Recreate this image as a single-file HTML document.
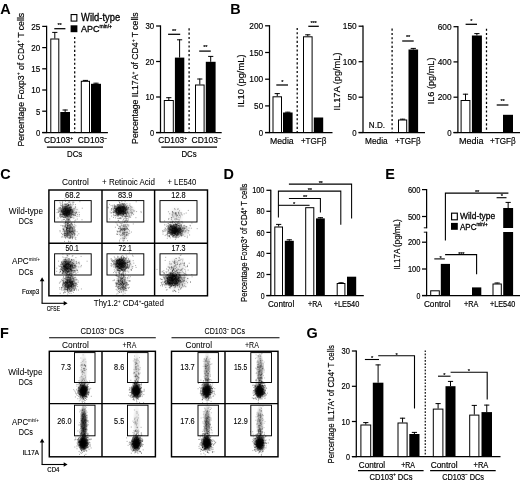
<!DOCTYPE html>
<html lang="en"><head><meta charset="utf-8"><title>Figure</title>
<style>html,body{margin:0;padding:0;background:#fff}svg{display:block}text{font-family:"Liberation Sans", sans-serif;fill:#000;stroke:#000;stroke-width:.18px}.s{stroke-width:.04px}.m{stroke-width:.16px}.b{stroke-width:.3px}.n{stroke-width:.12px}</style>
</head><body>
<svg width="520" height="482" viewBox="0 0 520 482">
<defs><radialGradient id="cg"><stop offset="0" stop-color="#000" stop-opacity="1"/><stop offset="0.5" stop-color="#000" stop-opacity="0.8"/><stop offset="0.78" stop-color="#000" stop-opacity="0.28"/><stop offset="1" stop-color="#000" stop-opacity="0"/></radialGradient><filter id="bl" x="-5%" y="-5%" width="110%" height="110%"><feGaussianBlur stdDeviation="0.3"/></filter><filter id="bl2" x="-30%" y="-30%" width="160%" height="160%"><feGaussianBlur stdDeviation="0.8"/></filter></defs>
<rect width="520" height="482" fill="#fff"/>
<text x="0.25" y="13.60" font-size="14.4" font-weight="bold" class="s">A</text>
<text x="230.30" y="13.60" font-size="14.4" font-weight="bold" class="s">B</text>
<text x="0.20" y="179.00" font-size="14.4" font-weight="bold" class="s">C</text>
<text x="223.40" y="178.80" font-size="14.4" font-weight="bold" class="s">D</text>
<text x="385.20" y="178.80" font-size="14.4" font-weight="bold" class="s">E</text>
<text x="0.10" y="337.80" font-size="14.4" font-weight="bold" class="s">F</text>
<text x="306.40" y="337.90" font-size="14.4" font-weight="bold" class="s">G</text>
<line x1="46.60" y1="25.77" x2="46.60" y2="133.12" stroke="#000" stroke-width="1.25"/>
<line x1="42.20" y1="26.40" x2="46.60" y2="26.40" stroke="#000" stroke-width="1.25"/>
<text x="40.30" y="29.76" font-size="9.60" text-anchor="end" textLength="9.00" lengthAdjust="spacingAndGlyphs">25</text>
<line x1="42.20" y1="47.60" x2="46.60" y2="47.60" stroke="#000" stroke-width="1.25"/>
<text x="40.30" y="50.96" font-size="9.60" text-anchor="end" textLength="9.00" lengthAdjust="spacingAndGlyphs">20</text>
<line x1="42.20" y1="68.80" x2="46.60" y2="68.80" stroke="#000" stroke-width="1.25"/>
<text x="40.30" y="72.16" font-size="9.60" text-anchor="end" textLength="9.00" lengthAdjust="spacingAndGlyphs">15</text>
<line x1="42.20" y1="90.00" x2="46.60" y2="90.00" stroke="#000" stroke-width="1.25"/>
<text x="40.30" y="93.36" font-size="9.60" text-anchor="end" textLength="9.00" lengthAdjust="spacingAndGlyphs">10</text>
<line x1="42.20" y1="111.20" x2="46.60" y2="111.20" stroke="#000" stroke-width="1.25"/>
<text x="40.30" y="114.56" font-size="9.60" text-anchor="end" textLength="4.30" lengthAdjust="spacingAndGlyphs">5</text>
<line x1="42.20" y1="132.50" x2="46.60" y2="132.50" stroke="#000" stroke-width="1.25"/>
<text x="40.30" y="135.86" font-size="9.60" text-anchor="end" textLength="4.30" lengthAdjust="spacingAndGlyphs">0</text>
<line x1="42.20" y1="132.50" x2="107.90" y2="132.50" stroke="#000" stroke-width="1.25"/>
<line x1="54.80" y1="38.50" x2="54.80" y2="32.00" stroke="#000" stroke-width="1.00"/>
<line x1="52.20" y1="32.40" x2="57.40" y2="32.40" stroke="#000" stroke-width="1.00"/>
<rect x="50.80" y="39.00" width="8.00" height="93.50" fill="#fff" stroke="#000" stroke-width="1.00"/>
<line x1="65.15" y1="112.00" x2="65.15" y2="109.60" stroke="#000" stroke-width="1.00"/>
<line x1="62.55" y1="110.00" x2="67.75" y2="110.00" stroke="#000" stroke-width="1.00"/>
<rect x="60.30" y="112.00" width="9.70" height="20.50" fill="#000"/>
<line x1="85.40" y1="80.80" x2="85.40" y2="80.00" stroke="#000" stroke-width="1.00"/>
<line x1="82.80" y1="80.40" x2="88.00" y2="80.40" stroke="#000" stroke-width="1.00"/>
<rect x="81.30" y="81.30" width="8.20" height="51.20" fill="#fff" stroke="#000" stroke-width="1.00"/>
<line x1="96.00" y1="83.80" x2="96.00" y2="82.80" stroke="#000" stroke-width="1.00"/>
<line x1="93.40" y1="83.20" x2="98.60" y2="83.20" stroke="#000" stroke-width="1.00"/>
<rect x="91.00" y="83.80" width="10.00" height="48.70" fill="#000"/>
<line x1="74.70" y1="36.90" x2="74.70" y2="132.50" stroke="#000" stroke-width="1.25" stroke-dasharray="2.1 2.2"/>
<line x1="54.30" y1="28.70" x2="65.40" y2="28.70" stroke="#000" stroke-width="1.25"/>
<text x="59.50" y="26.65" font-size="5.80" text-anchor="middle" letter-spacing="-0.3">**</text>
<rect x="71.15" y="14.55" width="5.70" height="6.55" fill="#fff" stroke="#000" stroke-width="1.10"/>
<rect x="70.60" y="25.30" width="6.80" height="6.90" fill="#000"/>
<text x="81.00" y="21.30" font-size="10.00" textLength="39.20" lengthAdjust="spacingAndGlyphs" class="b">Wild-type</text>
<text x="81.00" y="31.80" font-size="9.60" textLength="31.00" lengthAdjust="spacingAndGlyphs" class="b">APC<tspan dy="-3.65" font-size="5.38">min/+</tspan></text>
<text x="43.90" y="143.40" font-size="9.30" textLength="29.10" lengthAdjust="spacingAndGlyphs">CD103<tspan dy="-3.53" font-size="5.21">+</tspan></text>
<text x="77.70" y="143.40" font-size="9.30" textLength="29.20" lengthAdjust="spacingAndGlyphs">CD103<tspan dy="-3.53" font-size="5.21">−</tspan></text>
<line x1="46.90" y1="147.20" x2="103.00" y2="147.20" stroke="#000" stroke-width="1.20"/>
<text x="67.00" y="157.40" font-size="9.30" textLength="15.20" lengthAdjust="spacingAndGlyphs">DCs</text>
<text transform="translate(23.70 146.60) rotate(-90)" font-size="9.20" textLength="133.80" lengthAdjust="spacingAndGlyphs">Percentage Foxp3<tspan dy="-3.50" font-size="5.15">+</tspan><tspan dy="3.50"> of CD4</tspan><tspan dy="-3.50" font-size="5.15">+</tspan><tspan dy="3.50"> T cells</tspan></text>
<line x1="160.50" y1="25.38" x2="160.50" y2="133.12" stroke="#000" stroke-width="1.25"/>
<line x1="156.10" y1="26.00" x2="160.50" y2="26.00" stroke="#000" stroke-width="1.25"/>
<text x="154.20" y="29.18" font-size="9.10" text-anchor="end" textLength="8.70" lengthAdjust="spacingAndGlyphs">30</text>
<line x1="156.10" y1="61.50" x2="160.50" y2="61.50" stroke="#000" stroke-width="1.25"/>
<text x="154.20" y="64.69" font-size="9.10" text-anchor="end" textLength="8.70" lengthAdjust="spacingAndGlyphs">20</text>
<line x1="156.10" y1="97.00" x2="160.50" y2="97.00" stroke="#000" stroke-width="1.25"/>
<text x="154.20" y="100.19" font-size="9.10" text-anchor="end" textLength="8.70" lengthAdjust="spacingAndGlyphs">10</text>
<line x1="156.10" y1="132.50" x2="160.50" y2="132.50" stroke="#000" stroke-width="1.25"/>
<text x="154.20" y="135.69" font-size="9.10" text-anchor="end" textLength="4.15" lengthAdjust="spacingAndGlyphs">0</text>
<line x1="156.10" y1="132.50" x2="221.70" y2="132.50" stroke="#000" stroke-width="1.25"/>
<line x1="168.80" y1="100.00" x2="168.80" y2="97.30" stroke="#000" stroke-width="1.00"/>
<line x1="166.20" y1="97.70" x2="171.40" y2="97.70" stroke="#000" stroke-width="1.00"/>
<rect x="164.30" y="100.50" width="9.00" height="32.00" fill="#fff" stroke="#000" stroke-width="1.00"/>
<line x1="179.60" y1="57.60" x2="179.60" y2="39.40" stroke="#000" stroke-width="1.00"/>
<line x1="177.00" y1="39.80" x2="182.20" y2="39.80" stroke="#000" stroke-width="1.00"/>
<rect x="174.90" y="57.60" width="9.40" height="74.90" fill="#000"/>
<line x1="199.80" y1="84.50" x2="199.80" y2="78.60" stroke="#000" stroke-width="1.00"/>
<line x1="197.20" y1="79.00" x2="202.40" y2="79.00" stroke="#000" stroke-width="1.00"/>
<rect x="195.50" y="85.00" width="8.60" height="47.50" fill="#fff" stroke="#000" stroke-width="1.00"/>
<line x1="210.70" y1="61.80" x2="210.70" y2="56.00" stroke="#000" stroke-width="1.00"/>
<line x1="208.10" y1="56.40" x2="213.30" y2="56.40" stroke="#000" stroke-width="1.00"/>
<rect x="205.80" y="61.80" width="9.80" height="70.70" fill="#000"/>
<line x1="189.10" y1="28.30" x2="189.10" y2="132.50" stroke="#000" stroke-width="1.25" stroke-dasharray="2.1 2.2"/>
<line x1="168.10" y1="34.30" x2="180.20" y2="34.30" stroke="#000" stroke-width="1.25"/>
<text x="174.00" y="32.65" font-size="5.80" text-anchor="middle" letter-spacing="-0.3">**</text>
<line x1="199.20" y1="51.10" x2="210.80" y2="51.10" stroke="#000" stroke-width="1.25"/>
<text x="205.20" y="49.25" font-size="5.80" text-anchor="middle" letter-spacing="-0.3">**</text>
<text x="158.30" y="143.40" font-size="9.30" textLength="28.60" lengthAdjust="spacingAndGlyphs">CD103<tspan dy="-3.53" font-size="5.21">+</tspan></text>
<text x="191.50" y="143.40" font-size="9.30" textLength="29.20" lengthAdjust="spacingAndGlyphs">CD103<tspan dy="-3.53" font-size="5.21">−</tspan></text>
<line x1="161.30" y1="147.20" x2="217.00" y2="147.20" stroke="#000" stroke-width="1.20"/>
<text x="181.40" y="157.40" font-size="9.30" textLength="15.20" lengthAdjust="spacingAndGlyphs">DCs</text>
<text transform="translate(138.00 143.90) rotate(-90)" font-size="9.20" textLength="131.50" lengthAdjust="spacingAndGlyphs">Percentage IL17A<tspan dy="-3.50" font-size="5.15">+</tspan><tspan dy="3.50"> of CD4</tspan><tspan dy="-3.50" font-size="5.15">+</tspan><tspan dy="3.50"> T cells</tspan></text>
<line x1="269.50" y1="25.18" x2="269.50" y2="133.12" stroke="#000" stroke-width="1.25"/>
<line x1="265.10" y1="25.80" x2="269.50" y2="25.80" stroke="#000" stroke-width="1.25"/>
<text x="263.20" y="29.05" font-size="9.30" text-anchor="end" textLength="13.85" lengthAdjust="spacingAndGlyphs">200</text>
<line x1="265.10" y1="52.50" x2="269.50" y2="52.50" stroke="#000" stroke-width="1.25"/>
<text x="263.20" y="55.76" font-size="9.30" text-anchor="end" textLength="13.85" lengthAdjust="spacingAndGlyphs">150</text>
<line x1="265.10" y1="79.20" x2="269.50" y2="79.20" stroke="#000" stroke-width="1.25"/>
<text x="263.20" y="82.45" font-size="9.30" text-anchor="end" textLength="13.85" lengthAdjust="spacingAndGlyphs">100</text>
<line x1="265.10" y1="105.90" x2="269.50" y2="105.90" stroke="#000" stroke-width="1.25"/>
<text x="263.20" y="109.16" font-size="9.30" text-anchor="end" textLength="9.10" lengthAdjust="spacingAndGlyphs">50</text>
<line x1="265.10" y1="132.50" x2="269.50" y2="132.50" stroke="#000" stroke-width="1.25"/>
<text x="263.20" y="135.75" font-size="9.30" text-anchor="end" textLength="4.35" lengthAdjust="spacingAndGlyphs">0</text>
<line x1="265.10" y1="132.50" x2="332.50" y2="132.50" stroke="#000" stroke-width="1.25"/>
<line x1="277.25" y1="96.30" x2="277.25" y2="93.20" stroke="#000" stroke-width="1.00"/>
<line x1="274.65" y1="93.60" x2="279.85" y2="93.60" stroke="#000" stroke-width="1.00"/>
<rect x="273.00" y="96.80" width="8.50" height="35.70" fill="#fff" stroke="#000" stroke-width="1.00"/>
<line x1="287.80" y1="112.50" x2="287.80" y2="111.80" stroke="#000" stroke-width="1.00"/>
<line x1="285.20" y1="112.20" x2="290.40" y2="112.20" stroke="#000" stroke-width="1.00"/>
<rect x="283.00" y="112.50" width="9.60" height="20.00" fill="#000"/>
<line x1="307.80" y1="36.30" x2="307.80" y2="34.40" stroke="#000" stroke-width="1.00"/>
<line x1="305.20" y1="34.80" x2="310.40" y2="34.80" stroke="#000" stroke-width="1.00"/>
<rect x="303.50" y="36.80" width="8.60" height="95.70" fill="#fff" stroke="#000" stroke-width="1.00"/>
<rect x="313.80" y="117.50" width="9.40" height="15.00" fill="#000"/>
<line x1="297.20" y1="27.90" x2="297.20" y2="132.50" stroke="#000" stroke-width="1.25" stroke-dasharray="2.1 2.2"/>
<line x1="276.30" y1="85.00" x2="288.00" y2="85.00" stroke="#000" stroke-width="1.25"/>
<text x="282.20" y="83.55" font-size="5.80" text-anchor="middle" letter-spacing="-0.3">*</text>
<line x1="308.30" y1="26.30" x2="318.80" y2="26.30" stroke="#000" stroke-width="1.25"/>
<text x="313.50" y="24.75" font-size="5.80" text-anchor="middle" letter-spacing="-0.3">***</text>
<text x="270.00" y="143.50" font-size="9.30" textLength="23.70" lengthAdjust="spacingAndGlyphs">Media</text>
<text x="300.90" y="143.50" font-size="9.30" textLength="25.50" lengthAdjust="spacingAndGlyphs">+TGFβ</text>
<text transform="translate(243.50 107.30) rotate(-90)" font-size="9.70" textLength="52.80" lengthAdjust="spacingAndGlyphs">IL10 (pg/mL)</text>
<line x1="363.00" y1="25.57" x2="363.00" y2="133.12" stroke="#000" stroke-width="1.25"/>
<line x1="358.60" y1="26.20" x2="363.00" y2="26.20" stroke="#000" stroke-width="1.25"/>
<text x="356.70" y="29.45" font-size="9.30" text-anchor="end" textLength="13.85" lengthAdjust="spacingAndGlyphs">150</text>
<line x1="358.60" y1="61.70" x2="363.00" y2="61.70" stroke="#000" stroke-width="1.25"/>
<text x="356.70" y="64.95" font-size="9.30" text-anchor="end" textLength="13.85" lengthAdjust="spacingAndGlyphs">100</text>
<line x1="358.60" y1="97.20" x2="363.00" y2="97.20" stroke="#000" stroke-width="1.25"/>
<text x="356.70" y="100.45" font-size="9.30" text-anchor="end" textLength="9.10" lengthAdjust="spacingAndGlyphs">50</text>
<line x1="358.60" y1="132.50" x2="363.00" y2="132.50" stroke="#000" stroke-width="1.25"/>
<text x="356.70" y="135.75" font-size="9.30" text-anchor="end" textLength="4.35" lengthAdjust="spacingAndGlyphs">0</text>
<line x1="358.60" y1="132.50" x2="425.00" y2="132.50" stroke="#000" stroke-width="1.25"/>
<line x1="392.10" y1="28.60" x2="392.10" y2="132.50" stroke="#000" stroke-width="1.25" stroke-dasharray="2.1 2.2"/>
<text x="368.80" y="127.60" font-size="9.00" textLength="16.20" lengthAdjust="spacingAndGlyphs">N.D.</text>
<line x1="402.60" y1="119.50" x2="402.60" y2="118.80" stroke="#000" stroke-width="1.00"/>
<line x1="400.00" y1="119.20" x2="405.20" y2="119.20" stroke="#000" stroke-width="1.00"/>
<rect x="398.50" y="120.00" width="8.20" height="12.50" fill="#fff" stroke="#000" stroke-width="1.00"/>
<line x1="413.30" y1="49.50" x2="413.30" y2="48.00" stroke="#000" stroke-width="1.00"/>
<line x1="410.70" y1="48.40" x2="415.90" y2="48.40" stroke="#000" stroke-width="1.00"/>
<rect x="408.50" y="49.50" width="9.60" height="83.00" fill="#000"/>
<line x1="402.20" y1="41.00" x2="413.70" y2="41.00" stroke="#000" stroke-width="1.25"/>
<text x="407.90" y="38.65" font-size="5.80" text-anchor="middle" letter-spacing="-0.3">**</text>
<text x="365.00" y="143.50" font-size="9.30" textLength="22.60" lengthAdjust="spacingAndGlyphs">Media</text>
<text x="395.00" y="143.50" font-size="9.30" textLength="25.60" lengthAdjust="spacingAndGlyphs">+TGFβ</text>
<text transform="translate(339.60 110.50) rotate(-90)" font-size="9.70" textLength="58.00" lengthAdjust="spacingAndGlyphs">IL17A (pg/mL)</text>
<line x1="457.90" y1="26.07" x2="457.90" y2="133.12" stroke="#000" stroke-width="1.25"/>
<line x1="453.50" y1="26.70" x2="457.90" y2="26.70" stroke="#000" stroke-width="1.25"/>
<text x="451.60" y="29.95" font-size="9.30" text-anchor="end" textLength="13.85" lengthAdjust="spacingAndGlyphs">600</text>
<line x1="453.50" y1="61.90" x2="457.90" y2="61.90" stroke="#000" stroke-width="1.25"/>
<text x="451.60" y="65.16" font-size="9.30" text-anchor="end" textLength="13.85" lengthAdjust="spacingAndGlyphs">400</text>
<line x1="453.50" y1="97.20" x2="457.90" y2="97.20" stroke="#000" stroke-width="1.25"/>
<text x="451.60" y="100.45" font-size="9.30" text-anchor="end" textLength="13.85" lengthAdjust="spacingAndGlyphs">200</text>
<line x1="453.50" y1="132.50" x2="457.90" y2="132.50" stroke="#000" stroke-width="1.25"/>
<text x="451.60" y="135.75" font-size="9.30" text-anchor="end" textLength="4.35" lengthAdjust="spacingAndGlyphs">0</text>
<line x1="453.50" y1="132.50" x2="520.00" y2="132.50" stroke="#000" stroke-width="1.25"/>
<line x1="465.50" y1="100.00" x2="465.50" y2="93.80" stroke="#000" stroke-width="1.00"/>
<line x1="462.90" y1="94.20" x2="468.10" y2="94.20" stroke="#000" stroke-width="1.00"/>
<rect x="461.10" y="100.50" width="8.80" height="32.00" fill="#fff" stroke="#000" stroke-width="1.00"/>
<line x1="476.90" y1="35.50" x2="476.90" y2="33.20" stroke="#000" stroke-width="1.00"/>
<line x1="474.30" y1="33.60" x2="479.50" y2="33.60" stroke="#000" stroke-width="1.00"/>
<rect x="471.90" y="35.50" width="10.00" height="97.00" fill="#000"/>
<rect x="503.00" y="114.80" width="10.00" height="17.70" fill="#000"/>
<line x1="486.50" y1="28.70" x2="486.50" y2="132.50" stroke="#000" stroke-width="1.25" stroke-dasharray="2.1 2.2"/>
<line x1="465.60" y1="24.30" x2="477.00" y2="24.30" stroke="#000" stroke-width="1.25"/>
<text x="471.30" y="22.75" font-size="5.80" text-anchor="middle" letter-spacing="-0.3">*</text>
<line x1="496.70" y1="105.00" x2="508.40" y2="105.00" stroke="#000" stroke-width="1.25"/>
<text x="502.50" y="103.25" font-size="5.80" text-anchor="middle" letter-spacing="-0.3">**</text>
<text x="459.00" y="143.50" font-size="9.30" textLength="24.60" lengthAdjust="spacingAndGlyphs">Media</text>
<text x="490.00" y="143.50" font-size="9.30" textLength="25.60" lengthAdjust="spacingAndGlyphs">+TGFβ</text>
<text transform="translate(434.10 104.30) rotate(-90)" font-size="9.70" textLength="46.80" lengthAdjust="spacingAndGlyphs">IL6 (pg/mL)</text>
<line x1="270.80" y1="189.68" x2="270.80" y2="296.12" stroke="#000" stroke-width="1.25"/>
<line x1="266.40" y1="190.30" x2="270.80" y2="190.30" stroke="#000" stroke-width="1.25"/>
<text x="264.50" y="193.42" font-size="8.90" text-anchor="end" textLength="12.35" lengthAdjust="spacingAndGlyphs">100</text>
<line x1="266.40" y1="211.30" x2="270.80" y2="211.30" stroke="#000" stroke-width="1.25"/>
<text x="264.50" y="214.42" font-size="8.90" text-anchor="end" textLength="8.10" lengthAdjust="spacingAndGlyphs">80</text>
<line x1="266.40" y1="232.40" x2="270.80" y2="232.40" stroke="#000" stroke-width="1.25"/>
<text x="264.50" y="235.52" font-size="8.90" text-anchor="end" textLength="8.10" lengthAdjust="spacingAndGlyphs">60</text>
<line x1="266.40" y1="253.40" x2="270.80" y2="253.40" stroke="#000" stroke-width="1.25"/>
<text x="264.50" y="256.51" font-size="8.90" text-anchor="end" textLength="8.10" lengthAdjust="spacingAndGlyphs">40</text>
<line x1="266.40" y1="274.50" x2="270.80" y2="274.50" stroke="#000" stroke-width="1.25"/>
<text x="264.50" y="277.62" font-size="8.90" text-anchor="end" textLength="8.10" lengthAdjust="spacingAndGlyphs">20</text>
<line x1="266.40" y1="295.50" x2="270.80" y2="295.50" stroke="#000" stroke-width="1.25"/>
<text x="264.50" y="298.62" font-size="8.90" text-anchor="end" textLength="3.85" lengthAdjust="spacingAndGlyphs">0</text>
<line x1="266.40" y1="295.50" x2="363.80" y2="295.50" stroke="#000" stroke-width="1.25"/>
<line x1="278.65" y1="226.50" x2="278.65" y2="224.00" stroke="#000" stroke-width="1.00"/>
<line x1="276.05" y1="224.40" x2="281.25" y2="224.40" stroke="#000" stroke-width="1.00"/>
<rect x="274.80" y="227.00" width="7.70" height="68.50" fill="#fff" stroke="#000" stroke-width="1.00"/>
<line x1="289.30" y1="240.80" x2="289.30" y2="239.40" stroke="#000" stroke-width="1.00"/>
<line x1="286.70" y1="239.80" x2="291.90" y2="239.80" stroke="#000" stroke-width="1.00"/>
<rect x="284.80" y="240.80" width="9.00" height="54.70" fill="#000"/>
<rect x="305.70" y="207.70" width="8.10" height="87.80" fill="#fff" stroke="#000" stroke-width="1.00"/>
<line x1="320.40" y1="218.40" x2="320.40" y2="217.30" stroke="#000" stroke-width="1.00"/>
<line x1="317.80" y1="217.70" x2="323.00" y2="217.70" stroke="#000" stroke-width="1.00"/>
<rect x="316.00" y="218.40" width="8.80" height="77.10" fill="#000"/>
<line x1="341.05" y1="283.00" x2="341.05" y2="282.40" stroke="#000" stroke-width="1.00"/>
<line x1="338.45" y1="282.80" x2="343.65" y2="282.80" stroke="#000" stroke-width="1.00"/>
<rect x="337.20" y="283.50" width="7.70" height="12.00" fill="#fff" stroke="#000" stroke-width="1.00"/>
<rect x="347.00" y="276.70" width="9.20" height="18.80" fill="#000"/>
<polyline points="288.90,184.10 351.60,184.10 351.60,218.40" fill="none" stroke="#000" stroke-width="1.05"/>
<polyline points="278.40,217.60 278.40,191.10 340.80,191.10 340.80,224.70" fill="none" stroke="#000" stroke-width="1.05"/>
<polyline points="288.90,198.50 320.40,198.50 320.40,212.50" fill="none" stroke="#000" stroke-width="1.05"/>
<line x1="278.40" y1="205.30" x2="309.60" y2="205.30" stroke="#000" stroke-width="1.05"/>
<text x="320.60" y="184.95" font-size="5.80" text-anchor="middle" letter-spacing="-0.3">**</text>
<text x="309.70" y="191.85" font-size="5.80" text-anchor="middle" letter-spacing="-0.3">**</text>
<text x="305.00" y="199.35" font-size="5.80" text-anchor="middle" letter-spacing="-0.3">**</text>
<text x="293.90" y="206.25" font-size="5.80" text-anchor="middle" letter-spacing="-0.3">*</text>
<text x="268.00" y="307.30" font-size="8.30" textLength="26.20" lengthAdjust="spacingAndGlyphs">Control</text>
<text x="308.00" y="307.30" font-size="8.30" textLength="14.00" lengthAdjust="spacingAndGlyphs">+RA</text>
<text x="333.70" y="307.30" font-size="8.30" textLength="25.60" lengthAdjust="spacingAndGlyphs">+LE540</text>
<text transform="translate(246.80 302.00) rotate(-90)" font-size="8.30" textLength="118.50" lengthAdjust="spacingAndGlyphs">Percentage Foxp3<tspan dy="-3.15" font-size="4.65">+</tspan><tspan dy="3.15"> of CD4</tspan><tspan dy="-3.15" font-size="4.65">+</tspan><tspan dy="3.15"> T cells</tspan></text>
<line x1="426.60" y1="188.97" x2="426.60" y2="228.20" stroke="#000" stroke-width="1.25"/>
<line x1="426.60" y1="231.80" x2="426.60" y2="296.12" stroke="#000" stroke-width="1.25"/>
<line x1="423.80" y1="227.80" x2="427.10" y2="227.80" stroke="#000" stroke-width="0.90"/>
<line x1="423.80" y1="232.20" x2="427.10" y2="232.20" stroke="#000" stroke-width="0.90"/>
<line x1="422.00" y1="189.60" x2="426.60" y2="189.60" stroke="#000" stroke-width="1.25"/>
<text x="420.40" y="192.68" font-size="8.80" text-anchor="end" textLength="12.50" lengthAdjust="spacingAndGlyphs">600</text>
<line x1="422.00" y1="216.50" x2="426.60" y2="216.50" stroke="#000" stroke-width="1.25"/>
<text x="420.40" y="219.58" font-size="8.80" text-anchor="end" textLength="12.50" lengthAdjust="spacingAndGlyphs">500</text>
<line x1="422.00" y1="242.20" x2="426.60" y2="242.20" stroke="#000" stroke-width="1.25"/>
<text x="420.40" y="245.28" font-size="8.80" text-anchor="end" textLength="12.50" lengthAdjust="spacingAndGlyphs">200</text>
<line x1="422.00" y1="269.00" x2="426.60" y2="269.00" stroke="#000" stroke-width="1.25"/>
<text x="420.40" y="272.08" font-size="8.80" text-anchor="end" textLength="12.50" lengthAdjust="spacingAndGlyphs">100</text>
<line x1="422.00" y1="295.50" x2="426.60" y2="295.50" stroke="#000" stroke-width="1.25"/>
<text x="420.40" y="298.58" font-size="8.80" text-anchor="end" textLength="3.90" lengthAdjust="spacingAndGlyphs">0</text>
<line x1="422.00" y1="295.50" x2="520.00" y2="295.50" stroke="#000" stroke-width="1.25"/>
<rect x="430.70" y="290.80" width="8.60" height="4.70" fill="#fff" stroke="#000" stroke-width="1.00"/>
<rect x="440.80" y="263.90" width="9.20" height="31.60" fill="#000"/>
<rect x="472.00" y="287.40" width="9.30" height="8.10" fill="#000"/>
<line x1="497.15" y1="283.50" x2="497.15" y2="282.60" stroke="#000" stroke-width="1.00"/>
<line x1="494.55" y1="283.00" x2="499.75" y2="283.00" stroke="#000" stroke-width="1.00"/>
<rect x="493.00" y="284.00" width="8.30" height="11.50" fill="#fff" stroke="#000" stroke-width="1.00"/>
<line x1="508.15" y1="208.00" x2="508.15" y2="202.00" stroke="#000" stroke-width="1.00"/>
<line x1="505.55" y1="202.40" x2="510.75" y2="202.40" stroke="#000" stroke-width="1.00"/>
<rect x="503.20" y="208.00" width="9.90" height="87.50" fill="#000"/>
<rect x="502" y="228" width="12.4" height="4" fill="#fff"/>
<polyline points="445.40,240.60 445.40,193.10 508.40,193.10" fill="none" stroke="#000" stroke-width="1.10"/>
<line x1="496.60" y1="197.70" x2="506.50" y2="197.70" stroke="#000" stroke-width="1.10"/>
<text x="501.70" y="197.65" font-size="5.80" text-anchor="middle" letter-spacing="-0.3">*</text>
<text x="477.00" y="193.85" font-size="5.80" text-anchor="middle" letter-spacing="-0.3">**</text>
<line x1="434.30" y1="258.90" x2="444.80" y2="258.90" stroke="#000" stroke-width="1.10"/>
<text x="440.50" y="259.85" font-size="5.80" text-anchor="middle" letter-spacing="-0.3">*</text>
<polyline points="445.10,254.60 476.60,254.60 476.60,274.30" fill="none" stroke="#000" stroke-width="1.10"/>
<text x="461.20" y="255.65" font-size="5.80" text-anchor="middle" letter-spacing="-0.3">***</text>
<rect x="451.57" y="213.17" width="5.75" height="6.63" fill="#fff" stroke="#000" stroke-width="1.15"/>
<rect x="451.00" y="222.90" width="6.80" height="6.90" fill="#000"/>
<text x="460.00" y="219.30" font-size="9.20" textLength="35.20" lengthAdjust="spacingAndGlyphs" class="b">Wild-type</text>
<text x="460.00" y="229.70" font-size="9.20" textLength="27.70" lengthAdjust="spacingAndGlyphs" class="b">APC<tspan dy="-3.50" font-size="5.15">min/+</tspan></text>
<text x="423.90" y="307.30" font-size="8.30" textLength="26.60" lengthAdjust="spacingAndGlyphs">Control</text>
<text x="464.00" y="307.30" font-size="8.30" textLength="14.30" lengthAdjust="spacingAndGlyphs">+RA</text>
<text x="490.00" y="307.30" font-size="8.30" textLength="25.20" lengthAdjust="spacingAndGlyphs">+LE540</text>
<text transform="translate(400.00 269.80) rotate(-90)" font-size="8.40" textLength="50.60" lengthAdjust="spacingAndGlyphs">IL17A (pg/mL)</text>
<line x1="356.30" y1="350.38" x2="356.30" y2="457.23" stroke="#000" stroke-width="1.25"/>
<line x1="351.90" y1="351.00" x2="356.30" y2="351.00" stroke="#000" stroke-width="1.25"/>
<text x="350.00" y="354.08" font-size="8.80" text-anchor="end" textLength="8.40" lengthAdjust="spacingAndGlyphs">30</text>
<line x1="351.90" y1="386.30" x2="356.30" y2="386.30" stroke="#000" stroke-width="1.25"/>
<text x="350.00" y="389.38" font-size="8.80" text-anchor="end" textLength="8.40" lengthAdjust="spacingAndGlyphs">20</text>
<line x1="351.90" y1="421.50" x2="356.30" y2="421.50" stroke="#000" stroke-width="1.25"/>
<text x="350.00" y="424.58" font-size="8.80" text-anchor="end" textLength="8.40" lengthAdjust="spacingAndGlyphs">10</text>
<line x1="351.90" y1="456.60" x2="356.30" y2="456.60" stroke="#000" stroke-width="1.25"/>
<text x="350.00" y="459.68" font-size="8.80" text-anchor="end" textLength="4.00" lengthAdjust="spacingAndGlyphs">0</text>
<line x1="351.90" y1="456.60" x2="500.50" y2="456.60" stroke="#000" stroke-width="1.25"/>
<line x1="365.80" y1="424.50" x2="365.80" y2="422.20" stroke="#000" stroke-width="1.00"/>
<line x1="363.20" y1="422.60" x2="368.40" y2="422.60" stroke="#000" stroke-width="1.00"/>
<rect x="360.90" y="425.00" width="9.80" height="31.60" fill="#fff" stroke="#000" stroke-width="1.00"/>
<line x1="378.10" y1="382.70" x2="378.10" y2="364.50" stroke="#000" stroke-width="1.00"/>
<line x1="375.50" y1="364.90" x2="380.70" y2="364.90" stroke="#000" stroke-width="1.00"/>
<rect x="372.80" y="382.70" width="10.60" height="73.90" fill="#000"/>
<line x1="402.55" y1="422.50" x2="402.55" y2="417.80" stroke="#000" stroke-width="1.00"/>
<line x1="399.95" y1="418.20" x2="405.15" y2="418.20" stroke="#000" stroke-width="1.00"/>
<rect x="398.00" y="423.00" width="9.10" height="33.60" fill="#fff" stroke="#000" stroke-width="1.00"/>
<line x1="414.40" y1="434.00" x2="414.40" y2="432.00" stroke="#000" stroke-width="1.00"/>
<line x1="411.80" y1="432.40" x2="417.00" y2="432.40" stroke="#000" stroke-width="1.00"/>
<rect x="409.30" y="434.00" width="10.20" height="22.60" fill="#000"/>
<line x1="438.10" y1="408.60" x2="438.10" y2="403.20" stroke="#000" stroke-width="1.00"/>
<line x1="435.50" y1="403.60" x2="440.70" y2="403.60" stroke="#000" stroke-width="1.00"/>
<rect x="433.30" y="409.10" width="9.60" height="47.50" fill="#fff" stroke="#000" stroke-width="1.00"/>
<line x1="450.50" y1="386.20" x2="450.50" y2="381.00" stroke="#000" stroke-width="1.00"/>
<line x1="447.90" y1="381.40" x2="453.10" y2="381.40" stroke="#000" stroke-width="1.00"/>
<rect x="445.50" y="386.20" width="10.00" height="70.40" fill="#000"/>
<line x1="474.30" y1="414.60" x2="474.30" y2="405.00" stroke="#000" stroke-width="1.00"/>
<line x1="471.70" y1="405.40" x2="476.90" y2="405.40" stroke="#000" stroke-width="1.00"/>
<rect x="469.70" y="415.10" width="9.20" height="41.50" fill="#fff" stroke="#000" stroke-width="1.00"/>
<line x1="486.75" y1="412.10" x2="486.75" y2="404.70" stroke="#000" stroke-width="1.00"/>
<line x1="484.15" y1="405.10" x2="489.35" y2="405.10" stroke="#000" stroke-width="1.00"/>
<rect x="481.50" y="412.10" width="10.50" height="44.50" fill="#000"/>
<line x1="425.25" y1="350.40" x2="425.25" y2="456.60" stroke="#000" stroke-width="1.15" stroke-dasharray="1.7 1.5"/>
<line x1="364.90" y1="359.50" x2="379.00" y2="359.50" stroke="#000" stroke-width="1.10"/>
<text x="372.10" y="360.45" font-size="5.80" text-anchor="middle" letter-spacing="-0.3">*</text>
<polyline points="378.20,355.70 414.50,355.70 414.50,408.60" fill="none" stroke="#000" stroke-width="1.10"/>
<text x="396.40" y="356.55" font-size="5.80" text-anchor="middle" letter-spacing="-0.3">*</text>
<line x1="438.00" y1="376.20" x2="450.50" y2="376.20" stroke="#000" stroke-width="1.10"/>
<text x="444.30" y="376.95" font-size="5.80" text-anchor="middle" letter-spacing="-0.3">*</text>
<polyline points="450.60,372.20 487.20,372.20 487.20,399.40" fill="none" stroke="#000" stroke-width="1.10"/>
<text x="468.80" y="372.85" font-size="5.80" text-anchor="middle" letter-spacing="-0.3">*</text>
<text x="358.80" y="467.70" font-size="8.20" textLength="26.20" lengthAdjust="spacingAndGlyphs">Control</text>
<text x="401.30" y="467.70" font-size="8.20" textLength="13.70" lengthAdjust="spacingAndGlyphs">+RA</text>
<line x1="358.00" y1="470.60" x2="423.60" y2="470.60" stroke="#000" stroke-width="1.10"/>
<text x="369.50" y="479.60" font-size="8.20" textLength="43.00" lengthAdjust="spacingAndGlyphs">CD103<tspan dy="-3.12" font-size="4.59">+</tspan><tspan dy="3.12"> DCs</tspan></text>
<text x="430.70" y="467.70" font-size="8.20" textLength="26.90" lengthAdjust="spacingAndGlyphs">Control</text>
<text x="473.50" y="467.70" font-size="8.20" textLength="14.80" lengthAdjust="spacingAndGlyphs">+RA</text>
<line x1="430.10" y1="470.60" x2="495.70" y2="470.60" stroke="#000" stroke-width="1.10"/>
<text x="442.20" y="479.60" font-size="8.20" textLength="41.80" lengthAdjust="spacingAndGlyphs">CD103<tspan dy="-3.12" font-size="4.59">−</tspan><tspan dy="3.12"> DCs</tspan></text>
<text transform="translate(333.80 463.40) rotate(-90)" font-size="8.30" textLength="118.40" lengthAdjust="spacingAndGlyphs">Percentage IL17A<tspan dy="-3.15" font-size="4.65">+</tspan><tspan dy="3.15"> of CD4</tspan><tspan dy="-3.15" font-size="4.65">+</tspan><tspan dy="3.15"> T cells</tspan></text>
<text x="62.00" y="184.60" font-size="8.40" textLength="26.80" lengthAdjust="spacingAndGlyphs" class="s">Control</text>
<text x="102.00" y="184.60" font-size="8.40" textLength="53.00" lengthAdjust="spacingAndGlyphs" class="s">+ Retinoic Acid</text>
<text x="167.50" y="184.60" font-size="8.40" textLength="28.80" lengthAdjust="spacingAndGlyphs" class="s">+ LE540</text>
<text x="8.80" y="213.80" font-size="8.40" textLength="34.20" lengthAdjust="spacingAndGlyphs" class="s">Wild-type</text>
<text x="18.80" y="223.80" font-size="8.40" textLength="14.00" lengthAdjust="spacingAndGlyphs" class="s">DCs</text>
<text x="12.00" y="263.80" font-size="8.40" textLength="28.00" lengthAdjust="spacingAndGlyphs" class="s">APC<tspan dy="-3.19" font-size="4.70">min/+</tspan></text>
<text x="18.80" y="274.50" font-size="8.40" textLength="14.40" lengthAdjust="spacingAndGlyphs" class="s">DCs</text>
<text x="21.90" y="293.60" font-size="6.50" textLength="17.30" lengthAdjust="spacingAndGlyphs" class="m">Foxp3</text>
<text x="46.70" y="311.10" font-size="6.40" textLength="13.30" lengthAdjust="spacingAndGlyphs" class="m">CFSE</text>
<text x="93.80" y="306.30" font-size="8.40" textLength="70.00" lengthAdjust="spacingAndGlyphs" class="s">Thy1.2<tspan dy="-3.19" font-size="4.70">+</tspan><tspan dy="3.19"> CD4</tspan><tspan dy="-3.19" font-size="4.70">+</tspan><tspan dy="3.19">-gated</tspan></text>
<line x1="42.10" y1="303.30" x2="42.10" y2="280.00" stroke="#000" stroke-width="1.10"/>
<line x1="41.55" y1="303.30" x2="65.00" y2="303.30" stroke="#000" stroke-width="1.10"/>
<path d="M42.1 277.3l-2.3 3.9h4.6zM67.6 303.3l-3.9-2.3v4.6z" fill="#000"/>
<ellipse cx="66.2" cy="211.2" rx="7.3" ry="7.9" fill="url(#cg)" fill-opacity="0.53"/>
<ellipse cx="69.5" cy="212.0" rx="11.0" ry="8.8" fill="url(#cg)" fill-opacity="0.15"/>
<ellipse cx="69.0" cy="231.0" rx="7.3" ry="9.2" fill="url(#cg)" fill-opacity="0.31"/>
<path d="M65.4 212.5v1.1M65.5 209.6v1.1M63.1 209.9v1.1M69.9 212.2v1.1M69.6 211.6v1.1M67.5 211.4v1.1M60.7 213.8v1.1M67.9 212.5v1.1M60.6 204.4v1.1M63.3 209.0v1.1M67.2 210.5v1.1M67.9 208.4v1.1M67.2 212.1v1.1M64.0 216.9v1.1M68.0 215.0v1.1M64.2 208.0v1.1M65.1 210.3v1.1M68.3 211.6v1.1M64.7 207.3v1.1M64.5 215.1v1.1M63.5 211.6v1.1M67.6 205.3v1.1M66.4 215.4v1.1M59.6 209.5v1.1M65.8 207.8v1.1M67.8 210.5v1.1M61.4 213.7v1.1M68.4 214.1v1.1M71.0 212.0v1.1M66.6 206.0v1.1M68.2 208.5v1.1M64.7 206.1v1.1M63.0 208.8v1.1M70.5 203.4v1.1M61.4 211.6v1.1M71.0 212.8v1.1M59.9 201.6v1.1M67.4 208.0v1.1M62.5 214.2v1.1M69.8 211.3v1.1M67.0 212.3v1.1M71.5 212.9v1.1M67.9 212.7v1.1M61.0 215.3v1.1M69.4 212.6v1.1M59.7 208.4v1.1M69.0 204.2v1.1M65.6 214.4v1.1M61.9 216.5v1.1M68.0 210.2v1.1M67.3 213.0v1.1M66.6 214.8v1.1M64.0 209.2v1.1M69.6 210.8v1.1M63.3 214.1v1.1M71.0 209.1v1.1M61.6 210.2v1.1M65.7 209.6v1.1M70.8 207.0v1.1M70.4 206.1v1.1M63.6 213.0v1.1M69.9 213.8v1.1M67.3 211.2v1.1M66.7 212.8v1.1M65.6 211.7v1.1M68.1 210.7v1.1M68.7 212.7v1.1M72.8 211.9v1.1M64.8 209.4v1.1M66.2 214.0v1.1M65.1 212.1v1.1M72.3 201.5v1.1M62.5 211.6v1.1M67.5 211.6v1.1M64.8 213.1v1.1M67.1 208.8v1.1M74.2 212.0v1.1M64.4 210.3v1.1M65.5 210.5v1.1M57.2 208.9v1.1M69.5 206.5v1.1M66.0 214.1v1.1M69.0 216.1v1.1M60.6 209.4v1.1M65.1 212.9v1.1M69.8 201.0v1.1M69.8 205.5v1.1M68.5 205.3v1.1M66.8 215.0v1.1M65.7 211.4v1.1M68.8 211.2v1.1M65.9 216.2v1.1M69.7 209.6v1.1M75.3 206.6v1.1M69.2 209.7v1.1M66.6 213.2v1.1M66.9 213.0v1.1M61.2 205.3v1.1M68.2 207.2v1.1M62.8 205.4v1.1M70.4 213.4v1.1M71.1 207.3v1.1M66.2 206.6v1.1M68.7 216.4v1.1M63.3 216.3v1.1M69.5 210.1v1.1M59.7 215.8v1.1M65.9 208.5v1.1M67.5 212.2v1.1M71.1 207.0v1.1M69.9 216.1v1.1M71.0 210.0v1.1M63.7 214.4v1.1M66.6 211.1v1.1M70.9 209.8v1.1M58.6 209.3v1.1M60.1 213.6v1.1M67.2 208.5v1.1M66.2 213.7v1.1M66.5 215.5v1.1M66.0 214.4v1.1M71.1 216.5v1.1M64.0 213.9v1.1M60.0 206.8v1.1M59.7 214.5v1.1M62.1 210.7v1.1M65.6 210.6v1.1M64.2 211.5v1.1M72.1 210.9v1.1M68.0 214.3v1.1M65.5 206.2v1.1M64.4 214.6v1.1M60.8 208.5v1.1M69.5 213.6v1.1M66.2 213.6v1.1M66.7 206.5v1.1M61.0 208.4v1.1M69.2 208.7v1.1M63.2 207.9v1.1M61.1 210.3v1.1M62.3 212.0v1.1M58.4 211.9v1.1M64.1 203.7v1.1M68.6 209.7v1.1M58.8 207.5v1.1M67.2 209.0v1.1M68.8 213.4v1.1M68.4 211.9v1.1M70.6 213.1v1.1M67.7 203.2v1.1M69.2 215.4v1.1M65.2 209.0v1.1M72.6 204.4v1.1M67.7 219.4v1.1M63.1 213.2v1.1M72.4 210.3v1.1M68.1 213.9v1.1M63.2 210.4v1.1M67.2 213.7v1.1M66.1 210.0v1.1M62.8 209.4v1.1M69.1 211.1v1.1M63.4 207.7v1.1M75.0 214.8v1.1M68.3 201.4v1.1M68.3 212.4v1.1M71.8 212.2v1.1M66.0 212.6v1.1M59.8 214.4v1.1M67.3 208.2v1.1M70.6 217.2v1.1M61.6 208.3v1.1M67.2 211.4v1.1M64.9 207.2v1.1M73.2 214.4v1.1M62.3 205.9v1.1M71.8 214.3v1.1M72.2 213.6v1.1M63.3 211.6v1.1M59.1 208.0v1.1M66.0 212.6v1.1M63.8 210.3v1.1M67.7 212.1v1.1M68.3 211.5v1.1M65.1 213.5v1.1M66.4 207.7v1.1M64.1 210.7v1.1M65.8 211.3v1.1M66.2 211.3v1.1M65.8 206.2v1.1M67.6 214.5v1.1M67.6 210.0v1.1M67.7 207.2v1.1M59.9 210.9v1.1M63.1 213.4v1.1M62.6 201.2v1.1M62.8 216.4v1.1M64.9 205.8v1.1M63.7 212.6v1.1M67.8 211.3v1.1M71.1 213.2v1.1M66.1 212.8v1.1M71.7 214.2v1.1M69.6 206.8v1.1M65.7 213.3v1.1M65.2 214.5v1.1M68.2 214.0v1.1M65.5 219.9v1.1M70.3 209.9v1.1M66.5 220.0v1.1M65.1 213.8v1.1M69.4 210.7v1.1M62.3 211.4v1.1M67.4 214.8v1.1M68.8 210.8v1.1M69.0 212.6v1.1M66.9 210.9v1.1M65.4 213.2v1.1M62.7 208.4v1.1M66.2 205.4v1.1M64.8 203.5v1.1M63.9 212.7v1.1M68.1 210.5v1.1M65.4 205.6v1.1M72.2 212.6v1.1M69.8 207.5v1.1M65.6 204.1v1.1M68.8 214.1v1.1M59.9 210.5v1.1M68.3 204.4v1.1M60.2 206.9v1.1M64.1 205.6v1.1M66.3 211.6v1.1M68.3 213.2v1.1M71.2 214.9v1.1M61.9 208.9v1.1M62.7 206.8v1.1M65.9 210.7v1.1M67.8 205.0v1.1M62.1 210.6v1.1M65.5 209.6v1.1M66.0 208.0v1.1M68.5 212.0v1.1M65.9 208.3v1.1M65.6 200.9v1.1M63.0 210.8v1.1M61.2 211.4v1.1M66.7 205.7v1.1M65.4 209.6v1.1M67.7 212.9v1.1M66.1 207.6v1.1M65.7 210.5v1.1M68.6 211.8v1.1M63.8 205.8v1.1M65.0 208.0v1.1M62.5 210.3v1.1M64.6 211.1v1.1M67.9 209.2v1.1M73.9 209.5v1.1M69.8 211.1v1.1M69.9 202.1v1.1M63.7 211.6v1.1M68.2 219.1v1.1M67.3 215.3v1.1M68.7 214.1v1.1M67.9 210.1v1.1M67.9 206.8v1.1M70.1 207.0v1.1M67.0 218.3v1.1M65.5 210.8v1.1M70.0 210.8v1.1M63.5 211.6v1.1M68.1 213.3v1.1M63.7 217.0v1.1M71.7 210.8v1.1M67.1 209.2v1.1M70.9 208.2v1.1M68.4 209.0v1.1M63.9 213.3v1.1M70.6 210.7v1.1M64.0 213.6v1.1M66.0 211.8v1.1M71.2 214.8v1.1M64.5 218.9v1.1M66.2 213.5v1.1M64.1 210.5v1.1M60.4 217.1v1.1M70.7 206.3v1.1M61.2 204.9v1.1M70.1 209.0v1.1M66.0 209.6v1.1M65.8 206.8v1.1M66.3 205.5v1.1M66.0 211.8v1.1M67.7 209.9v1.1M63.2 211.3v1.1M64.6 216.3v1.1M68.7 210.3v1.1M64.6 208.2v1.1M63.1 209.4v1.1M67.2 212.6v1.1M68.1 218.3v1.1M63.9 210.7v1.1M75.4 204.0v1.1M64.5 211.3v1.1M66.7 212.2v1.1M65.4 212.0v1.1M66.4 213.5v1.1M60.0 207.5v1.1M66.2 207.0v1.1M62.8 213.0v1.1M64.1 213.0v1.1M68.7 211.8v1.1M67.9 210.3v1.1M61.5 210.6v1.1M67.7 208.8v1.1M65.9 213.4v1.1M63.3 213.0v1.1M72.3 208.7v1.1M66.7 210.2v1.1M71.3 211.8v1.1M69.2 208.2v1.1M66.1 210.7v1.1M60.3 215.9v1.1M69.2 204.4v1.1M68.7 210.2v1.1M67.7 212.0v1.1M61.3 209.9v1.1M71.1 208.6v1.1M62.8 205.8v1.1M62.2 211.9v1.1M71.8 212.2v1.1M67.0 218.7v1.1M64.5 208.3v1.1M67.9 212.7v1.1M62.9 206.5v1.1M67.2 211.6v1.1M61.9 210.0v1.1M64.4 212.4v1.1M65.8 210.4v1.1M65.0 214.5v1.1M70.8 209.4v1.1M69.0 208.0v1.1M66.4 213.4v1.1M71.2 209.3v1.1M66.0 211.4v1.1M61.3 210.8v1.1M64.0 212.0v1.1M62.5 203.6v1.1M66.3 211.6v1.1M64.4 213.9v1.1M65.3 208.5v1.1M67.8 205.1v1.1M64.0 210.6v1.1M69.0 210.1v1.1M67.2 208.3v1.1M67.2 216.7v1.1M63.9 219.2v1.1M64.1 210.8v1.1M66.8 214.4v1.1M62.1 203.1v1.1M68.2 213.6v1.1M68.3 220.2v1.1M66.9 211.6v1.1M69.3 212.0v1.1M71.7 206.2v1.1M65.0 198.3v1.1M68.9 209.4v1.1M69.2 218.5v1.1M66.2 209.8v1.1M64.6 207.7v1.1M64.1 213.0v1.1M66.3 210.9v1.1M65.6 214.0v1.1M67.8 210.2v1.1M68.4 210.2v1.1M62.4 215.9v1.1M67.7 207.3v1.1M69.8 211.9v1.1M61.0 216.5v1.1M67.3 213.9v1.1M66.9 210.2v1.1M61.1 214.2v1.1M66.3 209.7v1.1M67.4 211.0v1.1M68.4 209.4v1.1M66.1 203.0v1.1M64.8 213.1v1.1M70.6 209.4v1.1M65.8 216.4v1.1M65.1 213.3v1.1M71.7 210.8v1.1M70.2 208.1v1.1M66.9 210.4v1.1M66.6 214.8v1.1M74.1 208.3v1.1M64.3 212.5v1.1M62.7 212.5v1.1M68.1 209.7v1.1M68.0 205.1v1.1M68.7 205.1v1.1M63.9 208.7v1.1M64.9 213.8v1.1M66.5 209.3v1.1M68.0 216.4v1.1M66.2 212.0v1.1M70.3 211.7v1.1M62.0 219.7v1.1M73.5 203.6v1.1M66.1 212.2v1.1M69.4 213.1v1.1M65.3 206.9v1.1M66.5 214.4v1.1M62.6 207.0v1.1M66.1 203.7v1.1M65.3 209.1v1.1M67.7 208.2v1.1M63.3 209.3v1.1M66.0 208.3v1.1M66.2 213.4v1.1M70.1 216.8v1.1M63.6 209.2v1.1M58.0 217.5v1.1M63.8 210.6v1.1M67.9 205.8v1.1M67.7 210.6v1.1M60.2 211.8v1.1M70.1 204.0v1.1M68.9 211.5v1.1M67.8 212.3v1.1M70.5 209.9v1.1M69.1 209.2v1.1M68.6 207.8v1.1M65.8 216.9v1.1M67.7 210.1v1.1M62.4 207.9v1.1M66.8 214.1v1.1M67.6 212.6v1.1M66.1 215.6v1.1M64.9 208.7v1.1M69.1 210.9v1.1M65.3 208.6v1.1M65.4 212.9v1.1M67.4 206.3v1.1M67.6 211.3v1.1M62.9 213.5v1.1M65.3 209.5v1.1M68.8 215.5v1.1M63.9 212.3v1.1M63.3 219.0v1.1M64.6 215.0v1.1M64.1 213.6v1.1M73.5 201.6v1.1M64.8 212.5v1.1M65.9 208.3v1.1M73.3 211.0v1.1M60.8 213.8v1.1M60.5 214.8v1.1M64.3 211.2v1.1M70.4 211.1v1.1M62.5 204.7v1.1M75.4 214.5v1.1M65.4 214.9v1.1M72.0 214.1v1.1M58.2 210.3v1.1M74.0 214.4v1.1M73.9 201.7v1.1M70.3 213.5v1.1M82.3 207.7v1.1M67.9 211.6v1.1M73.9 209.7v1.1M75.2 208.3v1.1M70.8 209.4v1.1M70.3 208.7v1.1M61.5 215.9v1.1M71.0 209.3v1.1M70.5 215.5v1.1M64.6 211.1v1.1M72.2 213.6v1.1M67.8 203.1v1.1M75.7 212.8v1.1M69.6 210.4v1.1M70.8 209.8v1.1M64.4 208.5v1.1M66.5 209.1v1.1M63.7 214.0v1.1M63.0 214.1v1.1M64.4 212.9v1.1M76.4 212.3v1.1M65.8 211.7v1.1M70.2 204.6v1.1M66.5 212.2v1.1M67.2 211.8v1.1M73.2 214.6v1.1M74.0 213.9v1.1M68.1 211.4v1.1M68.1 210.2v1.1M68.6 204.6v1.1M67.8 211.4v1.1M64.6 211.4v1.1M72.1 210.8v1.1M79.9 201.1v1.1M68.5 204.2v1.1M74.4 222.1v1.1M57.0 212.0v1.1M72.1 210.3v1.1M72.3 202.5v1.1M73.8 213.0v1.1M69.6 209.1v1.1M72.7 209.6v1.1M70.6 209.5v1.1M58.3 211.4v1.1M70.5 214.5v1.1M65.1 211.4v1.1M72.6 212.1v1.1M75.7 219.5v1.1M65.0 203.8v1.1M73.8 217.6v1.1M74.1 214.8v1.1M66.4 208.6v1.1M73.9 207.9v1.1M60.4 207.5v1.1M82.0 219.2v1.1M66.1 208.6v1.1M70.7 208.5v1.1M76.1 211.2v1.1M64.1 216.7v1.1M66.6 212.4v1.1M69.4 210.2v1.1M71.1 208.7v1.1M60.3 202.7v1.1M63.2 208.5v1.1M69.4 211.7v1.1M72.3 212.0v1.1M65.5 208.7v1.1M58.9 210.8v1.1M71.9 213.6v1.1M68.9 210.8v1.1M74.2 211.6v1.1M73.2 213.8v1.1M70.6 216.7v1.1M66.6 210.1v1.1M65.5 208.3v1.1M77.3 218.5v1.1M69.6 213.8v1.1M75.4 214.7v1.1M75.5 206.4v1.1M66.3 213.3v1.1M76.7 211.9v1.1M65.2 210.1v1.1M66.2 208.1v1.1M77.0 209.0v1.1M69.6 220.1v1.1M75.4 212.8v1.1M66.4 213.1v1.1M77.6 214.0v1.1M75.8 211.9v1.1M72.1 210.7v1.1M71.6 216.7v1.1M62.3 211.2v1.1M70.7 209.2v1.1M68.0 214.6v1.1M79.5 214.0v1.1M71.1 205.3v1.1M79.1 211.8v1.1M69.3 207.0v1.1M69.2 207.1v1.1M69.9 213.4v1.1M69.7 212.6v1.1M65.2 217.2v1.1M66.2 204.2v1.1M68.6 208.4v1.1M64.5 210.1v1.1M71.0 206.8v1.1M68.8 217.2v1.1M72.9 210.9v1.1M70.1 211.0v1.1M69.3 214.4v1.1M69.0 201.9v1.1M69.4 207.9v1.1M72.8 209.1v1.1M70.2 220.2v1.1M64.3 207.0v1.1M62.4 201.9v1.1M60.1 213.0v1.1M66.3 204.0v1.1M62.1 214.0v1.1M65.6 210.0v1.1M71.2 216.9v1.1M79.2 215.6v1.1M69.5 231.3v1.1M74.9 236.5v1.1M68.0 232.4v1.1M69.9 230.7v1.1M67.3 224.9v1.1M67.2 224.0v1.1M73.0 232.8v1.1M65.0 236.4v1.1M71.9 222.5v1.1M75.1 233.9v1.1M75.8 225.3v1.1M70.8 232.3v1.1M69.7 231.2v1.1M72.5 224.2v1.1M64.9 224.6v1.1M67.2 228.0v1.1M70.2 231.6v1.1M69.1 227.7v1.1M67.5 234.5v1.1M71.5 230.9v1.1M67.9 237.0v1.1M67.0 233.2v1.1M72.8 229.4v1.1M71.7 225.8v1.1M72.3 231.3v1.1M63.8 233.3v1.1M66.1 235.9v1.1M66.8 229.8v1.1M69.9 229.1v1.1M69.9 228.2v1.1M71.2 230.5v1.1M69.7 218.9v1.1M72.8 230.6v1.1M63.1 230.9v1.1M70.5 235.0v1.1M65.4 237.0v1.1M68.5 240.6v1.1M68.5 233.4v1.1M67.8 225.8v1.1M72.6 234.3v1.1M74.1 234.1v1.1M67.1 223.5v1.1M66.9 227.7v1.1M66.3 232.9v1.1M70.1 229.4v1.1M69.6 229.9v1.1M69.7 233.7v1.1M72.2 227.6v1.1M64.0 236.5v1.1M69.4 235.1v1.1M63.6 229.1v1.1M69.1 224.4v1.1M67.3 233.5v1.1M72.6 237.2v1.1M66.2 224.6v1.1M70.7 234.4v1.1M69.6 225.0v1.1M71.6 233.8v1.1M70.8 228.5v1.1M70.0 233.8v1.1M67.2 222.8v1.1M70.1 232.5v1.1M69.0 234.2v1.1M67.1 230.2v1.1M68.0 232.9v1.1M74.3 229.4v1.1M75.8 236.9v1.1M71.6 233.0v1.1M74.8 229.7v1.1M68.6 226.0v1.1M70.6 236.1v1.1M70.8 232.3v1.1M68.3 231.2v1.1M64.3 234.9v1.1M67.6 225.9v1.1M66.5 227.0v1.1M71.8 234.9v1.1M64.5 234.4v1.1M71.9 228.1v1.1M64.1 227.4v1.1M66.9 231.9v1.1M67.8 222.0v1.1M69.8 224.1v1.1M72.0 225.4v1.1M66.7 226.9v1.1M67.2 236.0v1.1M71.8 233.0v1.1M70.1 224.0v1.1M67.3 228.2v1.1M65.8 232.6v1.1M66.6 227.5v1.1M65.6 221.9v1.1M71.0 236.1v1.1M69.6 226.4v1.1M60.1 231.2v1.1M73.0 231.7v1.1M72.1 236.7v1.1M72.7 228.6v1.1M72.5 233.8v1.1M63.9 228.8v1.1M64.3 230.0v1.1M70.9 226.0v1.1M62.2 236.0v1.1M70.2 236.7v1.1M64.6 235.0v1.1M75.8 238.9v1.1M68.3 231.6v1.1M68.5 234.7v1.1M72.4 230.9v1.1M64.5 233.6v1.1M67.4 233.1v1.1M69.9 237.3v1.1M72.8 228.6v1.1M70.2 237.9v1.1M67.2 232.3v1.1M72.9 235.8v1.1M70.7 225.0v1.1M64.8 231.5v1.1M70.3 241.2v1.1M66.2 235.3v1.1M71.5 223.5v1.1M66.3 231.2v1.1M67.4 229.9v1.1M70.6 227.1v1.1M70.5 227.8v1.1M67.2 232.8v1.1M67.1 231.7v1.1M74.3 230.6v1.1M68.5 233.6v1.1M67.8 235.0v1.1M64.8 233.1v1.1M67.3 227.1v1.1M74.8 226.9v1.1M74.8 233.3v1.1M73.8 226.4v1.1M73.0 236.6v1.1M68.6 230.0v1.1M77.1 231.2v1.1M67.6 227.9v1.1M70.5 231.9v1.1M69.6 237.7v1.1M67.9 232.5v1.1M73.8 226.3v1.1M72.4 238.2v1.1M64.5 225.9v1.1M65.6 222.7v1.1M70.5 222.7v1.1M70.6 236.6v1.1M63.7 229.2v1.1M62.7 233.8v1.1M66.6 229.4v1.1M69.2 232.8v1.1M67.9 230.6v1.1M67.2 231.0v1.1M65.1 230.8v1.1M62.6 228.4v1.1M75.3 230.8v1.1M64.8 231.6v1.1M65.8 223.6v1.1M66.6 233.6v1.1M70.3 230.1v1.1M65.9 226.0v1.1M73.5 231.5v1.1M65.9 221.6v1.1M64.5 240.9v1.1M65.2 230.2v1.1M69.7 229.8v1.1M68.1 224.7v1.1M65.5 237.6v1.1M66.5 234.1v1.1M63.4 229.3v1.1M69.9 234.9v1.1M65.3 233.0v1.1M70.3 227.4v1.1M70.6 226.7v1.1M66.4 230.4v1.1M60.0 230.0v1.1M65.7 224.4v1.1M67.6 233.7v1.1M67.7 235.8v1.1M65.2 225.0v1.1M74.1 232.2v1.1M72.1 227.0v1.1M71.7 231.6v1.1M71.1 230.6v1.1M73.0 227.8v1.1M65.8 224.3v1.1M72.8 227.4v1.1M65.6 226.6v1.1M67.5 225.2v1.1M68.0 227.9v1.1M67.2 226.5v1.1M69.1 228.6v1.1M69.4 231.5v1.1M70.1 221.3v1.1M67.2 227.2v1.1M71.6 223.9v1.1M66.6 229.3v1.1M67.9 234.7v1.1M67.5 234.6v1.1M64.2 222.9v1.1M73.0 232.3v1.1M70.6 231.0v1.1M70.6 225.4v1.1M72.1 228.3v1.1M72.3 230.9v1.1M62.5 225.1v1.1M72.7 229.9v1.1M67.7 231.5v1.1M67.6 228.2v1.1M69.3 231.1v1.1M74.0 230.7v1.1M75.2 238.1v1.1M74.7 235.0v1.1M69.4 231.1v1.1M68.5 227.4v1.1M68.8 227.8v1.1M74.4 232.7v1.1M67.5 222.5v1.1M68.8 228.8v1.1M65.4 225.7v1.1M61.6 232.9v1.1M68.8 241.3v1.1M68.9 229.9v1.1M73.8 231.1v1.1M69.6 228.9v1.1M67.0 236.8v1.1M72.3 237.7v1.1M67.8 230.6v1.1M66.1 234.6v1.1M64.4 232.9v1.1M72.6 236.4v1.1M65.9 235.1v1.1M66.6 227.3v1.1M64.6 235.4v1.1M74.4 228.0v1.1M66.5 229.1v1.1M77.3 234.7v1.1M67.2 223.0v1.1M66.8 235.5v1.1M75.2 229.4v1.1M66.7 228.4v1.1M62.8 234.3v1.1M65.4 235.0v1.1M63.4 225.2v1.1M70.0 227.3v1.1M71.6 230.5v1.1M65.1 233.1v1.1M71.8 222.5v1.1M75.0 232.6v1.1M71.5 222.7v1.1M66.6 229.0v1.1M72.6 224.4v1.1M66.1 222.0v1.1M68.2 232.0v1.1M63.4 228.0v1.1M70.7 237.2v1.1M71.2 229.2v1.1M65.1 226.6v1.1M66.8 231.1v1.1M68.8 237.5v1.1M69.9 226.0v1.1M74.1 234.5v1.1M69.3 227.5v1.1M62.8 226.2v1.1M72.0 227.1v1.1M64.6 231.3v1.1M69.8 233.0v1.1M71.2 236.4v1.1M66.2 234.6v1.1M65.7 233.4v1.1M69.6 231.5v1.1M72.2 230.4v1.1M72.7 234.2v1.1M69.4 228.1v1.1M66.5 228.3v1.1M68.3 230.4v1.1M78.8 233.2v1.1M71.5 226.9v1.1M66.7 229.2v1.1M68.6 213.2v1.1M72.8 216.6v1.1M71.2 204.1v1.1M68.0 222.4v1.1M68.6 224.7v1.1M68.8 221.6v1.1M62.3 215.5v1.1M61.0 224.9v1.1M68.9 219.1v1.1M65.5 216.4v1.1M73.5 232.6v1.1M67.8 229.5v1.1M63.2 207.0v1.1M66.6 214.4v1.1M66.3 221.8v1.1M77.1 215.9v1.1M68.1 222.4v1.1M67.9 227.0v1.1M73.3 211.8v1.1M68.5 218.6v1.1M69.1 209.8v1.1M62.7 204.3v1.1M69.6 221.8v1.1M68.2 203.9v1.1M66.9 215.2v1.1M63.8 214.1v1.1M70.1 224.3v1.1M67.9 224.1v1.1M66.2 221.0v1.1M68.1 224.4v1.1M67.8 219.5v1.1M67.6 216.0v1.1M74.7 224.1v1.1M69.3 236.5v1.1M72.2 209.6v1.1M70.1 226.4v1.1M73.7 229.7v1.1M70.3 212.3v1.1M65.4 222.4v1.1M69.5 213.3v1.1M66.8 217.7v1.1M68.2 222.9v1.1M67.1 211.8v1.1M71.7 231.7v1.1M67.7 227.7v1.1M69.3 225.1v1.1M69.4 215.2v1.1M69.7 227.6v1.1M65.3 234.3v1.1M74.3 233.3v1.1M74.0 225.7v1.1M67.0 216.3v1.1M65.6 221.3v1.1M67.9 225.2v1.1M61.9 236.7v1.1M74.8 220.3v1.1M70.0 223.8v1.1M68.8 219.0v1.1M67.6 214.7v1.1M68.5 220.3v1.1M69.0 214.5v1.1M68.1 220.8v1.1M69.8 213.1v1.1M69.3 227.4v1.1M69.8 217.9v1.1M66.5 218.8v1.1M70.2 231.4v1.1M67.5 216.0v1.1M69.1 221.9v1.1M65.3 215.3v1.1M67.7 225.2v1.1M64.4 213.4v1.1M69.5 211.9v1.1M68.3 223.0v1.1M67.7 213.4v1.1M67.8 218.2v1.1M69.0 214.6v1.1M71.3 208.8v1.1M67.5 220.6v1.1M70.9 216.2v1.1" stroke="#000" stroke-width="0.70" stroke-opacity="0.45" fill="none" filter="url(#bl)"/>
<rect x="54.60" y="200.60" width="36.60" height="21.40" fill="none" stroke="#000" stroke-width="0.95"/>
<text x="65.00" y="197.90" font-size="8.20" textLength="14.90" lengthAdjust="spacingAndGlyphs" class="n">68.2</text>
<ellipse cx="120.4" cy="209.8" rx="7.9" ry="6.6" fill="url(#cg)" fill-opacity="0.62"/>
<ellipse cx="124.5" cy="211.0" rx="12.1" ry="8.4" fill="url(#cg)" fill-opacity="0.19"/>
<ellipse cx="123.8" cy="231.0" rx="7.0" ry="10.1" fill="url(#cg)" fill-opacity="0.15"/>
<path d="M122.4 207.6v1.1M123.1 214.5v1.1M119.0 210.6v1.1M117.1 212.2v1.1M124.8 209.4v1.1M116.3 210.5v1.1M124.5 212.6v1.1M123.3 203.8v1.1M118.0 213.6v1.1M116.0 212.7v1.1M127.2 211.6v1.1M124.4 208.3v1.1M116.0 209.0v1.1M119.7 209.2v1.1M122.9 208.9v1.1M121.1 210.6v1.1M120.4 214.8v1.1M122.0 209.6v1.1M119.7 207.4v1.1M125.2 209.8v1.1M116.5 207.6v1.1M119.9 208.0v1.1M124.3 205.8v1.1M122.2 209.7v1.1M116.2 209.4v1.1M120.1 210.8v1.1M118.8 210.2v1.1M114.4 206.0v1.1M123.2 212.4v1.1M120.4 207.5v1.1M124.3 203.0v1.1M117.5 211.3v1.1M122.7 206.2v1.1M113.6 213.7v1.1M121.0 206.6v1.1M120.6 212.0v1.1M111.1 212.6v1.1M123.1 203.1v1.1M123.2 204.0v1.1M124.5 210.5v1.1M128.5 207.5v1.1M120.4 212.4v1.1M118.1 207.2v1.1M119.1 209.1v1.1M116.5 210.8v1.1M122.4 209.5v1.1M126.5 208.3v1.1M125.1 207.7v1.1M123.1 203.5v1.1M121.1 208.8v1.1M118.6 207.5v1.1M119.1 207.1v1.1M112.5 207.5v1.1M118.4 207.7v1.1M116.6 208.9v1.1M123.2 208.5v1.1M118.6 213.4v1.1M123.9 212.1v1.1M124.6 208.3v1.1M119.9 212.6v1.1M118.4 208.9v1.1M121.8 210.4v1.1M119.4 212.3v1.1M119.8 211.5v1.1M124.3 211.3v1.1M123.0 205.8v1.1M115.7 207.4v1.1M122.1 213.8v1.1M116.0 210.2v1.1M117.3 207.1v1.1M119.4 211.4v1.1M121.2 212.8v1.1M116.9 212.0v1.1M123.7 209.5v1.1M122.1 207.6v1.1M116.5 208.1v1.1M118.1 218.0v1.1M118.7 214.3v1.1M121.1 210.2v1.1M123.1 207.0v1.1M123.7 210.4v1.1M114.9 211.1v1.1M122.4 210.7v1.1M126.1 208.1v1.1M122.2 211.5v1.1M117.2 212.9v1.1M115.2 205.4v1.1M122.3 206.0v1.1M120.0 204.4v1.1M120.6 205.9v1.1M121.6 204.7v1.1M122.0 208.5v1.1M120.6 209.1v1.1M120.9 205.3v1.1M111.2 209.4v1.1M117.0 207.9v1.1M121.9 203.3v1.1M117.7 207.5v1.1M116.6 210.3v1.1M119.9 206.8v1.1M116.9 211.7v1.1M118.0 211.1v1.1M122.0 203.6v1.1M116.5 209.3v1.1M121.6 211.6v1.1M123.3 212.4v1.1M119.1 208.7v1.1M123.2 208.0v1.1M124.2 204.5v1.1M122.8 208.8v1.1M113.3 212.2v1.1M121.5 209.4v1.1M116.5 207.9v1.1M125.8 206.8v1.1M107.9 206.7v1.1M116.1 208.9v1.1M119.0 206.6v1.1M117.4 212.4v1.1M115.2 215.2v1.1M118.4 206.0v1.1M123.2 211.0v1.1M116.6 211.5v1.1M113.8 206.5v1.1M124.5 208.5v1.1M115.7 210.8v1.1M123.7 209.2v1.1M113.9 208.3v1.1M121.9 211.6v1.1M127.1 208.5v1.1M118.7 209.2v1.1M124.7 206.5v1.1M125.1 201.1v1.1M123.3 207.3v1.1M122.1 211.4v1.1M116.1 209.0v1.1M121.3 211.1v1.1M117.1 206.3v1.1M113.5 216.9v1.1M119.7 208.6v1.1M115.0 212.1v1.1M118.5 213.6v1.1M123.5 209.4v1.1M123.0 206.0v1.1M119.2 207.6v1.1M115.8 209.4v1.1M119.9 213.6v1.1M108.3 207.3v1.1M117.1 207.9v1.1M121.9 210.5v1.1M120.5 207.9v1.1M122.2 210.4v1.1M113.8 208.5v1.1M115.5 205.8v1.1M120.9 209.5v1.1M120.8 206.7v1.1M119.7 206.6v1.1M121.8 211.4v1.1M126.7 213.1v1.1M117.5 207.9v1.1M117.0 210.2v1.1M127.5 211.4v1.1M112.5 205.5v1.1M115.7 210.8v1.1M120.4 210.2v1.1M126.8 206.8v1.1M117.3 215.2v1.1M121.6 207.0v1.1M113.1 204.7v1.1M111.6 209.5v1.1M120.6 212.3v1.1M119.9 207.2v1.1M117.7 215.0v1.1M114.0 209.8v1.1M120.5 211.2v1.1M118.9 210.8v1.1M123.3 208.9v1.1M118.8 208.7v1.1M116.9 208.7v1.1M119.3 209.9v1.1M125.2 213.2v1.1M118.8 211.1v1.1M121.5 211.6v1.1M120.5 210.1v1.1M118.7 206.9v1.1M123.5 213.2v1.1M122.8 210.6v1.1M121.4 207.9v1.1M114.0 211.3v1.1M121.1 207.6v1.1M116.9 213.1v1.1M113.9 214.6v1.1M122.7 216.4v1.1M117.8 209.2v1.1M118.6 209.8v1.1M119.6 207.1v1.1M124.3 206.9v1.1M118.6 211.0v1.1M118.5 208.0v1.1M121.7 208.2v1.1M115.9 209.0v1.1M119.6 214.4v1.1M116.5 212.2v1.1M117.6 208.2v1.1M119.2 210.1v1.1M123.5 214.5v1.1M118.1 213.3v1.1M124.0 211.7v1.1M117.7 212.0v1.1M120.0 210.4v1.1M119.4 211.3v1.1M124.4 212.7v1.1M119.7 212.3v1.1M125.6 206.5v1.1M125.7 205.3v1.1M122.4 211.1v1.1M125.7 210.1v1.1M118.7 206.9v1.1M115.9 211.6v1.1M119.5 207.1v1.1M122.3 207.0v1.1M118.8 207.9v1.1M126.4 213.7v1.1M119.8 204.6v1.1M121.4 209.5v1.1M121.7 211.0v1.1M119.2 212.1v1.1M123.4 209.9v1.1M118.9 207.9v1.1M122.9 206.0v1.1M119.8 207.1v1.1M115.4 211.1v1.1M120.3 209.4v1.1M123.5 204.8v1.1M120.2 210.2v1.1M123.4 206.0v1.1M123.0 210.0v1.1M125.3 212.7v1.1M122.4 215.7v1.1M120.4 208.0v1.1M119.2 206.5v1.1M120.3 203.7v1.1M120.1 210.6v1.1M124.0 208.3v1.1M125.4 207.3v1.1M119.9 203.7v1.1M117.7 206.9v1.1M125.7 210.9v1.1M116.5 210.9v1.1M122.1 208.6v1.1M120.5 208.4v1.1M118.5 204.1v1.1M120.1 213.1v1.1M125.4 208.5v1.1M117.8 208.7v1.1M123.6 210.3v1.1M118.3 210.4v1.1M119.7 210.8v1.1M119.0 205.0v1.1M120.6 211.5v1.1M116.5 209.0v1.1M123.5 208.2v1.1M118.1 215.2v1.1M123.3 212.3v1.1M117.1 214.1v1.1M114.6 207.8v1.1M123.0 213.2v1.1M117.1 207.4v1.1M121.1 203.7v1.1M122.6 210.9v1.1M118.8 210.9v1.1M123.1 210.2v1.1M122.2 213.7v1.1M118.7 209.8v1.1M118.6 212.3v1.1M119.0 210.7v1.1M120.9 209.5v1.1M126.4 209.1v1.1M125.3 211.7v1.1M125.0 208.8v1.1M123.6 211.5v1.1M118.3 210.1v1.1M120.0 209.2v1.1M124.9 207.2v1.1M114.5 204.3v1.1M118.8 207.4v1.1M120.4 210.9v1.1M126.5 210.2v1.1M122.0 207.2v1.1M122.4 213.2v1.1M125.1 203.6v1.1M123.5 213.9v1.1M123.3 205.0v1.1M119.3 211.0v1.1M121.8 207.0v1.1M117.3 212.1v1.1M115.8 213.4v1.1M120.5 210.2v1.1M115.8 207.6v1.1M122.8 205.1v1.1M127.6 205.2v1.1M116.2 209.4v1.1M122.1 211.4v1.1M119.1 208.7v1.1M119.6 207.6v1.1M111.5 212.1v1.1M121.3 209.8v1.1M118.2 210.0v1.1M120.4 209.1v1.1M124.2 204.3v1.1M121.3 206.2v1.1M119.3 213.6v1.1M116.7 209.0v1.1M118.4 212.0v1.1M117.0 204.5v1.1M122.2 208.3v1.1M119.3 212.4v1.1M117.3 208.2v1.1M120.9 210.5v1.1M118.6 212.3v1.1M128.1 208.1v1.1M126.9 203.2v1.1M125.3 208.3v1.1M120.9 208.3v1.1M118.2 205.6v1.1M119.0 213.0v1.1M124.3 208.3v1.1M118.6 207.3v1.1M116.3 214.5v1.1M122.7 209.6v1.1M118.7 206.4v1.1M125.0 211.5v1.1M117.1 212.1v1.1M116.6 211.1v1.1M117.1 208.1v1.1M122.1 210.5v1.1M123.9 206.9v1.1M125.9 213.2v1.1M120.4 210.6v1.1M117.7 208.9v1.1M115.8 209.6v1.1M121.1 213.2v1.1M123.7 211.6v1.1M119.1 208.7v1.1M119.2 209.9v1.1M113.7 211.5v1.1M115.0 207.8v1.1M120.5 207.8v1.1M126.1 209.0v1.1M125.8 212.7v1.1M118.7 210.5v1.1M124.9 208.3v1.1M120.7 207.7v1.1M120.6 208.3v1.1M120.7 212.2v1.1M125.2 209.7v1.1M121.1 211.8v1.1M119.4 206.3v1.1M124.2 206.6v1.1M123.6 206.5v1.1M126.7 206.3v1.1M123.3 213.6v1.1M117.1 213.6v1.1M117.6 204.2v1.1M122.9 211.3v1.1M119.7 202.0v1.1M120.2 208.4v1.1M119.1 208.5v1.1M114.2 207.7v1.1M126.6 213.8v1.1M119.2 207.2v1.1M121.8 212.4v1.1M122.9 205.9v1.1M121.0 209.7v1.1M125.4 212.7v1.1M122.2 212.8v1.1M119.0 213.7v1.1M118.9 210.4v1.1M123.6 206.7v1.1M118.0 204.2v1.1M121.0 209.1v1.1M119.3 210.7v1.1M113.1 209.2v1.1M120.7 208.5v1.1M123.1 214.3v1.1M118.9 206.6v1.1M118.3 209.6v1.1M122.4 206.8v1.1M123.9 206.3v1.1M123.3 210.5v1.1M122.0 215.5v1.1M119.5 208.8v1.1M122.0 211.8v1.1M115.8 210.1v1.1M117.8 211.1v1.1M125.1 209.4v1.1M120.0 209.8v1.1M110.2 211.5v1.1M122.3 209.8v1.1M119.0 207.2v1.1M119.8 212.8v1.1M120.0 213.2v1.1M111.5 208.0v1.1M121.3 209.3v1.1M114.7 207.4v1.1M124.7 205.6v1.1M117.0 206.1v1.1M118.5 211.2v1.1M122.5 203.5v1.1M125.4 207.6v1.1M118.4 214.1v1.1M120.1 205.7v1.1M118.2 207.2v1.1M116.9 208.3v1.1M123.4 210.3v1.1M115.6 217.3v1.1M117.0 209.6v1.1M120.5 211.5v1.1M119.3 210.6v1.1M127.7 209.6v1.1M116.7 210.2v1.1M117.6 208.2v1.1M121.1 210.3v1.1M119.4 211.7v1.1M119.7 205.5v1.1M123.4 208.3v1.1M124.6 207.4v1.1M122.4 210.2v1.1M111.1 205.0v1.1M116.5 213.4v1.1M113.9 211.9v1.1M124.2 210.7v1.1M122.7 207.9v1.1M120.4 209.9v1.1M121.9 211.3v1.1M119.7 207.3v1.1M118.5 210.5v1.1M114.7 205.7v1.1M119.0 207.7v1.1M119.5 201.6v1.1M119.2 208.6v1.1M123.1 203.6v1.1M119.3 210.7v1.1M122.1 212.7v1.1M124.0 206.3v1.1M122.6 208.3v1.1M117.6 213.7v1.1M118.2 206.8v1.1M119.0 206.8v1.1M123.9 210.4v1.1M125.2 210.5v1.1M118.3 212.3v1.1M118.1 208.0v1.1M119.8 209.4v1.1M124.5 207.6v1.1M121.6 209.2v1.1M116.0 206.1v1.1M119.6 210.5v1.1M121.5 210.7v1.1M120.6 208.0v1.1M121.9 206.4v1.1M115.7 208.3v1.1M115.4 207.8v1.1M117.8 207.7v1.1M120.2 207.0v1.1M118.9 204.4v1.1M120.9 206.8v1.1M121.8 201.1v1.1M117.6 210.0v1.1M111.9 208.3v1.1M120.7 209.6v1.1M115.2 210.0v1.1M120.9 206.5v1.1M123.0 209.2v1.1M120.5 208.0v1.1M122.3 209.6v1.1M124.3 210.6v1.1M118.3 208.7v1.1M123.6 208.2v1.1M121.7 210.8v1.1M119.8 202.6v1.1M125.2 211.3v1.1M125.2 207.7v1.1M130.9 210.0v1.1M121.2 207.9v1.1M126.4 206.5v1.1M119.2 217.8v1.1M131.5 214.4v1.1M131.8 212.7v1.1M115.5 214.9v1.1M131.1 212.3v1.1M114.1 215.1v1.1M131.8 208.7v1.1M125.2 213.4v1.1M124.0 214.5v1.1M124.9 213.0v1.1M125.0 205.1v1.1M119.2 222.2v1.1M126.0 215.3v1.1M130.6 216.8v1.1M127.5 208.3v1.1M124.6 203.4v1.1M123.5 213.8v1.1M113.0 211.2v1.1M128.9 215.4v1.1M119.6 208.1v1.1M114.5 206.7v1.1M127.3 218.1v1.1M118.4 215.6v1.1M126.8 208.7v1.1M136.2 201.2v1.1M124.1 211.3v1.1M135.9 217.1v1.1M136.6 211.0v1.1M129.7 215.5v1.1M127.2 211.8v1.1M123.5 209.0v1.1M117.9 217.7v1.1M122.1 202.8v1.1M125.9 210.4v1.1M125.4 217.2v1.1M123.9 209.5v1.1M120.5 210.4v1.1M122.2 211.3v1.1M141.2 212.0v1.1M119.9 217.6v1.1M129.1 213.5v1.1M128.3 213.5v1.1M128.1 215.7v1.1M129.9 215.5v1.1M121.8 210.5v1.1M120.6 214.0v1.1M128.9 208.8v1.1M127.6 220.2v1.1M131.1 206.4v1.1M124.0 212.8v1.1M124.3 211.9v1.1M130.8 211.7v1.1M118.6 213.1v1.1M124.0 210.9v1.1M121.5 205.4v1.1M117.8 209.2v1.1M118.8 200.5v1.1M130.6 206.2v1.1M120.6 212.5v1.1M111.6 215.5v1.1M120.4 212.9v1.1M121.9 211.6v1.1M125.1 210.5v1.1M114.7 205.1v1.1M124.3 215.7v1.1M121.6 212.5v1.1M125.4 212.3v1.1M129.8 205.0v1.1M126.0 209.8v1.1M122.8 207.3v1.1M120.3 206.7v1.1M118.6 219.8v1.1M133.6 210.5v1.1M128.5 206.9v1.1M109.6 203.8v1.1M125.3 215.8v1.1M124.3 206.8v1.1M123.2 206.8v1.1M117.0 209.6v1.1M122.4 207.5v1.1M119.8 207.1v1.1M125.8 215.7v1.1M123.4 218.8v1.1M115.8 211.5v1.1M118.3 209.9v1.1M125.0 212.6v1.1M130.6 208.4v1.1M117.8 209.8v1.1M126.1 207.9v1.1M129.3 216.7v1.1M116.9 211.8v1.1M129.9 203.4v1.1M125.6 209.7v1.1M116.9 215.4v1.1M125.7 208.7v1.1M126.9 212.9v1.1M128.6 212.6v1.1M126.7 206.1v1.1M122.2 211.0v1.1M109.7 218.4v1.1M122.5 206.6v1.1M114.7 211.4v1.1M124.7 208.3v1.1M122.3 207.2v1.1M120.5 210.1v1.1M121.0 213.0v1.1M123.7 211.0v1.1M126.7 215.2v1.1M127.7 211.3v1.1M123.6 207.5v1.1M122.7 213.0v1.1M125.7 209.1v1.1M117.4 204.8v1.1M126.2 214.3v1.1M126.5 205.4v1.1M123.4 211.3v1.1M119.6 211.8v1.1M123.4 207.4v1.1M117.8 213.5v1.1M126.4 207.2v1.1M119.1 213.8v1.1M127.7 209.4v1.1M133.0 209.4v1.1M118.8 214.5v1.1M123.5 211.8v1.1M124.7 206.8v1.1M118.1 209.8v1.1M132.0 206.8v1.1M131.8 211.3v1.1M118.5 211.5v1.1M127.5 207.2v1.1M113.1 211.8v1.1M118.6 212.1v1.1M114.3 210.0v1.1M120.2 205.0v1.1M123.2 211.1v1.1M121.5 206.1v1.1M125.6 204.0v1.1M127.4 212.3v1.1M133.5 213.8v1.1M126.4 211.5v1.1M124.6 205.6v1.1M132.3 212.4v1.1M123.0 206.3v1.1M132.4 212.5v1.1M118.2 213.0v1.1M134.6 210.4v1.1M126.6 209.0v1.1M121.1 214.5v1.1M141.0 210.9v1.1M123.8 213.4v1.1M122.9 213.2v1.1M128.9 206.7v1.1M118.8 210.2v1.1M128.9 211.5v1.1M127.7 224.4v1.1M125.3 227.7v1.1M124.1 231.9v1.1M120.8 229.5v1.1M120.2 231.7v1.1M121.2 228.3v1.1M124.5 227.6v1.1M127.4 227.7v1.1M126.4 231.8v1.1M120.6 229.5v1.1M121.2 228.9v1.1M123.0 238.6v1.1M122.5 237.5v1.1M125.2 224.7v1.1M116.6 233.5v1.1M117.6 233.7v1.1M127.0 232.2v1.1M123.2 229.4v1.1M124.6 229.1v1.1M122.1 228.9v1.1M127.4 227.7v1.1M125.0 225.4v1.1M121.6 224.4v1.1M123.2 233.5v1.1M124.7 228.3v1.1M125.7 229.0v1.1M125.0 231.7v1.1M125.5 219.5v1.1M119.8 233.9v1.1M123.5 240.5v1.1M123.1 228.0v1.1M128.4 233.0v1.1M129.7 232.8v1.1M123.2 233.7v1.1M121.4 228.5v1.1M122.1 229.5v1.1M126.2 228.4v1.1M124.8 228.3v1.1M126.5 218.2v1.1M123.2 231.3v1.1M120.5 235.0v1.1M124.5 236.2v1.1M126.8 233.4v1.1M123.3 225.7v1.1M123.1 228.5v1.1M124.6 228.4v1.1M133.3 223.4v1.1M127.4 228.4v1.1M123.1 234.6v1.1M123.8 225.1v1.1M125.1 229.6v1.1M117.4 231.4v1.1M120.5 227.2v1.1M125.3 231.8v1.1M122.9 240.1v1.1M125.1 227.8v1.1M124.5 230.0v1.1M117.0 223.5v1.1M119.5 239.7v1.1M123.2 229.3v1.1M122.1 234.9v1.1M123.9 238.1v1.1M126.2 237.8v1.1M123.4 232.2v1.1M122.5 229.8v1.1M118.5 227.9v1.1M120.9 227.6v1.1M127.6 231.7v1.1M127.6 234.3v1.1M126.6 235.0v1.1M121.9 234.1v1.1M122.8 228.1v1.1M127.5 240.1v1.1M120.8 238.2v1.1M126.4 226.7v1.1M124.6 232.1v1.1M125.0 228.9v1.1M119.8 230.6v1.1M126.5 234.0v1.1M125.8 235.4v1.1M120.7 230.3v1.1M124.8 234.9v1.1M124.3 232.8v1.1M124.2 239.8v1.1M117.1 230.4v1.1M131.4 231.5v1.1M118.2 231.1v1.1M119.4 227.5v1.1M124.5 238.1v1.1M125.2 233.5v1.1M126.9 231.4v1.1M121.2 230.1v1.1M124.8 229.3v1.1M121.7 228.9v1.1M119.2 226.0v1.1M123.5 228.9v1.1M123.9 236.7v1.1M124.7 230.4v1.1M120.2 225.7v1.1M125.0 226.6v1.1M125.1 225.7v1.1M124.2 230.2v1.1M126.9 228.8v1.1M122.7 231.6v1.1M124.0 238.0v1.1M123.0 228.1v1.1M122.8 232.6v1.1M124.5 233.6v1.1M119.5 241.5v1.1M129.5 230.4v1.1M120.1 231.2v1.1M125.1 220.6v1.1M123.8 224.0v1.1M125.2 236.6v1.1M127.0 223.8v1.1M128.1 234.5v1.1M122.7 232.7v1.1M128.5 229.0v1.1M123.8 228.0v1.1M127.4 221.0v1.1M127.4 215.9v1.1M125.9 212.1v1.1M120.1 218.0v1.1M125.6 212.1v1.1M124.9 217.8v1.1M126.8 219.7v1.1M124.5 220.5v1.1M128.5 219.4v1.1M122.9 233.0v1.1M123.2 225.5v1.1M120.7 222.7v1.1M116.0 222.1v1.1M121.0 212.8v1.1M118.6 228.1v1.1M124.3 212.7v1.1M128.6 217.5v1.1M121.9 222.9v1.1M119.5 212.2v1.1M120.7 228.3v1.1M125.9 212.4v1.1M126.7 221.7v1.1M124.5 221.8v1.1M124.3 215.7v1.1M120.2 217.4v1.1M121.9 225.1v1.1M119.3 230.7v1.1M121.1 218.1v1.1M125.2 224.0v1.1M122.0 215.3v1.1M119.9 212.3v1.1M126.5 227.8v1.1M128.8 224.4v1.1M124.0 225.9v1.1M125.9 220.0v1.1M124.1 233.9v1.1M117.8 213.4v1.1M120.0 225.9v1.1M126.7 219.5v1.1M125.1 221.2v1.1M123.9 218.4v1.1M122.9 221.5v1.1M126.5 234.4v1.1M117.4 224.6v1.1M123.0 227.1v1.1M126.3 226.0v1.1M125.5 216.0v1.1M117.7 231.1v1.1M126.7 216.0v1.1M127.0 225.4v1.1M115.4 226.7v1.1M120.0 228.2v1.1M120.9 217.2v1.1M118.2 220.2v1.1M126.1 217.6v1.1M117.3 233.9v1.1M128.7 225.5v1.1M121.3 214.5v1.1M117.9 224.7v1.1M127.0 215.4v1.1M123.0 219.9v1.1" stroke="#000" stroke-width="0.70" stroke-opacity="0.45" fill="none" filter="url(#bl)"/>
<rect x="107.00" y="200.60" width="36.80" height="21.40" fill="none" stroke="#000" stroke-width="0.95"/>
<text x="118.00" y="197.90" font-size="8.20" textLength="14.40" lengthAdjust="spacingAndGlyphs" class="n">83.9</text>
<ellipse cx="174.6" cy="230.2" rx="8.6" ry="6.8" fill="url(#cg)" fill-opacity="0.62"/>
<ellipse cx="178.0" cy="230.5" rx="13.2" ry="7.9" fill="url(#cg)" fill-opacity="0.19"/>
<ellipse cx="175.8" cy="216.5" rx="8.4" ry="11.0" fill="url(#cg)" fill-opacity="0.09"/>
<path d="M173.6 231.2v1.1M182.5 227.8v1.1M177.8 233.0v1.1M173.5 229.3v1.1M169.6 232.9v1.1M172.6 227.7v1.1M174.9 227.1v1.1M170.7 228.8v1.1M180.2 229.1v1.1M176.6 225.3v1.1M167.3 235.1v1.1M173.1 225.1v1.1M174.2 231.5v1.1M168.1 227.1v1.1M175.6 226.9v1.1M177.6 232.6v1.1M176.3 228.4v1.1M174.4 227.8v1.1M174.1 230.7v1.1M173.5 232.6v1.1M184.4 228.1v1.1M175.9 232.2v1.1M177.0 229.0v1.1M172.8 232.7v1.1M177.0 231.2v1.1M171.6 231.6v1.1M177.6 229.1v1.1M177.0 236.2v1.1M167.5 231.5v1.1M170.2 225.6v1.1M173.7 231.3v1.1M174.8 226.2v1.1M169.2 228.0v1.1M174.7 227.2v1.1M168.9 235.0v1.1M171.4 229.2v1.1M172.5 227.9v1.1M174.8 228.8v1.1M176.9 226.1v1.1M169.0 235.5v1.1M174.3 232.0v1.1M179.1 231.4v1.1M174.7 225.0v1.1M168.6 232.6v1.1M177.2 231.4v1.1M168.3 223.3v1.1M170.6 226.2v1.1M175.2 226.6v1.1M180.6 227.8v1.1M172.5 232.3v1.1M175.8 227.0v1.1M177.7 235.5v1.1M170.0 229.0v1.1M170.5 223.9v1.1M177.0 231.8v1.1M178.3 231.0v1.1M167.0 229.6v1.1M172.1 226.2v1.1M170.4 232.0v1.1M173.5 235.6v1.1M176.4 224.0v1.1M178.0 233.5v1.1M174.7 226.0v1.1M181.3 225.7v1.1M174.3 224.0v1.1M169.8 224.6v1.1M178.7 233.3v1.1M173.1 225.6v1.1M174.4 230.8v1.1M168.8 226.2v1.1M174.2 231.8v1.1M174.9 231.1v1.1M169.9 222.2v1.1M175.8 226.9v1.1M174.1 228.6v1.1M176.4 227.4v1.1M180.1 229.8v1.1M176.6 231.6v1.1M178.5 230.9v1.1M167.9 227.8v1.1M181.7 231.1v1.1M176.7 231.1v1.1M172.2 227.6v1.1M172.1 233.2v1.1M176.0 235.1v1.1M176.5 235.4v1.1M176.3 226.1v1.1M181.2 230.7v1.1M179.1 230.4v1.1M173.4 230.2v1.1M170.3 226.1v1.1M171.2 228.1v1.1M169.4 229.4v1.1M175.8 235.9v1.1M181.6 229.5v1.1M178.0 229.0v1.1M176.1 229.6v1.1M172.5 229.9v1.1M168.9 231.0v1.1M173.5 226.4v1.1M173.2 231.4v1.1M172.0 231.1v1.1M176.8 234.5v1.1M170.4 229.4v1.1M176.6 234.3v1.1M175.6 232.0v1.1M169.0 227.9v1.1M181.0 228.8v1.1M182.9 227.5v1.1M173.5 224.8v1.1M177.0 230.5v1.1M182.4 230.2v1.1M173.6 225.4v1.1M174.3 232.6v1.1M177.4 233.5v1.1M177.9 229.6v1.1M176.9 230.2v1.1M169.5 234.9v1.1M176.0 226.5v1.1M176.1 230.6v1.1M178.4 234.1v1.1M162.9 231.4v1.1M180.5 226.8v1.1M167.4 230.6v1.1M175.9 230.8v1.1M170.3 228.3v1.1M175.4 232.0v1.1M183.1 230.6v1.1M172.3 222.5v1.1M178.7 229.3v1.1M174.2 226.7v1.1M177.4 224.2v1.1M175.0 230.1v1.1M175.8 233.7v1.1M174.2 230.0v1.1M177.9 224.9v1.1M173.5 229.9v1.1M178.3 227.2v1.1M177.7 230.9v1.1M168.8 225.2v1.1M169.1 230.1v1.1M175.4 231.9v1.1M177.8 228.0v1.1M178.7 232.2v1.1M176.4 231.2v1.1M169.6 230.8v1.1M170.6 226.0v1.1M173.2 230.1v1.1M174.4 228.7v1.1M170.7 230.3v1.1M171.7 225.4v1.1M175.0 234.2v1.1M173.0 226.4v1.1M180.0 235.0v1.1M173.5 229.0v1.1M175.4 238.8v1.1M175.1 232.8v1.1M176.3 224.1v1.1M170.3 225.9v1.1M176.3 230.0v1.1M181.5 228.9v1.1M175.8 229.9v1.1M175.1 236.8v1.1M175.7 234.2v1.1M179.6 227.8v1.1M177.3 228.5v1.1M175.0 230.2v1.1M174.7 228.3v1.1M180.6 228.9v1.1M177.3 234.9v1.1M177.0 232.9v1.1M180.0 233.1v1.1M181.3 225.3v1.1M182.2 229.8v1.1M167.8 227.7v1.1M169.2 229.6v1.1M168.8 226.6v1.1M175.8 230.2v1.1M171.5 229.0v1.1M174.2 229.9v1.1M174.6 229.0v1.1M178.0 224.7v1.1M172.7 230.1v1.1M173.0 228.0v1.1M172.9 230.3v1.1M179.4 229.1v1.1M173.6 230.8v1.1M173.7 223.7v1.1M175.6 228.5v1.1M172.4 231.6v1.1M174.8 228.0v1.1M166.1 224.4v1.1M174.7 229.3v1.1M176.3 230.4v1.1M172.7 225.8v1.1M170.3 229.3v1.1M170.1 232.0v1.1M169.4 224.1v1.1M173.8 224.2v1.1M180.9 226.6v1.1M174.4 228.9v1.1M171.4 224.2v1.1M167.3 232.4v1.1M178.6 236.4v1.1M168.9 231.4v1.1M174.5 232.3v1.1M172.6 231.9v1.1M178.1 231.6v1.1M180.2 229.2v1.1M180.6 227.5v1.1M181.1 221.2v1.1M174.7 227.2v1.1M174.6 232.9v1.1M177.4 230.0v1.1M181.2 225.1v1.1M171.4 234.4v1.1M175.9 223.3v1.1M175.9 226.0v1.1M180.4 233.2v1.1M172.5 233.7v1.1M171.3 232.6v1.1M176.9 229.3v1.1M169.1 228.8v1.1M165.7 228.0v1.1M167.4 233.5v1.1M170.8 222.2v1.1M176.9 230.8v1.1M172.6 236.3v1.1M177.6 229.9v1.1M172.1 220.5v1.1M176.5 232.7v1.1M172.3 225.3v1.1M174.4 224.5v1.1M174.6 232.1v1.1M180.5 230.5v1.1M175.4 232.0v1.1M180.1 228.7v1.1M169.8 227.2v1.1M169.7 226.9v1.1M174.1 230.8v1.1M175.2 229.9v1.1M173.2 231.0v1.1M178.1 232.1v1.1M180.4 228.8v1.1M173.6 235.0v1.1M175.4 231.0v1.1M173.3 232.7v1.1M173.0 226.6v1.1M174.4 228.3v1.1M177.9 228.5v1.1M175.1 229.0v1.1M175.9 227.7v1.1M178.9 225.3v1.1M173.1 227.5v1.1M177.1 229.8v1.1M176.5 228.7v1.1M171.8 226.2v1.1M173.3 228.0v1.1M175.7 230.8v1.1M178.4 229.4v1.1M171.7 226.4v1.1M174.8 230.8v1.1M182.2 230.3v1.1M181.5 235.5v1.1M170.5 233.5v1.1M179.0 233.9v1.1M174.6 232.7v1.1M172.7 229.5v1.1M174.7 235.2v1.1M173.8 232.7v1.1M174.9 227.5v1.1M175.5 231.7v1.1M171.8 231.7v1.1M171.8 227.0v1.1M175.5 229.0v1.1M170.8 224.6v1.1M174.7 230.5v1.1M172.8 230.3v1.1M168.6 230.9v1.1M176.2 230.6v1.1M172.2 229.9v1.1M175.1 233.0v1.1M175.7 230.5v1.1M171.8 232.4v1.1M179.2 228.2v1.1M177.1 230.7v1.1M174.4 225.7v1.1M181.5 223.9v1.1M175.8 228.5v1.1M179.1 228.4v1.1M174.8 231.6v1.1M176.4 228.1v1.1M177.3 230.9v1.1M178.5 228.1v1.1M174.4 228.5v1.1M171.3 230.5v1.1M176.2 234.1v1.1M173.3 230.9v1.1M179.0 229.3v1.1M174.8 230.1v1.1M171.9 226.6v1.1M178.9 230.2v1.1M174.3 225.9v1.1M175.1 233.3v1.1M170.1 226.9v1.1M178.9 234.1v1.1M180.6 228.0v1.1M176.9 227.4v1.1M176.6 228.6v1.1M175.4 233.8v1.1M175.9 229.0v1.1M174.8 230.5v1.1M172.6 230.3v1.1M176.9 234.5v1.1M166.6 226.0v1.1M169.8 232.4v1.1M184.1 230.3v1.1M175.1 233.2v1.1M165.1 229.1v1.1M162.5 230.2v1.1M172.6 228.2v1.1M175.9 227.9v1.1M178.9 229.7v1.1M176.1 237.5v1.1M172.9 232.6v1.1M171.4 233.5v1.1M178.3 230.1v1.1M178.4 234.7v1.1M179.9 229.7v1.1M174.4 233.1v1.1M168.9 227.8v1.1M176.5 231.5v1.1M181.8 235.1v1.1M175.9 231.1v1.1M169.5 229.1v1.1M175.6 229.0v1.1M174.8 231.6v1.1M170.9 228.0v1.1M167.7 233.2v1.1M170.5 224.5v1.1M177.6 229.0v1.1M178.3 228.6v1.1M182.8 231.9v1.1M175.2 230.1v1.1M173.8 232.2v1.1M182.3 228.4v1.1M170.4 231.5v1.1M178.7 225.1v1.1M171.9 226.6v1.1M176.8 231.2v1.1M171.8 226.2v1.1M177.2 223.4v1.1M177.1 229.2v1.1M182.0 232.7v1.1M172.4 228.9v1.1M173.5 227.5v1.1M174.9 232.7v1.1M168.8 229.0v1.1M180.3 232.0v1.1M171.5 227.2v1.1M171.3 224.8v1.1M179.0 229.9v1.1M171.9 225.3v1.1M173.1 228.1v1.1M181.2 228.3v1.1M175.0 233.0v1.1M177.2 229.1v1.1M166.2 234.0v1.1M176.9 228.4v1.1M174.3 226.8v1.1M171.2 225.2v1.1M176.5 231.3v1.1M175.3 232.1v1.1M176.7 230.1v1.1M171.2 231.5v1.1M179.2 231.6v1.1M179.4 228.3v1.1M170.8 233.5v1.1M172.4 230.4v1.1M173.9 229.8v1.1M173.6 228.1v1.1M167.8 235.5v1.1M175.4 223.8v1.1M171.1 226.3v1.1M171.8 221.9v1.1M176.8 234.7v1.1M173.7 232.0v1.1M176.9 225.9v1.1M179.3 224.6v1.1M172.4 228.6v1.1M179.4 230.1v1.1M174.1 227.3v1.1M174.9 229.8v1.1M177.4 233.9v1.1M177.4 229.8v1.1M174.0 234.6v1.1M175.4 229.7v1.1M181.5 234.5v1.1M176.8 229.4v1.1M172.2 232.9v1.1M172.9 232.6v1.1M171.6 230.0v1.1M176.1 230.1v1.1M175.5 230.9v1.1M170.3 226.3v1.1M174.0 235.2v1.1M174.1 226.9v1.1M172.1 229.8v1.1M179.1 228.0v1.1M176.7 230.3v1.1M173.2 226.8v1.1M174.0 227.5v1.1M176.6 224.4v1.1M178.9 232.0v1.1M176.8 234.2v1.1M176.9 224.5v1.1M174.8 231.1v1.1M172.0 226.3v1.1M176.2 231.2v1.1M173.0 229.0v1.1M172.7 228.0v1.1M174.4 232.9v1.1M168.5 228.7v1.1M180.7 230.7v1.1M175.2 232.2v1.1M170.8 226.0v1.1M168.3 225.3v1.1M175.5 232.3v1.1M173.0 227.6v1.1M176.1 231.6v1.1M175.6 223.9v1.1M172.5 222.0v1.1M175.5 227.1v1.1M172.1 234.2v1.1M179.6 231.2v1.1M175.6 230.2v1.1M172.4 229.5v1.1M181.9 227.1v1.1M172.1 230.2v1.1M178.0 232.2v1.1M170.9 229.3v1.1M173.6 226.0v1.1M174.9 228.2v1.1M178.1 231.0v1.1M171.6 229.9v1.1M173.2 227.8v1.1M172.8 232.9v1.1M173.0 224.5v1.1M171.7 232.1v1.1M182.8 226.5v1.1M173.3 228.7v1.1M169.3 230.9v1.1M174.4 230.5v1.1M183.1 228.9v1.1M177.6 232.2v1.1M172.2 227.9v1.1M180.5 231.9v1.1M175.1 226.4v1.1M178.0 231.3v1.1M182.9 234.1v1.1M177.6 230.5v1.1M174.8 228.0v1.1M175.8 230.4v1.1M177.1 233.0v1.1M175.8 228.1v1.1M177.7 234.4v1.1M171.4 231.0v1.1M176.7 231.3v1.1M176.5 229.4v1.1M174.2 234.8v1.1M181.2 225.5v1.1M165.0 231.0v1.1M172.0 228.1v1.1M168.6 230.8v1.1M174.4 228.1v1.1M178.0 237.0v1.1M180.2 233.2v1.1M173.0 231.7v1.1M174.5 233.2v1.1M176.8 229.6v1.1M176.7 227.5v1.1M177.6 234.2v1.1M173.2 231.4v1.1M168.3 232.5v1.1M177.9 226.6v1.1M181.2 230.0v1.1M168.0 225.6v1.1M177.9 228.9v1.1M178.8 225.0v1.1M174.2 232.6v1.1M172.0 231.7v1.1M173.2 230.7v1.1M175.8 236.4v1.1M169.9 232.0v1.1M179.6 226.3v1.1M174.9 236.7v1.1M178.6 220.8v1.1M173.7 224.6v1.1M175.7 227.5v1.1M172.5 227.2v1.1M175.7 228.3v1.1M171.2 229.0v1.1M176.1 227.1v1.1M178.8 224.7v1.1M176.1 228.5v1.1M180.6 227.8v1.1M172.1 225.7v1.1M182.1 231.6v1.1M170.5 228.7v1.1M171.0 234.3v1.1M176.2 223.6v1.1M175.4 232.5v1.1M174.6 231.1v1.1M174.2 230.3v1.1M175.4 227.6v1.1M175.9 230.2v1.1M174.5 227.6v1.1M170.8 230.4v1.1M177.7 222.4v1.1M172.6 233.8v1.1M183.3 227.5v1.1M185.9 226.5v1.1M173.4 236.8v1.1M175.5 229.2v1.1M168.4 226.5v1.1M171.1 229.5v1.1M167.3 233.7v1.1M175.9 227.9v1.1M174.3 232.6v1.1M186.9 228.6v1.1M187.4 235.6v1.1M185.8 231.0v1.1M169.3 232.4v1.1M175.6 230.7v1.1M167.0 229.0v1.1M179.4 226.7v1.1M179.7 235.9v1.1M179.3 227.6v1.1M191.9 222.5v1.1M172.6 231.4v1.1M174.5 222.0v1.1M179.5 232.9v1.1M173.4 235.1v1.1M180.9 234.2v1.1M169.1 230.0v1.1M187.3 237.1v1.1M185.7 230.0v1.1M179.1 227.8v1.1M184.4 227.6v1.1M178.7 222.8v1.1M169.2 236.2v1.1M178.3 230.8v1.1M165.2 229.9v1.1M190.1 224.8v1.1M164.1 229.4v1.1M174.9 229.3v1.1M170.6 225.2v1.1M170.8 232.3v1.1M177.7 232.9v1.1M171.7 232.1v1.1M175.4 230.3v1.1M183.5 230.1v1.1M175.9 224.1v1.1M178.4 232.8v1.1M174.3 229.8v1.1M167.6 225.3v1.1M180.4 234.6v1.1M176.2 224.1v1.1M175.8 224.5v1.1M176.4 236.8v1.1M179.8 229.5v1.1M184.1 228.7v1.1M180.0 230.7v1.1M180.6 224.8v1.1M182.2 233.1v1.1M164.6 220.4v1.1M172.7 235.3v1.1M178.1 232.4v1.1M181.3 233.1v1.1M174.2 227.9v1.1M180.2 232.2v1.1M181.4 231.2v1.1M175.1 233.9v1.1M180.8 233.8v1.1M163.0 233.6v1.1M163.6 230.7v1.1M174.1 230.4v1.1M175.2 228.9v1.1M179.1 231.2v1.1M173.3 221.0v1.1M173.4 231.9v1.1M173.0 231.5v1.1M175.8 226.7v1.1M184.9 235.9v1.1M177.4 229.8v1.1M183.7 225.3v1.1M172.8 234.0v1.1M183.3 228.2v1.1M173.4 231.2v1.1M169.7 228.2v1.1M176.6 221.2v1.1M181.5 232.7v1.1M184.3 224.9v1.1M170.4 227.1v1.1M170.3 237.3v1.1M172.2 228.9v1.1M179.2 231.6v1.1M186.6 226.1v1.1M183.2 230.5v1.1M171.0 230.5v1.1M169.7 235.8v1.1M173.7 233.6v1.1M185.7 227.8v1.1M172.7 230.5v1.1M171.8 233.2v1.1M179.0 227.3v1.1M173.9 232.6v1.1M169.4 236.0v1.1M173.3 229.3v1.1M172.5 235.8v1.1M182.9 234.7v1.1M181.9 230.3v1.1M188.1 232.4v1.1M180.6 232.1v1.1M182.4 231.0v1.1M177.0 224.3v1.1M190.3 225.3v1.1M165.1 227.4v1.1M189.6 234.4v1.1M174.4 230.9v1.1M177.9 222.9v1.1M176.0 231.0v1.1M185.0 225.7v1.1M164.5 224.3v1.1M180.0 230.3v1.1M178.9 230.5v1.1M175.8 225.1v1.1M180.7 231.4v1.1M181.5 234.5v1.1M170.6 221.6v1.1M167.3 237.7v1.1M172.5 231.4v1.1M177.9 232.6v1.1M197.2 228.1v1.1M177.0 227.9v1.1M179.5 231.9v1.1M172.2 234.7v1.1M184.9 231.6v1.1M177.3 229.1v1.1M168.1 232.4v1.1M172.2 228.2v1.1M184.0 226.7v1.1M174.9 233.1v1.1M189.1 227.5v1.1M184.6 227.6v1.1M180.3 231.7v1.1M171.2 233.7v1.1M188.8 230.2v1.1M179.6 225.8v1.1M188.7 230.2v1.1M170.3 232.8v1.1M169.2 227.5v1.1M165.2 235.0v1.1M191.3 227.7v1.1M174.1 227.9v1.1M174.6 232.0v1.1M186.8 226.4v1.1M180.6 223.5v1.1M187.1 229.7v1.1M173.8 235.5v1.1M175.4 222.8v1.1M179.9 224.3v1.1M172.8 216.3v1.1M177.2 215.0v1.1M181.6 212.4v1.1M179.6 222.8v1.1M168.4 211.2v1.1M172.4 213.3v1.1M177.3 215.1v1.1M176.1 213.7v1.1M175.5 218.4v1.1M178.6 212.1v1.1M175.4 212.2v1.1M175.1 208.8v1.1M179.4 219.4v1.1M175.3 212.6v1.1M174.1 212.7v1.1M169.9 224.2v1.1M188.3 209.9v1.1M171.4 218.9v1.1M178.1 208.1v1.1M168.5 218.7v1.1M168.2 223.1v1.1M173.9 216.4v1.1M175.8 213.2v1.1M175.3 214.5v1.1M180.5 215.5v1.1M175.7 213.4v1.1M173.4 212.3v1.1M175.8 225.2v1.1M180.0 217.2v1.1M182.1 221.1v1.1M176.6 215.2v1.1M171.6 217.2v1.1M174.6 208.1v1.1M170.9 225.7v1.1M176.6 218.5v1.1M176.6 213.7v1.1M177.6 221.4v1.1M174.6 218.6v1.1M179.7 213.6v1.1M176.4 212.3v1.1M178.1 214.2v1.1M180.2 212.2v1.1M182.2 214.4v1.1M172.6 211.5v1.1M178.3 211.7v1.1M182.7 222.4v1.1M177.8 208.9v1.1M175.7 212.4v1.1M168.9 218.1v1.1M184.2 213.3v1.1M178.9 222.4v1.1M172.1 214.3v1.1M176.8 218.4v1.1M171.4 217.1v1.1M175.4 220.8v1.1M169.7 213.2v1.1M173.9 214.4v1.1M178.5 212.9v1.1M186.2 212.5v1.1M179.0 221.1v1.1M179.5 215.0v1.1M172.6 214.7v1.1M178.3 216.6v1.1M178.0 218.9v1.1M172.4 211.3v1.1M181.3 213.6v1.1M169.8 225.3v1.1M172.6 211.3v1.1M179.5 210.3v1.1M172.5 221.2v1.1M172.7 228.5v1.1M176.2 229.4v1.1M176.3 216.3v1.1" stroke="#000" stroke-width="0.70" stroke-opacity="0.45" fill="none" filter="url(#bl)"/>
<rect x="160.00" y="200.60" width="37.00" height="21.40" fill="none" stroke="#000" stroke-width="0.95"/>
<text x="171.30" y="197.90" font-size="8.20" textLength="14.40" lengthAdjust="spacingAndGlyphs" class="n">12.8</text>
<ellipse cx="67.3" cy="266.5" rx="7.9" ry="9.2" fill="url(#cg)" fill-opacity="0.46"/>
<ellipse cx="71.0" cy="266.0" rx="11.0" ry="9.9" fill="url(#cg)" fill-opacity="0.09"/>
<ellipse cx="69.3" cy="284.0" rx="8.1" ry="8.8" fill="url(#cg)" fill-opacity="0.46"/>
<path d="M65.0 265.1v1.1M65.5 265.9v1.1M70.1 260.7v1.1M64.0 257.2v1.1M72.7 265.7v1.1M67.3 265.8v1.1M70.9 267.3v1.1M70.4 265.3v1.1M66.9 265.8v1.1M60.6 270.6v1.1M61.6 261.8v1.1M69.7 266.2v1.1M70.2 273.2v1.1M74.0 271.8v1.1M66.5 274.6v1.1M64.1 265.6v1.1M70.9 265.1v1.1M66.9 264.5v1.1M72.2 255.6v1.1M71.9 270.5v1.1M67.0 268.4v1.1M63.8 270.7v1.1M78.3 262.1v1.1M72.3 265.8v1.1M66.1 264.0v1.1M66.6 260.7v1.1M62.4 273.0v1.1M67.2 268.3v1.1M68.4 268.0v1.1M61.8 262.0v1.1M69.6 270.2v1.1M63.2 263.6v1.1M63.5 268.7v1.1M68.5 266.1v1.1M65.0 267.4v1.1M67.4 262.9v1.1M68.5 263.2v1.1M70.7 268.6v1.1M64.8 268.5v1.1M67.5 263.0v1.1M64.0 259.0v1.1M63.2 267.5v1.1M71.6 263.4v1.1M67.9 267.4v1.1M70.1 267.9v1.1M71.7 269.2v1.1M64.6 267.7v1.1M58.9 265.2v1.1M67.4 268.4v1.1M66.2 269.5v1.1M72.1 262.5v1.1M65.3 267.1v1.1M69.1 266.6v1.1M70.3 261.0v1.1M70.1 270.9v1.1M71.3 267.8v1.1M66.4 267.7v1.1M67.0 259.3v1.1M65.1 265.8v1.1M65.4 262.1v1.1M66.5 264.4v1.1M67.5 265.8v1.1M67.9 270.2v1.1M67.8 267.7v1.1M62.9 253.6v1.1M65.9 268.8v1.1M66.1 263.4v1.1M62.8 269.7v1.1M65.4 267.0v1.1M71.4 268.3v1.1M75.4 265.4v1.1M70.7 268.9v1.1M64.9 266.2v1.1M65.3 261.7v1.1M68.4 262.7v1.1M73.3 262.9v1.1M65.3 266.4v1.1M65.4 266.2v1.1M65.1 260.0v1.1M58.6 260.6v1.1M72.8 267.9v1.1M67.9 264.0v1.1M66.8 267.3v1.1M62.3 262.6v1.1M64.1 271.3v1.1M63.5 270.9v1.1M65.6 277.4v1.1M67.0 266.1v1.1M72.2 269.7v1.1M70.7 261.5v1.1M71.4 273.1v1.1M66.9 264.0v1.1M63.4 270.3v1.1M68.4 266.0v1.1M62.9 272.8v1.1M70.5 265.9v1.1M72.6 262.0v1.1M70.5 261.8v1.1M72.4 264.8v1.1M71.7 264.3v1.1M68.7 270.8v1.1M64.1 266.4v1.1M64.3 269.6v1.1M65.1 264.4v1.1M66.6 270.9v1.1M63.6 265.9v1.1M66.1 263.7v1.1M64.5 265.3v1.1M68.0 259.5v1.1M68.1 261.0v1.1M67.4 275.6v1.1M63.8 265.7v1.1M66.4 270.1v1.1M65.6 258.5v1.1M61.5 266.7v1.1M68.2 270.5v1.1M65.4 268.8v1.1M63.5 271.4v1.1M67.0 263.2v1.1M67.9 273.3v1.1M64.2 260.8v1.1M63.6 261.1v1.1M67.1 267.5v1.1M66.7 266.8v1.1M71.6 264.8v1.1M62.8 256.4v1.1M68.2 263.1v1.1M66.4 267.7v1.1M69.0 259.4v1.1M63.9 266.3v1.1M66.8 270.8v1.1M65.5 257.3v1.1M71.5 259.1v1.1M63.8 267.6v1.1M63.5 276.5v1.1M68.2 268.2v1.1M65.7 275.3v1.1M69.2 263.0v1.1M71.8 258.9v1.1M65.2 267.2v1.1M67.8 262.0v1.1M73.0 272.2v1.1M63.9 267.6v1.1M65.0 264.2v1.1M70.9 266.5v1.1M66.9 266.4v1.1M63.1 271.1v1.1M64.6 271.5v1.1M65.7 264.1v1.1M72.6 266.8v1.1M65.0 263.8v1.1M69.5 273.9v1.1M69.5 264.3v1.1M63.3 263.2v1.1M66.9 267.0v1.1M64.9 271.4v1.1M63.9 263.0v1.1M69.1 268.0v1.1M65.9 270.0v1.1M62.2 272.9v1.1M75.2 274.2v1.1M67.7 274.3v1.1M67.5 271.6v1.1M66.6 266.8v1.1M69.2 258.7v1.1M66.6 273.2v1.1M56.8 267.6v1.1M70.6 267.4v1.1M68.0 271.8v1.1M68.5 258.1v1.1M63.9 264.8v1.1M67.8 264.1v1.1M66.9 273.0v1.1M56.7 270.8v1.1M70.7 268.5v1.1M67.4 266.3v1.1M68.6 267.0v1.1M64.7 269.3v1.1M64.3 265.8v1.1M66.0 261.2v1.1M69.5 265.7v1.1M63.1 265.7v1.1M62.3 272.0v1.1M69.2 274.3v1.1M65.3 269.0v1.1M63.8 262.4v1.1M67.0 267.7v1.1M70.6 264.9v1.1M71.3 270.0v1.1M64.2 265.3v1.1M64.0 273.1v1.1M65.3 269.7v1.1M70.6 264.9v1.1M65.6 267.4v1.1M64.5 260.7v1.1M63.8 267.4v1.1M68.0 273.4v1.1M60.7 268.1v1.1M63.2 270.8v1.1M69.8 266.5v1.1M72.6 264.4v1.1M65.4 261.6v1.1M64.9 266.5v1.1M69.7 271.4v1.1M66.3 263.0v1.1M66.1 264.2v1.1M65.6 264.3v1.1M64.2 265.8v1.1M65.5 265.3v1.1M62.3 266.6v1.1M69.3 268.7v1.1M65.3 261.2v1.1M62.6 261.1v1.1M65.0 264.7v1.1M61.0 268.8v1.1M61.8 263.1v1.1M64.7 269.5v1.1M73.9 264.5v1.1M66.3 264.4v1.1M66.6 265.3v1.1M76.1 261.5v1.1M66.9 262.7v1.1M68.6 263.8v1.1M69.4 261.5v1.1M74.8 266.9v1.1M61.0 268.9v1.1M65.6 261.2v1.1M68.9 263.8v1.1M69.9 263.7v1.1M70.5 266.6v1.1M68.6 266.7v1.1M66.0 264.5v1.1M68.9 268.9v1.1M65.8 275.3v1.1M73.3 261.2v1.1M71.2 265.7v1.1M68.1 262.7v1.1M73.2 262.6v1.1M67.0 263.0v1.1M74.2 271.2v1.1M62.6 264.1v1.1M68.6 264.2v1.1M66.0 261.5v1.1M68.2 261.5v1.1M70.3 275.9v1.1M66.1 272.8v1.1M68.6 263.2v1.1M66.1 262.0v1.1M67.7 268.9v1.1M70.6 264.9v1.1M63.1 265.7v1.1M73.2 267.2v1.1M67.1 257.4v1.1M65.8 268.3v1.1M63.9 271.6v1.1M65.3 262.4v1.1M65.2 265.6v1.1M70.8 263.7v1.1M61.0 265.7v1.1M69.2 272.4v1.1M63.3 272.1v1.1M69.7 267.9v1.1M64.6 262.4v1.1M63.9 269.9v1.1M68.1 270.4v1.1M73.7 266.1v1.1M67.1 273.9v1.1M62.7 264.2v1.1M66.0 264.5v1.1M67.8 262.6v1.1M71.4 260.4v1.1M64.4 259.1v1.1M62.3 268.4v1.1M69.5 265.2v1.1M70.3 268.6v1.1M65.3 265.9v1.1M68.6 274.3v1.1M65.7 267.5v1.1M69.2 271.0v1.1M68.8 270.4v1.1M63.5 264.9v1.1M60.4 265.8v1.1M75.6 267.0v1.1M67.6 267.1v1.1M67.8 260.6v1.1M64.8 265.3v1.1M67.9 262.5v1.1M66.9 263.0v1.1M62.6 263.3v1.1M64.5 269.5v1.1M72.0 268.4v1.1M66.6 263.7v1.1M61.7 263.9v1.1M72.8 270.8v1.1M68.1 265.0v1.1M67.3 267.8v1.1M67.3 267.8v1.1M64.6 266.2v1.1M66.1 270.4v1.1M62.9 271.3v1.1M67.0 264.0v1.1M67.4 266.5v1.1M66.5 267.8v1.1M65.3 259.1v1.1M69.8 265.9v1.1M73.2 267.6v1.1M60.2 271.1v1.1M64.9 268.3v1.1M75.2 270.5v1.1M63.4 265.7v1.1M61.6 268.8v1.1M69.3 261.8v1.1M68.9 269.9v1.1M70.2 263.3v1.1M64.9 261.4v1.1M62.7 267.3v1.1M67.4 271.4v1.1M68.3 264.7v1.1M62.3 272.4v1.1M67.9 265.9v1.1M63.7 261.7v1.1M69.5 262.1v1.1M69.4 268.6v1.1M66.0 259.4v1.1M68.8 271.8v1.1M64.4 260.9v1.1M71.1 266.6v1.1M65.1 271.0v1.1M66.3 267.9v1.1M65.9 263.0v1.1M68.1 262.5v1.1M61.0 263.8v1.1M71.7 270.5v1.1M75.0 270.1v1.1M73.0 267.1v1.1M65.8 267.9v1.1M63.9 269.0v1.1M65.7 267.1v1.1M64.3 265.5v1.1M70.8 265.2v1.1M64.9 267.2v1.1M70.4 265.3v1.1M63.2 259.7v1.1M62.6 270.4v1.1M67.0 268.0v1.1M71.1 267.2v1.1M69.0 264.0v1.1M61.6 268.6v1.1M67.0 268.4v1.1M63.5 265.5v1.1M74.4 262.6v1.1M67.6 271.4v1.1M66.5 266.6v1.1M59.8 269.2v1.1M65.7 271.3v1.1M67.0 264.5v1.1M68.8 265.1v1.1M65.5 272.3v1.1M70.8 266.5v1.1M70.2 269.4v1.1M69.4 266.2v1.1M67.6 267.7v1.1M69.3 267.5v1.1M65.4 265.7v1.1M68.9 262.1v1.1M67.3 269.1v1.1M67.9 264.9v1.1M67.2 264.1v1.1M70.8 264.5v1.1M61.4 261.2v1.1M68.4 266.9v1.1M65.6 260.8v1.1M66.8 262.7v1.1M65.0 266.1v1.1M64.6 267.3v1.1M64.7 264.2v1.1M66.5 272.0v1.1M72.9 269.9v1.1M64.7 266.1v1.1M70.5 269.3v1.1M61.6 265.8v1.1M64.7 269.1v1.1M69.5 263.9v1.1M74.9 264.9v1.1M75.9 265.4v1.1M67.0 273.7v1.1M65.4 264.2v1.1M72.5 265.9v1.1M69.0 261.0v1.1M73.6 270.0v1.1M68.6 268.9v1.1M65.5 264.2v1.1M61.8 267.5v1.1M71.7 269.5v1.1M70.5 268.9v1.1M64.1 260.8v1.1M69.6 266.7v1.1M70.8 265.0v1.1M64.2 267.9v1.1M65.3 259.5v1.1M65.2 262.5v1.1M63.4 263.9v1.1M70.6 275.5v1.1M73.4 264.4v1.1M71.3 265.8v1.1M68.7 263.4v1.1M67.0 259.4v1.1M73.6 263.0v1.1M69.4 263.7v1.1M68.3 261.4v1.1M66.0 269.7v1.1M69.4 258.3v1.1M70.3 260.8v1.1M68.3 268.1v1.1M65.0 264.8v1.1M66.4 267.7v1.1M70.5 271.5v1.1M68.5 274.0v1.1M64.0 273.2v1.1M66.4 269.1v1.1M70.4 265.9v1.1M66.5 267.2v1.1M80.9 266.2v1.1M70.9 265.6v1.1M74.5 264.7v1.1M71.0 266.5v1.1M77.4 269.6v1.1M65.8 262.9v1.1M71.1 269.2v1.1M75.7 264.7v1.1M81.4 264.9v1.1M77.9 271.7v1.1M78.8 266.4v1.1M73.8 259.0v1.1M62.3 263.0v1.1M74.5 270.1v1.1M70.5 270.0v1.1M73.8 272.1v1.1M63.2 262.0v1.1M66.3 261.1v1.1M79.1 261.6v1.1M66.9 263.9v1.1M75.3 263.6v1.1M74.6 267.9v1.1M67.9 255.5v1.1M66.5 260.2v1.1M79.0 262.5v1.1M65.8 267.2v1.1M71.3 261.6v1.1M76.4 269.5v1.1M72.4 262.3v1.1M66.7 256.8v1.1M72.9 267.2v1.1M66.5 265.7v1.1M87.1 260.7v1.1M62.6 268.2v1.1M68.9 263.5v1.1M74.0 265.0v1.1M75.9 267.8v1.1M76.7 266.1v1.1M60.4 271.4v1.1M62.7 270.0v1.1M72.2 259.6v1.1M71.3 269.3v1.1M66.0 265.7v1.1M67.4 261.3v1.1M68.0 271.0v1.1M74.4 265.4v1.1M70.6 266.1v1.1M72.4 266.3v1.1M62.6 269.5v1.1M66.8 254.4v1.1M74.4 260.4v1.1M70.3 265.2v1.1M68.1 267.8v1.1M69.7 264.4v1.1M66.3 264.4v1.1M65.9 265.7v1.1M77.5 269.9v1.1M73.1 259.7v1.1M76.0 269.5v1.1M81.1 255.9v1.1M71.1 264.1v1.1M76.3 260.9v1.1M69.1 275.5v1.1M75.9 257.0v1.1M71.1 271.4v1.1M68.0 268.1v1.1M71.5 259.3v1.1M67.9 270.4v1.1M76.8 263.0v1.1M76.5 262.5v1.1M72.2 265.4v1.1M64.9 266.9v1.1M69.1 253.8v1.1M66.9 261.9v1.1M66.9 261.3v1.1M67.6 255.0v1.1M75.4 265.8v1.1M72.3 264.4v1.1M71.3 264.4v1.1M65.6 259.0v1.1M71.4 269.9v1.1M72.2 272.5v1.1M64.3 264.4v1.1M68.0 270.8v1.1M79.3 263.3v1.1M74.6 264.5v1.1M66.1 265.1v1.1M65.9 272.2v1.1M73.9 270.6v1.1M72.8 255.1v1.1M74.9 265.9v1.1M59.3 266.0v1.1M76.0 272.9v1.1M66.0 268.9v1.1M72.6 264.8v1.1M69.6 267.8v1.1M73.8 268.4v1.1M69.0 259.9v1.1M74.1 288.5v1.1M67.2 283.4v1.1M72.2 276.8v1.1M71.1 292.8v1.1M70.3 280.8v1.1M76.7 283.6v1.1M70.1 281.9v1.1M70.0 276.6v1.1M64.6 277.9v1.1M72.6 283.2v1.1M73.5 275.7v1.1M67.1 289.1v1.1M66.4 276.4v1.1M66.6 282.2v1.1M69.3 288.5v1.1M74.1 289.5v1.1M71.4 281.6v1.1M67.5 277.8v1.1M73.9 288.3v1.1M69.6 280.1v1.1M71.8 285.4v1.1M69.9 279.1v1.1M70.2 281.3v1.1M72.0 285.8v1.1M70.9 281.9v1.1M74.8 286.5v1.1M73.9 286.7v1.1M71.7 285.0v1.1M65.4 276.5v1.1M65.9 285.9v1.1M72.6 284.2v1.1M69.6 290.5v1.1M67.9 276.7v1.1M63.7 282.3v1.1M71.8 286.3v1.1M68.5 286.6v1.1M69.1 280.7v1.1M67.9 286.4v1.1M72.8 279.2v1.1M65.7 284.0v1.1M77.0 279.0v1.1M64.8 285.1v1.1M71.1 281.2v1.1M69.2 285.4v1.1M63.0 283.4v1.1M71.5 287.0v1.1M73.5 283.2v1.1M64.1 288.7v1.1M72.1 281.1v1.1M73.1 287.5v1.1M68.8 274.5v1.1M67.6 280.6v1.1M66.3 283.2v1.1M65.4 285.0v1.1M76.2 278.9v1.1M73.1 281.5v1.1M71.3 283.0v1.1M74.0 280.8v1.1M72.0 280.5v1.1M70.1 283.4v1.1M73.2 277.5v1.1M64.4 288.8v1.1M70.7 290.0v1.1M65.6 284.3v1.1M71.5 290.3v1.1M69.1 281.8v1.1M71.9 283.1v1.1M66.6 286.4v1.1M62.4 279.6v1.1M74.2 281.6v1.1M68.1 284.9v1.1M73.4 285.5v1.1M65.8 281.3v1.1M73.1 283.0v1.1M67.0 286.9v1.1M73.4 291.8v1.1M65.4 280.8v1.1M66.8 284.9v1.1M67.6 287.8v1.1M59.6 287.2v1.1M67.0 282.4v1.1M71.4 284.3v1.1M65.6 289.3v1.1M71.4 281.6v1.1M70.1 279.3v1.1M64.9 282.3v1.1M70.6 283.9v1.1M66.5 278.2v1.1M63.2 289.6v1.1M70.6 280.4v1.1M73.6 285.6v1.1M67.8 281.1v1.1M73.4 284.8v1.1M75.2 284.9v1.1M67.2 281.2v1.1M66.8 284.5v1.1M70.2 285.8v1.1M70.9 279.5v1.1M68.6 279.9v1.1M71.0 278.5v1.1M67.2 280.2v1.1M67.1 282.5v1.1M74.8 282.5v1.1M64.1 282.3v1.1M72.0 285.6v1.1M70.2 291.1v1.1M73.3 283.9v1.1M73.7 278.4v1.1M68.7 280.2v1.1M69.9 289.7v1.1M67.5 289.6v1.1M65.6 289.0v1.1M63.2 280.2v1.1M72.9 283.1v1.1M69.8 283.5v1.1M70.0 282.8v1.1M65.8 282.4v1.1M69.7 280.0v1.1M71.0 290.3v1.1M63.4 281.4v1.1M68.3 283.6v1.1M69.6 280.7v1.1M69.2 283.5v1.1M69.0 289.4v1.1M69.8 277.8v1.1M63.7 285.8v1.1M68.1 281.1v1.1M64.4 282.3v1.1M69.0 280.9v1.1M68.0 286.9v1.1M72.1 285.6v1.1M68.7 278.3v1.1M72.1 289.2v1.1M73.9 288.0v1.1M70.3 284.9v1.1M69.3 288.3v1.1M68.3 291.7v1.1M72.1 282.3v1.1M69.3 277.3v1.1M66.7 282.3v1.1M78.1 280.4v1.1M72.6 283.8v1.1M68.2 285.9v1.1M62.1 287.1v1.1M76.3 284.6v1.1M69.1 284.1v1.1M71.7 281.6v1.1M69.7 285.4v1.1M68.0 285.0v1.1M70.5 286.2v1.1M65.8 281.4v1.1M67.8 288.1v1.1M70.2 277.2v1.1M64.7 290.9v1.1M70.5 278.5v1.1M66.0 284.0v1.1M74.4 289.7v1.1M68.0 282.4v1.1M76.2 279.7v1.1M74.9 284.8v1.1M69.6 288.4v1.1M71.0 280.3v1.1M63.8 283.6v1.1M71.1 288.7v1.1M59.9 288.7v1.1M71.5 289.3v1.1M72.2 284.3v1.1M70.9 285.0v1.1M67.0 283.1v1.1M69.8 281.8v1.1M64.0 278.0v1.1M71.1 285.5v1.1M69.7 279.0v1.1M72.4 282.0v1.1M61.8 289.5v1.1M63.9 292.2v1.1M71.2 281.8v1.1M60.9 280.8v1.1M74.6 288.7v1.1M70.2 276.9v1.1M67.9 282.4v1.1M71.0 283.0v1.1M70.5 277.2v1.1M67.0 289.0v1.1M64.1 287.1v1.1M77.6 286.0v1.1M64.3 288.3v1.1M62.6 284.8v1.1M67.8 288.3v1.1M73.5 284.2v1.1M75.7 287.3v1.1M67.6 279.7v1.1M78.1 281.9v1.1M70.8 283.1v1.1M67.6 277.3v1.1M68.8 283.1v1.1M72.8 281.5v1.1M63.7 279.4v1.1M69.2 284.5v1.1M71.9 282.0v1.1M71.2 284.1v1.1M75.4 283.3v1.1M69.8 285.7v1.1M73.7 280.0v1.1M67.6 282.4v1.1M61.6 288.5v1.1M73.2 283.6v1.1M81.4 288.4v1.1M76.6 289.5v1.1M72.6 278.0v1.1M74.8 285.1v1.1M65.0 283.7v1.1M72.0 287.3v1.1M69.9 281.5v1.1M72.0 280.6v1.1M69.0 286.4v1.1M64.1 284.9v1.1M62.3 279.9v1.1M64.9 283.2v1.1M71.9 283.3v1.1M72.6 283.9v1.1M68.6 285.4v1.1M68.4 284.0v1.1M73.0 281.3v1.1M73.4 279.2v1.1M68.5 276.8v1.1M67.4 289.6v1.1M70.6 288.4v1.1M64.0 279.6v1.1M71.0 286.7v1.1M72.3 277.0v1.1M71.1 283.2v1.1M69.7 285.3v1.1M68.3 277.0v1.1M65.5 277.9v1.1M64.6 283.0v1.1M74.0 280.7v1.1M66.6 279.1v1.1M63.1 283.8v1.1M67.6 282.6v1.1M65.8 285.4v1.1M65.0 285.6v1.1M66.9 286.5v1.1M66.1 285.2v1.1M70.9 283.2v1.1M75.2 284.2v1.1M66.1 286.2v1.1M66.3 281.4v1.1M69.3 284.2v1.1M75.4 276.8v1.1M68.4 287.9v1.1M68.7 284.7v1.1M74.8 278.7v1.1M69.5 286.6v1.1M67.2 276.7v1.1M65.7 284.3v1.1M70.0 290.6v1.1M74.1 277.5v1.1M73.0 287.0v1.1M75.1 282.9v1.1M67.3 284.1v1.1M74.9 285.9v1.1M75.4 286.5v1.1M67.2 279.6v1.1M76.0 277.6v1.1M68.0 282.3v1.1M66.0 281.3v1.1M69.3 292.7v1.1M69.1 281.5v1.1M69.7 287.1v1.1M66.4 281.9v1.1M63.0 286.2v1.1M71.8 289.3v1.1M65.0 291.9v1.1M72.4 282.4v1.1M67.9 282.3v1.1M64.9 286.5v1.1M67.1 280.7v1.1M71.2 283.9v1.1M67.2 282.6v1.1M67.5 288.7v1.1M72.9 280.7v1.1M69.2 288.8v1.1M68.3 290.4v1.1M70.9 286.1v1.1M61.8 286.8v1.1M70.5 285.8v1.1M71.0 285.5v1.1M67.5 287.0v1.1M69.5 279.4v1.1M65.6 284.1v1.1M70.5 275.0v1.1M61.9 287.6v1.1M63.8 282.5v1.1M67.1 285.7v1.1M74.4 289.7v1.1M65.7 288.3v1.1M64.9 284.7v1.1M69.9 285.9v1.1M66.4 288.7v1.1M69.1 283.4v1.1M68.3 279.4v1.1M71.9 284.8v1.1M70.9 290.7v1.1M66.2 282.4v1.1M69.3 286.8v1.1M68.7 287.1v1.1M70.9 276.7v1.1M66.8 275.6v1.1M68.3 281.9v1.1M71.4 284.2v1.1M69.1 288.4v1.1M71.4 278.7v1.1M66.8 284.8v1.1M75.5 282.7v1.1M68.7 284.5v1.1M72.1 283.2v1.1M70.4 281.9v1.1M67.3 280.4v1.1M71.7 281.3v1.1M71.3 285.1v1.1M72.8 273.1v1.1M65.8 278.8v1.1M68.7 286.6v1.1M78.5 289.5v1.1M74.2 285.0v1.1M67.9 285.6v1.1M61.4 287.1v1.1M69.3 285.9v1.1M65.6 279.2v1.1M67.0 283.3v1.1M70.6 282.1v1.1M70.6 286.1v1.1M65.1 283.1v1.1M63.7 281.4v1.1M72.6 280.7v1.1M76.0 285.5v1.1M72.5 283.9v1.1M72.4 287.8v1.1M69.7 281.4v1.1M67.3 291.0v1.1M68.6 281.7v1.1M66.7 276.9v1.1M67.5 284.8v1.1M67.5 280.6v1.1M70.8 285.3v1.1M67.7 284.7v1.1M65.8 286.8v1.1M65.7 282.2v1.1M69.8 281.9v1.1M65.2 291.7v1.1M74.8 276.7v1.1M69.7 278.6v1.1M70.4 278.4v1.1M71.4 285.6v1.1M75.5 288.2v1.1M67.6 287.2v1.1M67.6 283.1v1.1M67.5 276.6v1.1M71.5 275.6v1.1M68.4 285.5v1.1M69.7 277.4v1.1M67.0 286.1v1.1M73.3 289.7v1.1M62.7 285.3v1.1M67.6 286.5v1.1M63.2 282.9v1.1M71.9 281.0v1.1M68.0 279.7v1.1M73.3 278.3v1.1M66.0 282.2v1.1M68.2 291.7v1.1M70.3 280.3v1.1M71.4 284.8v1.1M70.3 283.2v1.1M71.0 278.9v1.1M65.0 281.8v1.1M65.3 286.2v1.1M76.3 288.3v1.1M70.9 284.8v1.1M66.8 278.4v1.1M71.3 277.7v1.1M70.4 283.0v1.1M72.0 283.7v1.1M69.7 281.2v1.1M63.1 282.2v1.1M71.8 287.6v1.1M74.3 279.6v1.1M65.9 286.2v1.1M67.7 293.5v1.1M70.4 277.6v1.1M67.3 289.6v1.1M62.7 284.1v1.1M64.3 289.7v1.1M67.7 279.5v1.1M63.1 280.7v1.1M60.1 281.7v1.1M77.2 283.9v1.1M68.3 279.0v1.1M70.5 281.7v1.1M66.2 288.9v1.1M70.9 280.0v1.1M74.6 283.3v1.1M71.1 284.1v1.1M73.6 285.9v1.1M68.0 286.3v1.1M67.9 284.0v1.1M75.2 279.4v1.1M65.6 281.9v1.1M67.5 288.6v1.1M63.5 292.4v1.1M75.0 281.7v1.1M70.0 282.1v1.1M71.7 286.1v1.1M72.0 286.5v1.1M76.3 282.8v1.1M71.8 282.8v1.1M69.4 284.4v1.1M69.1 284.8v1.1M66.2 282.9v1.1M67.1 278.9v1.1M66.7 281.6v1.1M68.8 277.4v1.1M68.4 279.1v1.1M66.3 284.2v1.1M73.3 284.6v1.1M67.5 281.8v1.1M74.1 277.2v1.1M73.4 277.6v1.1M66.4 274.8v1.1M67.7 285.9v1.1M69.9 274.2v1.1M71.4 274.8v1.1M65.9 282.2v1.1M73.1 283.2v1.1M64.7 287.5v1.1M67.1 279.7v1.1M72.1 290.7v1.1M63.3 267.5v1.1M72.1 277.9v1.1M67.4 254.5v1.1M69.8 273.2v1.1M60.2 292.8v1.1M60.6 270.7v1.1M68.4 276.1v1.1M70.8 272.7v1.1M65.6 272.0v1.1M61.8 266.9v1.1M74.6 269.8v1.1M68.1 287.5v1.1M71.7 275.3v1.1M70.7 272.7v1.1M65.6 281.3v1.1M68.8 285.5v1.1M67.6 271.9v1.1M69.5 273.2v1.1M67.4 268.4v1.1M69.2 276.7v1.1M74.1 274.3v1.1M62.9 277.7v1.1M75.6 271.5v1.1M65.9 273.4v1.1M59.4 272.2v1.1M67.8 264.2v1.1M70.2 268.5v1.1M62.6 269.6v1.1M70.4 287.7v1.1M72.3 275.8v1.1M66.8 272.7v1.1M71.4 271.0v1.1M69.7 281.1v1.1M65.6 270.5v1.1M69.8 274.6v1.1M68.0 270.9v1.1M68.2 287.2v1.1M72.7 263.5v1.1M68.5 275.1v1.1M68.5 265.0v1.1M68.0 275.5v1.1M66.3 276.6v1.1M60.7 264.2v1.1M68.7 277.2v1.1M67.9 271.4v1.1M69.0 281.9v1.1M71.2 274.0v1.1M66.9 281.8v1.1M70.1 280.6v1.1M67.5 268.6v1.1M69.0 270.2v1.1M72.0 280.4v1.1M61.6 279.1v1.1M72.6 281.6v1.1M66.9 268.6v1.1M71.4 281.4v1.1M68.6 266.6v1.1M63.6 276.3v1.1M65.8 269.8v1.1M69.8 281.7v1.1M61.9 269.9v1.1M72.5 274.2v1.1M67.3 278.9v1.1M64.8 266.1v1.1M68.5 285.2v1.1M71.6 274.5v1.1M71.6 271.7v1.1M64.7 263.0v1.1M69.3 280.7v1.1M69.6 274.2v1.1M67.1 282.0v1.1M68.3 264.6v1.1M72.7 270.1v1.1M69.6 274.5v1.1M71.7 276.2v1.1M72.3 275.9v1.1M67.0 271.0v1.1M70.4 268.8v1.1M71.3 272.9v1.1M65.5 268.5v1.1M67.9 286.6v1.1M70.8 274.6v1.1M65.6 287.6v1.1M67.5 274.5v1.1M67.1 283.6v1.1M69.0 271.4v1.1M69.0 267.7v1.1M65.1 273.4v1.1M59.4 282.6v1.1M74.6 266.9v1.1M68.0 263.7v1.1M68.9 276.0v1.1M70.7 265.4v1.1M66.5 270.1v1.1M67.6 290.2v1.1M67.8 274.2v1.1M66.8 280.0v1.1M76.5 282.5v1.1M73.2 267.1v1.1M71.7 274.7v1.1M72.3 281.8v1.1" stroke="#000" stroke-width="0.70" stroke-opacity="0.45" fill="none" filter="url(#bl)"/>
<rect x="54.60" y="253.80" width="36.60" height="21.20" fill="none" stroke="#000" stroke-width="0.95"/>
<text x="65.50" y="251.20" font-size="8.20" textLength="13.40" lengthAdjust="spacingAndGlyphs" class="n">50.1</text>
<ellipse cx="120.5" cy="264.0" rx="7.9" ry="7.9" fill="url(#cg)" fill-opacity="0.59"/>
<ellipse cx="124.0" cy="265.0" rx="11.0" ry="9.2" fill="url(#cg)" fill-opacity="0.12"/>
<ellipse cx="121.8" cy="284.0" rx="7.0" ry="10.1" fill="url(#cg)" fill-opacity="0.25"/>
<path d="M122.8 257.6v1.1M121.0 261.7v1.1M122.1 263.6v1.1M124.2 257.8v1.1M117.9 263.2v1.1M121.6 262.1v1.1M120.4 263.7v1.1M124.2 263.1v1.1M121.4 257.1v1.1M111.2 258.3v1.1M121.8 255.4v1.1M122.0 263.2v1.1M120.5 260.9v1.1M119.0 266.4v1.1M121.8 263.4v1.1M118.8 264.2v1.1M124.7 263.4v1.1M119.2 259.3v1.1M120.9 260.3v1.1M115.4 266.6v1.1M118.3 256.3v1.1M118.0 270.0v1.1M120.1 258.8v1.1M116.6 266.0v1.1M121.9 264.3v1.1M119.8 265.2v1.1M126.0 265.2v1.1M119.9 258.6v1.1M122.1 269.0v1.1M122.8 259.1v1.1M121.2 268.1v1.1M118.3 265.3v1.1M124.8 269.3v1.1M114.9 257.3v1.1M121.8 266.0v1.1M119.2 263.4v1.1M119.1 267.7v1.1M112.7 264.4v1.1M116.0 261.1v1.1M115.1 260.3v1.1M120.4 263.6v1.1M126.8 262.7v1.1M121.7 264.8v1.1M121.4 268.7v1.1M121.0 264.0v1.1M120.1 263.5v1.1M120.3 267.0v1.1M120.6 263.7v1.1M120.3 266.2v1.1M118.8 266.8v1.1M118.5 266.0v1.1M127.3 264.3v1.1M120.2 259.3v1.1M123.1 263.5v1.1M123.7 261.2v1.1M122.3 269.9v1.1M121.9 262.3v1.1M115.9 263.5v1.1M122.8 265.6v1.1M116.5 259.9v1.1M117.0 259.9v1.1M119.5 264.4v1.1M127.3 264.2v1.1M125.7 257.6v1.1M126.0 266.3v1.1M122.1 266.4v1.1M122.7 270.3v1.1M123.4 257.3v1.1M114.3 269.2v1.1M120.2 268.2v1.1M119.3 261.2v1.1M119.3 264.6v1.1M121.2 261.3v1.1M122.4 265.7v1.1M117.2 259.5v1.1M113.5 262.4v1.1M120.5 261.0v1.1M118.4 263.0v1.1M120.6 265.5v1.1M123.5 265.1v1.1M124.5 260.1v1.1M122.7 264.8v1.1M116.8 261.1v1.1M122.1 263.8v1.1M116.0 261.5v1.1M125.9 266.5v1.1M120.8 268.3v1.1M117.3 262.9v1.1M123.9 262.3v1.1M116.5 265.6v1.1M126.2 254.5v1.1M121.0 259.1v1.1M119.4 258.5v1.1M129.8 261.1v1.1M120.7 261.0v1.1M117.0 261.9v1.1M121.2 269.7v1.1M121.5 269.1v1.1M116.7 263.8v1.1M118.9 257.9v1.1M133.8 262.6v1.1M121.4 260.8v1.1M118.5 259.8v1.1M124.1 262.1v1.1M120.0 264.1v1.1M116.1 264.3v1.1M119.9 265.1v1.1M119.1 263.6v1.1M122.3 266.9v1.1M118.0 267.0v1.1M117.0 262.8v1.1M121.0 264.0v1.1M111.6 260.0v1.1M119.8 266.8v1.1M118.0 268.9v1.1M114.1 263.8v1.1M122.4 263.6v1.1M121.4 266.8v1.1M117.6 265.6v1.1M124.3 262.7v1.1M112.3 259.3v1.1M117.5 259.7v1.1M122.0 260.6v1.1M129.3 265.5v1.1M115.9 262.5v1.1M125.9 265.9v1.1M116.9 267.2v1.1M118.8 271.4v1.1M118.5 265.6v1.1M122.5 261.9v1.1M120.0 267.6v1.1M122.3 263.3v1.1M122.1 269.7v1.1M123.8 265.2v1.1M121.7 257.9v1.1M121.0 261.8v1.1M123.1 261.3v1.1M122.1 259.8v1.1M123.7 260.9v1.1M120.4 265.6v1.1M119.3 263.5v1.1M124.3 269.8v1.1M114.1 260.3v1.1M122.9 266.8v1.1M118.8 263.8v1.1M119.8 271.6v1.1M119.8 259.3v1.1M115.0 259.0v1.1M125.1 262.1v1.1M127.4 265.8v1.1M121.9 265.8v1.1M123.3 266.8v1.1M117.0 261.5v1.1M118.6 263.9v1.1M119.6 259.1v1.1M118.0 269.9v1.1M128.0 260.5v1.1M121.9 263.4v1.1M117.5 266.0v1.1M120.3 269.4v1.1M122.1 262.4v1.1M111.1 263.1v1.1M123.5 261.0v1.1M123.6 265.9v1.1M114.2 262.8v1.1M121.6 266.2v1.1M121.1 263.4v1.1M119.3 262.5v1.1M120.5 259.7v1.1M122.8 262.3v1.1M122.4 261.7v1.1M122.0 264.0v1.1M123.7 265.1v1.1M123.8 262.9v1.1M120.3 262.6v1.1M116.0 263.1v1.1M124.4 266.2v1.1M117.5 264.6v1.1M123.2 258.7v1.1M121.7 264.7v1.1M123.2 264.4v1.1M114.3 256.3v1.1M127.6 262.1v1.1M125.0 268.0v1.1M120.8 259.4v1.1M125.4 263.4v1.1M122.3 265.2v1.1M123.9 267.1v1.1M115.4 258.5v1.1M121.0 263.5v1.1M123.3 263.0v1.1M119.9 270.7v1.1M125.4 267.6v1.1M124.2 260.7v1.1M120.2 263.3v1.1M116.6 260.4v1.1M121.1 259.2v1.1M122.4 265.2v1.1M119.7 262.3v1.1M122.6 265.2v1.1M121.8 259.2v1.1M114.7 270.8v1.1M118.2 262.2v1.1M114.0 260.7v1.1M117.9 266.3v1.1M111.1 258.5v1.1M119.0 261.8v1.1M117.7 261.9v1.1M114.9 264.4v1.1M124.8 264.0v1.1M118.6 268.0v1.1M122.2 259.9v1.1M118.5 261.3v1.1M120.3 267.8v1.1M118.0 263.0v1.1M120.9 259.3v1.1M118.8 265.7v1.1M124.5 256.9v1.1M123.0 262.5v1.1M125.1 265.7v1.1M127.5 264.6v1.1M119.1 260.6v1.1M115.4 265.5v1.1M122.3 266.4v1.1M121.7 258.2v1.1M119.1 262.6v1.1M121.1 266.2v1.1M125.5 264.5v1.1M113.2 259.9v1.1M112.9 260.8v1.1M116.2 264.3v1.1M119.7 267.4v1.1M124.3 261.9v1.1M123.9 263.5v1.1M122.1 268.3v1.1M116.4 263.3v1.1M126.0 260.8v1.1M121.3 264.0v1.1M119.0 258.9v1.1M118.1 260.0v1.1M124.3 264.4v1.1M123.0 259.3v1.1M122.3 264.0v1.1M124.2 261.0v1.1M123.4 268.3v1.1M126.9 260.2v1.1M116.5 258.3v1.1M123.9 265.6v1.1M121.7 260.4v1.1M125.0 269.2v1.1M120.4 263.1v1.1M124.7 265.3v1.1M125.3 262.1v1.1M121.7 262.3v1.1M118.5 262.5v1.1M119.5 265.3v1.1M119.4 263.7v1.1M117.6 259.2v1.1M125.6 260.0v1.1M127.0 266.8v1.1M112.4 261.2v1.1M119.0 263.6v1.1M119.9 261.4v1.1M125.0 263.1v1.1M123.9 261.1v1.1M118.0 268.2v1.1M119.5 259.6v1.1M119.9 267.2v1.1M119.9 261.0v1.1M122.8 267.0v1.1M119.8 262.4v1.1M119.2 273.0v1.1M119.8 269.7v1.1M120.0 264.9v1.1M113.3 264.1v1.1M120.7 262.4v1.1M119.1 258.7v1.1M115.2 264.1v1.1M118.2 263.2v1.1M119.9 261.7v1.1M117.9 270.0v1.1M116.6 261.7v1.1M119.5 259.4v1.1M117.1 266.5v1.1M123.8 264.0v1.1M132.0 266.4v1.1M124.9 260.6v1.1M124.4 269.4v1.1M119.2 269.9v1.1M117.6 259.5v1.1M120.3 260.7v1.1M122.8 259.6v1.1M120.8 256.6v1.1M120.4 267.2v1.1M119.6 264.6v1.1M124.4 259.6v1.1M116.0 263.8v1.1M121.5 262.6v1.1M117.1 267.8v1.1M116.4 262.6v1.1M120.4 266.1v1.1M118.9 260.6v1.1M127.7 260.5v1.1M123.3 263.0v1.1M118.8 263.3v1.1M119.6 264.6v1.1M111.5 263.4v1.1M120.8 260.1v1.1M119.1 271.7v1.1M127.1 265.8v1.1M121.3 262.4v1.1M125.4 261.9v1.1M117.6 265.9v1.1M117.1 260.7v1.1M125.7 257.9v1.1M120.3 263.9v1.1M121.4 258.4v1.1M119.7 262.3v1.1M127.3 267.0v1.1M117.8 266.6v1.1M122.8 263.1v1.1M119.7 262.5v1.1M115.0 261.3v1.1M123.8 268.6v1.1M127.1 262.2v1.1M122.7 255.0v1.1M119.6 259.1v1.1M123.4 257.7v1.1M116.8 259.6v1.1M121.9 266.4v1.1M117.2 269.8v1.1M121.1 260.6v1.1M121.8 263.5v1.1M123.5 264.7v1.1M128.3 267.6v1.1M118.2 266.3v1.1M123.2 260.0v1.1M117.9 260.7v1.1M111.7 265.7v1.1M119.7 267.8v1.1M118.5 263.8v1.1M123.1 266.9v1.1M121.7 259.8v1.1M128.3 266.6v1.1M125.4 269.2v1.1M125.5 265.0v1.1M122.2 265.7v1.1M115.2 266.4v1.1M117.1 265.0v1.1M116.9 266.0v1.1M118.8 272.2v1.1M121.2 265.3v1.1M117.3 262.5v1.1M120.3 262.5v1.1M119.0 260.4v1.1M123.2 262.2v1.1M117.6 264.8v1.1M117.6 262.9v1.1M118.7 260.3v1.1M119.7 260.6v1.1M116.1 264.7v1.1M119.5 258.4v1.1M119.1 264.2v1.1M122.0 264.8v1.1M121.4 265.6v1.1M118.8 260.7v1.1M122.7 262.1v1.1M120.6 265.8v1.1M123.9 267.8v1.1M118.1 262.2v1.1M122.5 258.5v1.1M116.1 265.6v1.1M118.4 260.3v1.1M123.4 265.4v1.1M123.8 262.3v1.1M119.5 262.3v1.1M121.6 256.4v1.1M118.1 266.0v1.1M117.8 263.3v1.1M121.0 265.3v1.1M118.8 259.5v1.1M129.4 261.0v1.1M126.6 257.3v1.1M120.9 262.8v1.1M127.2 270.6v1.1M124.0 260.0v1.1M117.7 260.9v1.1M118.7 264.4v1.1M117.7 262.6v1.1M125.7 268.5v1.1M113.9 260.2v1.1M119.2 268.0v1.1M119.4 270.2v1.1M121.8 268.5v1.1M117.5 262.4v1.1M124.1 265.5v1.1M113.9 262.5v1.1M121.2 265.7v1.1M118.3 269.6v1.1M121.1 268.6v1.1M122.0 263.8v1.1M119.4 259.4v1.1M123.6 266.2v1.1M123.8 262.2v1.1M117.0 262.2v1.1M119.4 263.5v1.1M124.0 260.3v1.1M118.8 265.9v1.1M123.7 271.2v1.1M122.4 260.5v1.1M116.9 260.7v1.1M120.8 264.4v1.1M120.3 261.4v1.1M119.9 263.2v1.1M122.6 263.8v1.1M117.7 259.4v1.1M125.8 263.2v1.1M119.9 263.4v1.1M124.5 262.4v1.1M121.2 262.7v1.1M122.6 260.0v1.1M121.3 267.1v1.1M124.7 265.7v1.1M121.6 269.0v1.1M123.0 268.4v1.1M116.3 259.7v1.1M123.4 262.6v1.1M119.0 260.2v1.1M125.8 259.3v1.1M120.9 258.6v1.1M119.9 271.3v1.1M129.1 261.8v1.1M117.0 269.2v1.1M117.5 257.3v1.1M121.8 259.7v1.1M115.4 267.4v1.1M118.0 259.8v1.1M121.1 262.8v1.1M124.5 263.8v1.1M126.2 267.5v1.1M126.8 267.4v1.1M120.8 265.4v1.1M120.6 258.1v1.1M116.4 266.1v1.1M112.2 260.6v1.1M116.0 263.3v1.1M116.9 264.4v1.1M119.9 261.9v1.1M117.6 255.8v1.1M120.8 259.0v1.1M119.5 264.8v1.1M124.2 266.0v1.1M125.8 258.6v1.1M122.9 269.0v1.1M121.9 259.6v1.1M122.0 261.7v1.1M118.3 267.2v1.1M119.9 259.6v1.1M118.2 270.3v1.1M117.6 265.9v1.1M121.2 267.6v1.1M119.6 260.2v1.1M118.3 259.9v1.1M129.7 264.2v1.1M119.4 267.9v1.1M122.9 262.9v1.1M122.7 264.5v1.1M124.5 269.3v1.1M119.5 263.4v1.1M119.9 267.8v1.1M126.0 267.7v1.1M128.5 261.9v1.1M124.7 270.1v1.1M128.6 267.8v1.1M122.7 263.0v1.1M119.9 263.4v1.1M123.8 258.7v1.1M129.8 261.4v1.1M125.3 267.0v1.1M121.4 257.2v1.1M128.8 266.2v1.1M122.8 269.1v1.1M128.5 260.6v1.1M123.7 257.4v1.1M122.8 270.2v1.1M120.0 267.9v1.1M116.7 263.3v1.1M128.7 271.5v1.1M126.3 267.6v1.1M132.5 254.6v1.1M115.7 272.2v1.1M136.1 266.9v1.1M124.4 265.6v1.1M124.2 262.0v1.1M124.0 264.0v1.1M127.3 267.3v1.1M128.9 266.9v1.1M119.4 270.2v1.1M111.1 265.0v1.1M125.7 262.4v1.1M133.2 260.1v1.1M118.4 262.5v1.1M126.1 267.7v1.1M124.6 267.2v1.1M120.7 262.1v1.1M124.7 259.1v1.1M125.0 262.9v1.1M127.4 260.4v1.1M121.5 262.2v1.1M122.3 260.5v1.1M122.8 259.0v1.1M126.7 267.2v1.1M124.0 263.7v1.1M119.8 260.6v1.1M123.0 260.8v1.1M118.4 265.2v1.1M124.0 262.9v1.1M120.1 264.3v1.1M120.7 262.8v1.1M125.0 267.4v1.1M127.8 262.0v1.1M129.9 259.8v1.1M123.2 269.8v1.1M135.6 265.0v1.1M122.3 263.0v1.1M118.2 263.9v1.1M122.0 261.5v1.1M129.9 261.4v1.1M132.3 267.9v1.1M127.2 262.1v1.1M121.6 256.4v1.1M125.4 263.4v1.1M126.0 261.8v1.1M126.4 258.4v1.1M113.5 266.4v1.1M129.3 251.7v1.1M130.3 263.1v1.1M123.3 258.3v1.1M119.2 267.4v1.1M120.5 264.4v1.1M123.3 272.6v1.1M128.4 259.2v1.1M121.8 259.9v1.1M117.4 261.7v1.1M129.4 264.7v1.1M127.3 264.0v1.1M122.0 264.8v1.1M123.7 272.3v1.1M132.8 266.0v1.1M127.0 256.4v1.1M123.5 274.2v1.1M120.2 267.8v1.1M130.0 262.9v1.1M123.0 262.7v1.1M127.9 264.6v1.1M131.3 269.3v1.1M124.0 275.1v1.1M122.6 262.0v1.1M122.9 260.9v1.1M122.0 264.2v1.1M128.4 258.1v1.1M117.3 261.4v1.1M122.6 266.4v1.1M120.3 270.6v1.1M121.5 263.6v1.1M124.3 269.3v1.1M125.5 264.6v1.1M121.5 265.2v1.1M126.0 263.1v1.1M124.0 257.0v1.1M121.5 269.3v1.1M130.9 264.2v1.1M113.6 272.0v1.1M123.2 275.0v1.1M122.1 268.6v1.1M121.1 270.1v1.1M129.6 260.2v1.1M130.3 276.1v1.1M123.0 259.6v1.1M125.4 262.9v1.1M116.8 260.2v1.1M125.2 258.3v1.1M129.3 266.3v1.1M123.2 270.2v1.1M119.6 267.3v1.1M117.5 263.2v1.1M127.1 262.3v1.1M123.5 267.1v1.1M131.4 269.8v1.1M126.3 263.4v1.1M117.1 271.5v1.1M133.1 255.7v1.1M128.2 264.3v1.1M127.5 265.8v1.1M123.1 264.5v1.1M123.9 269.3v1.1M122.8 262.3v1.1M127.2 267.1v1.1M126.1 265.7v1.1M131.1 269.0v1.1M122.5 282.6v1.1M123.9 275.2v1.1M120.2 280.3v1.1M122.4 281.8v1.1M129.4 286.8v1.1M123.1 293.6v1.1M121.8 282.1v1.1M125.6 287.2v1.1M124.7 288.9v1.1M120.7 280.6v1.1M119.6 284.0v1.1M124.9 278.8v1.1M120.2 277.5v1.1M128.0 287.1v1.1M122.5 278.1v1.1M118.7 280.6v1.1M121.9 277.8v1.1M121.1 289.0v1.1M121.9 283.9v1.1M115.4 282.3v1.1M121.4 280.4v1.1M117.6 283.2v1.1M118.7 281.1v1.1M116.9 283.1v1.1M124.6 279.7v1.1M122.8 276.7v1.1M123.6 285.9v1.1M120.6 287.5v1.1M119.1 283.7v1.1M127.0 283.4v1.1M118.4 288.7v1.1M123.5 282.3v1.1M116.2 275.1v1.1M117.2 290.1v1.1M122.7 279.7v1.1M125.4 290.1v1.1M119.2 285.7v1.1M116.8 285.2v1.1M127.4 277.2v1.1M122.0 280.7v1.1M121.5 283.9v1.1M122.7 287.5v1.1M123.4 288.2v1.1M124.9 288.4v1.1M119.8 285.3v1.1M120.7 279.7v1.1M127.8 284.8v1.1M122.0 274.1v1.1M121.1 287.0v1.1M121.2 281.1v1.1M126.4 282.1v1.1M120.8 283.1v1.1M121.1 288.2v1.1M123.6 283.2v1.1M120.7 282.5v1.1M127.0 282.1v1.1M123.8 276.4v1.1M122.8 286.6v1.1M125.7 284.9v1.1M123.6 285.0v1.1M125.1 292.7v1.1M122.4 279.8v1.1M123.7 283.0v1.1M123.8 287.0v1.1M122.3 281.5v1.1M122.8 277.9v1.1M122.7 279.5v1.1M123.2 284.0v1.1M121.2 278.1v1.1M122.0 280.4v1.1M121.4 286.6v1.1M124.8 277.7v1.1M124.7 289.6v1.1M125.3 284.7v1.1M121.6 291.3v1.1M120.9 276.7v1.1M122.1 284.8v1.1M118.7 278.0v1.1M127.9 284.0v1.1M124.2 280.9v1.1M117.2 282.7v1.1M125.9 280.5v1.1M116.3 282.7v1.1M121.0 283.6v1.1M118.6 282.1v1.1M120.2 287.5v1.1M122.3 287.4v1.1M121.7 273.9v1.1M115.8 285.9v1.1M124.5 287.4v1.1M121.6 275.5v1.1M120.3 285.3v1.1M126.1 282.0v1.1M120.1 280.0v1.1M125.0 287.4v1.1M116.2 288.9v1.1M119.0 276.9v1.1M117.0 280.2v1.1M118.0 280.5v1.1M122.3 285.4v1.1M120.4 276.4v1.1M120.6 280.4v1.1M116.3 284.1v1.1M117.3 275.7v1.1M126.5 287.7v1.1M126.3 284.0v1.1M120.6 283.1v1.1M117.7 286.8v1.1M122.7 282.1v1.1M116.1 283.0v1.1M126.8 290.0v1.1M124.5 281.9v1.1M122.3 286.0v1.1M122.4 288.2v1.1M119.8 273.1v1.1M114.4 279.4v1.1M117.6 286.5v1.1M125.1 283.5v1.1M123.5 283.8v1.1M122.4 281.4v1.1M120.6 288.8v1.1M121.0 283.3v1.1M125.5 287.9v1.1M120.6 284.6v1.1M118.7 284.1v1.1M122.8 283.5v1.1M122.3 285.1v1.1M114.1 279.8v1.1M122.1 281.3v1.1M118.9 282.4v1.1M126.8 282.5v1.1M119.8 281.3v1.1M118.2 285.7v1.1M118.8 287.6v1.1M124.6 286.1v1.1M125.0 283.1v1.1M116.4 283.2v1.1M123.8 276.6v1.1M118.1 288.4v1.1M123.2 289.6v1.1M123.9 283.8v1.1M123.2 287.3v1.1M121.8 282.6v1.1M122.8 282.1v1.1M129.2 280.1v1.1M117.2 277.7v1.1M125.1 281.7v1.1M122.3 282.5v1.1M122.7 277.0v1.1M122.1 280.9v1.1M125.2 286.3v1.1M118.0 279.2v1.1M123.6 288.9v1.1M124.2 282.8v1.1M125.3 272.9v1.1M120.2 279.1v1.1M118.7 286.0v1.1M122.7 284.8v1.1M121.4 286.3v1.1M124.2 280.9v1.1M124.7 279.3v1.1M127.3 277.6v1.1M121.0 278.6v1.1M122.0 289.4v1.1M119.5 291.5v1.1M126.2 285.2v1.1M120.0 287.6v1.1M113.0 280.1v1.1M124.8 283.3v1.1M129.5 280.5v1.1M117.7 282.5v1.1M123.6 291.2v1.1M116.4 284.2v1.1M125.7 280.5v1.1M120.4 278.0v1.1M124.2 287.2v1.1M123.7 284.6v1.1M124.9 283.0v1.1M124.1 287.2v1.1M125.9 285.8v1.1M122.1 286.7v1.1M117.0 275.6v1.1M126.9 284.1v1.1M118.6 280.9v1.1M121.4 283.8v1.1M119.5 288.0v1.1M118.5 291.0v1.1M123.9 275.9v1.1M118.0 283.8v1.1M122.7 281.6v1.1M121.9 284.2v1.1M118.3 283.8v1.1M128.9 280.6v1.1M118.7 286.5v1.1M126.0 288.2v1.1M119.9 283.2v1.1M122.5 282.6v1.1M123.1 288.4v1.1M123.5 283.5v1.1M121.2 291.6v1.1M118.0 292.6v1.1M124.1 283.9v1.1M119.5 291.8v1.1M125.6 287.6v1.1M128.4 275.4v1.1M122.2 282.1v1.1M119.6 283.8v1.1M123.5 285.9v1.1M121.4 277.5v1.1M123.6 286.3v1.1M128.5 287.7v1.1M121.9 278.3v1.1M130.4 280.4v1.1M122.5 286.9v1.1M123.4 289.5v1.1M118.6 280.4v1.1M122.4 277.9v1.1M119.9 289.8v1.1M122.4 272.8v1.1M119.9 273.8v1.1M121.4 266.1v1.1M123.9 264.7v1.1M125.3 271.2v1.1M114.8 262.8v1.1M122.4 267.5v1.1M126.9 283.1v1.1M127.8 279.7v1.1M125.5 269.3v1.1M125.4 270.5v1.1M121.4 264.1v1.1M121.7 276.3v1.1M121.4 265.8v1.1M124.2 279.8v1.1M121.3 278.9v1.1M124.5 266.7v1.1M121.4 260.6v1.1M118.5 276.5v1.1M118.9 276.2v1.1M122.6 259.2v1.1M120.1 284.0v1.1M121.6 274.4v1.1M119.4 262.4v1.1M116.8 293.5v1.1M121.0 267.5v1.1M121.9 260.0v1.1M125.7 285.4v1.1M119.3 275.7v1.1M118.9 279.5v1.1M119.0 272.5v1.1M125.4 277.1v1.1M120.6 262.9v1.1M116.8 281.9v1.1M123.1 273.9v1.1M125.3 274.5v1.1M119.4 272.8v1.1M121.2 273.4v1.1M129.0 277.5v1.1M122.4 271.8v1.1M119.5 266.6v1.1M115.9 270.3v1.1M117.0 260.6v1.1M118.7 259.4v1.1M125.6 282.2v1.1M118.6 287.8v1.1M123.5 255.9v1.1M121.6 266.5v1.1M116.3 271.7v1.1M125.0 276.6v1.1M117.2 268.9v1.1M119.3 281.5v1.1M121.2 266.7v1.1M118.8 259.7v1.1M119.0 279.8v1.1M115.8 274.8v1.1M121.2 279.2v1.1M118.1 279.9v1.1M126.2 289.5v1.1M116.6 273.3v1.1M120.9 274.4v1.1M118.6 279.5v1.1M128.6 284.0v1.1M118.7 269.5v1.1M123.7 274.4v1.1M119.2 282.2v1.1M123.1 280.7v1.1M121.0 282.5v1.1M120.1 265.7v1.1M121.5 263.7v1.1M125.3 278.6v1.1M116.5 274.7v1.1M124.1 271.0v1.1M122.8 269.4v1.1M121.3 272.9v1.1M123.0 266.7v1.1M118.1 275.8v1.1M120.0 277.1v1.1M120.0 264.3v1.1M123.7 275.4v1.1M123.7 271.1v1.1M120.4 282.4v1.1M116.4 285.7v1.1M123.1 273.1v1.1M121.8 277.7v1.1M119.2 275.4v1.1M118.6 260.5v1.1M122.1 274.2v1.1M123.5 277.4v1.1M123.6 279.0v1.1" stroke="#000" stroke-width="0.70" stroke-opacity="0.45" fill="none" filter="url(#bl)"/>
<rect x="107.00" y="253.80" width="36.80" height="21.20" fill="none" stroke="#000" stroke-width="0.95"/>
<text x="118.50" y="251.20" font-size="8.20" textLength="13.40" lengthAdjust="spacingAndGlyphs" class="n">72.1</text>
<ellipse cx="172.8" cy="279.8" rx="9.5" ry="7.7" fill="url(#cg)" fill-opacity="0.62"/>
<ellipse cx="176.0" cy="280.0" rx="14.3" ry="11.0" fill="url(#cg)" fill-opacity="0.19"/>
<ellipse cx="176.5" cy="267.0" rx="11.0" ry="11.0" fill="url(#cg)" fill-opacity="0.10"/>
<path d="M168.3 283.6v1.1M184.4 277.3v1.1M167.4 281.7v1.1M176.8 282.8v1.1M179.5 274.4v1.1M174.5 280.9v1.1M178.2 276.2v1.1M172.9 278.0v1.1M172.1 278.8v1.1M172.2 273.1v1.1M172.7 279.5v1.1M171.2 266.8v1.1M169.8 277.0v1.1M169.1 284.9v1.1M176.8 278.6v1.1M175.4 290.9v1.1M168.6 281.0v1.1M170.2 284.5v1.1M177.6 278.9v1.1M175.5 276.5v1.1M166.0 282.3v1.1M179.9 278.2v1.1M170.5 273.0v1.1M182.1 275.1v1.1M168.6 278.6v1.1M178.1 279.5v1.1M172.7 279.4v1.1M176.5 279.2v1.1M173.5 279.0v1.1M168.0 284.0v1.1M169.8 274.7v1.1M170.9 279.4v1.1M176.4 274.1v1.1M167.3 279.9v1.1M174.5 275.4v1.1M167.9 279.9v1.1M172.2 273.6v1.1M169.0 284.5v1.1M168.2 283.0v1.1M166.2 284.5v1.1M179.7 277.1v1.1M169.9 281.5v1.1M167.4 281.2v1.1M178.1 280.2v1.1M174.2 278.7v1.1M177.1 276.4v1.1M179.7 279.2v1.1M171.4 273.6v1.1M170.9 280.1v1.1M178.2 273.6v1.1M172.3 276.9v1.1M167.6 279.3v1.1M169.5 282.4v1.1M161.2 281.9v1.1M164.6 272.4v1.1M175.1 278.1v1.1M173.4 275.9v1.1M168.3 276.7v1.1M172.6 276.3v1.1M171.0 276.3v1.1M173.8 275.3v1.1M163.8 270.1v1.1M172.7 279.6v1.1M177.0 276.7v1.1M167.9 274.1v1.1M176.1 277.1v1.1M177.1 279.0v1.1M171.6 272.8v1.1M169.9 282.1v1.1M170.2 281.7v1.1M165.7 282.9v1.1M184.8 283.2v1.1M174.2 275.0v1.1M170.5 277.0v1.1M173.6 272.2v1.1M169.1 282.1v1.1M173.4 281.9v1.1M176.5 275.3v1.1M167.0 280.9v1.1M172.9 279.6v1.1M169.3 282.9v1.1M174.9 283.3v1.1M171.3 281.7v1.1M172.5 276.0v1.1M172.5 273.5v1.1M172.0 279.9v1.1M175.8 275.6v1.1M167.1 276.7v1.1M163.9 277.0v1.1M184.1 279.8v1.1M169.5 276.9v1.1M180.4 275.2v1.1M172.3 279.0v1.1M169.6 276.8v1.1M165.6 276.3v1.1M178.4 284.3v1.1M171.6 281.8v1.1M174.8 279.7v1.1M172.2 283.6v1.1M175.3 278.5v1.1M171.8 282.6v1.1M170.2 276.8v1.1M171.6 277.6v1.1M178.2 280.6v1.1M172.4 277.4v1.1M178.9 280.8v1.1M181.8 282.5v1.1M171.9 277.4v1.1M171.6 279.9v1.1M176.2 281.0v1.1M179.6 274.0v1.1M172.9 274.3v1.1M168.4 277.2v1.1M170.0 275.9v1.1M166.2 283.3v1.1M171.4 282.7v1.1M168.0 271.2v1.1M170.2 282.4v1.1M170.4 280.7v1.1M168.2 284.2v1.1M174.7 283.0v1.1M171.6 283.8v1.1M173.1 277.6v1.1M170.0 279.5v1.1M168.9 275.1v1.1M173.4 281.8v1.1M171.5 282.3v1.1M179.6 274.9v1.1M173.9 275.9v1.1M170.0 279.9v1.1M162.6 281.4v1.1M176.4 281.2v1.1M175.6 285.7v1.1M171.2 283.1v1.1M179.0 281.0v1.1M165.1 278.7v1.1M171.5 273.6v1.1M172.5 282.0v1.1M171.7 278.7v1.1M179.1 277.1v1.1M168.7 279.4v1.1M177.6 281.4v1.1M173.1 277.6v1.1M178.1 282.4v1.1M165.3 280.5v1.1M162.4 284.5v1.1M175.4 277.1v1.1M167.2 278.2v1.1M165.2 281.3v1.1M170.6 273.1v1.1M172.7 283.4v1.1M167.3 278.0v1.1M180.6 279.9v1.1M170.4 280.0v1.1M176.2 275.8v1.1M172.4 273.6v1.1M166.0 273.9v1.1M176.4 280.4v1.1M176.0 283.6v1.1M173.0 280.1v1.1M174.5 280.9v1.1M168.2 278.3v1.1M172.1 279.4v1.1M169.6 278.8v1.1M174.0 279.9v1.1M175.3 282.2v1.1M175.2 282.7v1.1M176.4 284.2v1.1M175.5 277.1v1.1M182.8 283.3v1.1M178.2 281.9v1.1M173.0 275.3v1.1M174.7 278.1v1.1M171.1 271.8v1.1M179.5 275.2v1.1M168.1 280.9v1.1M175.2 276.5v1.1M172.8 280.2v1.1M173.5 281.1v1.1M176.1 278.0v1.1M165.8 286.9v1.1M171.1 275.8v1.1M176.0 281.4v1.1M170.1 287.5v1.1M162.7 283.8v1.1M172.6 280.4v1.1M174.2 278.5v1.1M174.2 274.7v1.1M171.1 285.8v1.1M161.7 283.6v1.1M163.2 276.3v1.1M176.6 277.9v1.1M170.3 274.0v1.1M172.3 278.7v1.1M170.0 273.8v1.1M173.5 280.8v1.1M177.7 281.1v1.1M179.4 283.5v1.1M160.6 285.1v1.1M172.3 275.6v1.1M174.7 282.7v1.1M166.1 275.0v1.1M175.8 277.4v1.1M179.1 280.1v1.1M170.4 274.6v1.1M175.4 273.3v1.1M167.2 274.7v1.1M180.1 285.3v1.1M171.8 278.0v1.1M175.8 283.7v1.1M169.3 287.0v1.1M171.9 283.3v1.1M162.6 279.1v1.1M169.8 286.3v1.1M171.9 274.8v1.1M181.2 276.9v1.1M172.8 274.9v1.1M175.7 280.0v1.1M171.5 277.9v1.1M170.3 276.8v1.1M166.7 283.5v1.1M176.7 274.4v1.1M167.8 280.7v1.1M182.6 278.6v1.1M171.4 278.4v1.1M173.9 278.7v1.1M177.5 282.7v1.1M175.2 284.8v1.1M171.8 277.4v1.1M185.7 272.5v1.1M166.1 271.0v1.1M174.3 275.5v1.1M177.4 271.9v1.1M172.2 277.9v1.1M168.1 283.2v1.1M171.1 280.9v1.1M170.5 279.8v1.1M170.9 279.6v1.1M172.4 276.9v1.1M174.7 278.6v1.1M168.6 275.6v1.1M174.7 284.0v1.1M167.1 277.8v1.1M174.7 283.0v1.1M175.9 275.1v1.1M173.0 282.5v1.1M173.8 278.5v1.1M167.7 279.9v1.1M172.5 279.4v1.1M179.3 283.5v1.1M169.4 280.1v1.1M171.5 279.6v1.1M179.8 282.5v1.1M173.0 277.0v1.1M172.1 280.6v1.1M170.6 283.2v1.1M172.9 275.1v1.1M181.6 269.1v1.1M171.6 278.9v1.1M177.1 283.2v1.1M179.1 284.8v1.1M174.2 279.7v1.1M177.2 279.2v1.1M167.4 277.7v1.1M175.7 281.4v1.1M168.0 283.5v1.1M174.1 274.0v1.1M174.8 282.8v1.1M175.1 278.2v1.1M169.3 283.2v1.1M173.8 279.3v1.1M171.1 275.7v1.1M164.7 278.1v1.1M177.6 282.0v1.1M169.9 284.7v1.1M171.8 275.8v1.1M177.0 284.2v1.1M171.1 275.0v1.1M172.5 270.8v1.1M173.0 284.7v1.1M174.0 276.7v1.1M175.9 277.6v1.1M178.3 278.0v1.1M181.6 278.1v1.1M173.6 276.0v1.1M167.3 280.5v1.1M174.3 275.9v1.1M175.2 277.8v1.1M170.4 279.0v1.1M174.5 281.8v1.1M178.1 280.6v1.1M169.7 276.9v1.1M174.4 275.1v1.1M172.1 277.9v1.1M172.4 279.9v1.1M177.3 285.1v1.1M176.6 282.8v1.1M168.2 282.9v1.1M178.4 274.5v1.1M183.7 277.3v1.1M162.5 285.5v1.1M173.1 276.5v1.1M170.3 283.1v1.1M173.9 278.0v1.1M177.8 276.0v1.1M169.1 277.3v1.1M169.6 281.7v1.1M171.8 275.6v1.1M170.8 272.3v1.1M173.5 279.7v1.1M175.4 278.5v1.1M174.5 276.0v1.1M172.9 279.8v1.1M167.6 281.4v1.1M173.4 279.5v1.1M170.7 286.3v1.1M172.8 276.6v1.1M169.1 281.4v1.1M171.9 276.5v1.1M169.7 282.6v1.1M173.2 283.0v1.1M172.7 275.2v1.1M176.5 280.4v1.1M170.0 278.2v1.1M168.6 282.2v1.1M171.0 281.0v1.1M173.9 278.4v1.1M174.4 278.4v1.1M167.7 277.8v1.1M167.7 281.9v1.1M175.6 277.2v1.1M175.5 280.2v1.1M177.0 276.0v1.1M172.9 275.8v1.1M169.9 284.1v1.1M164.1 276.1v1.1M174.9 282.0v1.1M169.4 272.2v1.1M165.4 280.6v1.1M177.5 282.5v1.1M169.6 284.0v1.1M172.0 281.5v1.1M172.0 284.9v1.1M170.6 271.8v1.1M171.4 280.0v1.1M174.0 276.8v1.1M171.8 275.3v1.1M171.8 279.6v1.1M173.8 285.1v1.1M164.2 281.1v1.1M174.7 275.2v1.1M173.1 279.3v1.1M168.5 281.8v1.1M181.0 281.7v1.1M176.1 283.0v1.1M172.2 282.7v1.1M169.3 279.9v1.1M175.8 283.9v1.1M171.6 278.3v1.1M174.8 279.0v1.1M173.4 282.1v1.1M169.5 282.4v1.1M174.4 278.4v1.1M167.4 277.1v1.1M172.6 282.6v1.1M164.4 281.8v1.1M173.6 275.4v1.1M176.5 280.7v1.1M174.7 275.9v1.1M168.1 282.5v1.1M178.8 280.6v1.1M172.0 277.7v1.1M165.5 282.7v1.1M172.4 283.6v1.1M169.7 283.0v1.1M169.7 281.3v1.1M178.7 276.8v1.1M176.7 279.3v1.1M168.8 280.0v1.1M175.6 276.8v1.1M171.7 277.3v1.1M169.5 278.6v1.1M176.3 277.6v1.1M178.1 278.0v1.1M169.9 283.0v1.1M178.8 277.0v1.1M175.3 275.3v1.1M171.1 278.0v1.1M175.8 274.9v1.1M170.6 276.9v1.1M173.2 275.0v1.1M167.1 289.1v1.1M173.7 274.1v1.1M176.4 274.7v1.1M164.8 285.1v1.1M178.1 276.4v1.1M168.2 280.9v1.1M181.4 281.4v1.1M175.6 275.2v1.1M165.2 280.6v1.1M177.1 279.8v1.1M172.8 284.1v1.1M169.2 283.1v1.1M176.3 277.1v1.1M173.3 279.7v1.1M175.3 275.9v1.1M171.8 279.6v1.1M172.9 279.4v1.1M173.9 278.6v1.1M170.7 282.9v1.1M170.1 278.2v1.1M169.1 275.3v1.1M174.7 279.2v1.1M172.2 280.9v1.1M172.1 281.6v1.1M180.5 280.5v1.1M171.7 285.0v1.1M175.8 273.6v1.1M178.4 280.0v1.1M176.4 275.3v1.1M169.2 277.1v1.1M175.1 275.4v1.1M169.8 282.6v1.1M170.1 279.7v1.1M169.0 273.4v1.1M172.4 278.9v1.1M166.7 282.7v1.1M176.3 282.3v1.1M170.6 275.3v1.1M172.4 279.9v1.1M172.1 277.3v1.1M168.6 276.8v1.1M172.4 277.6v1.1M179.8 278.3v1.1M174.7 277.7v1.1M172.0 275.9v1.1M170.7 274.1v1.1M164.0 283.9v1.1M168.3 280.8v1.1M172.3 277.3v1.1M175.9 277.4v1.1M174.6 278.0v1.1M176.9 282.6v1.1M173.1 283.1v1.1M174.9 284.6v1.1M172.3 274.0v1.1M173.7 280.1v1.1M171.3 278.6v1.1M171.7 275.0v1.1M180.0 276.6v1.1M168.3 273.9v1.1M169.2 279.2v1.1M179.0 281.4v1.1M169.7 275.0v1.1M168.1 279.0v1.1M176.5 277.6v1.1M179.5 285.9v1.1M173.5 271.9v1.1M177.4 279.0v1.1M175.6 282.7v1.1M168.6 279.5v1.1M173.5 276.7v1.1M175.7 278.9v1.1M171.1 285.7v1.1M173.5 284.9v1.1M172.1 282.9v1.1M169.6 279.8v1.1M177.3 271.8v1.1M175.1 278.4v1.1M177.4 279.9v1.1M172.5 274.9v1.1M185.2 276.8v1.1M171.4 276.8v1.1M171.5 280.0v1.1M167.2 282.9v1.1M171.7 281.3v1.1M163.9 277.5v1.1M171.5 278.0v1.1M170.0 280.4v1.1M174.5 275.9v1.1M164.5 281.8v1.1M171.4 283.0v1.1M176.5 278.9v1.1M166.8 278.1v1.1M169.7 283.5v1.1M165.7 282.4v1.1M166.3 277.3v1.1M166.8 276.9v1.1M170.9 280.6v1.1M170.3 281.6v1.1M180.1 279.8v1.1M167.9 278.7v1.1M172.3 278.1v1.1M177.6 283.2v1.1M181.2 281.1v1.1M161.6 278.8v1.1M175.6 276.5v1.1M170.3 282.4v1.1M173.4 275.4v1.1M170.3 268.7v1.1M172.8 275.1v1.1M172.6 275.2v1.1M168.9 277.5v1.1M184.5 275.2v1.1M167.8 277.4v1.1M177.2 282.0v1.1M175.7 278.2v1.1M173.3 276.6v1.1M172.0 276.5v1.1M166.7 275.9v1.1M180.9 280.7v1.1M169.6 278.9v1.1M170.9 283.5v1.1M172.6 277.1v1.1M175.6 280.4v1.1M169.9 276.6v1.1M173.4 273.7v1.1M168.9 282.7v1.1M176.4 283.1v1.1M170.9 277.2v1.1M171.6 277.6v1.1M178.1 278.5v1.1M178.4 276.9v1.1M174.3 284.8v1.1M169.6 277.0v1.1M170.2 273.8v1.1M171.5 277.1v1.1M182.0 277.6v1.1M163.8 282.5v1.1M176.7 279.2v1.1M174.0 281.7v1.1M170.4 279.4v1.1M173.4 285.0v1.1M178.7 279.9v1.1M167.1 282.3v1.1M172.5 283.3v1.1M173.0 279.9v1.1M175.5 276.8v1.1M170.0 287.1v1.1M169.1 282.5v1.1M180.2 283.5v1.1M184.6 272.9v1.1M182.0 269.4v1.1M176.3 281.1v1.1M182.4 284.8v1.1M170.0 278.1v1.1M174.9 276.1v1.1M170.7 276.2v1.1M183.2 286.1v1.1M180.7 287.7v1.1M176.5 274.2v1.1M171.8 280.5v1.1M182.4 285.4v1.1M170.2 284.2v1.1M172.5 282.4v1.1M181.7 286.7v1.1M172.6 280.7v1.1M178.6 277.4v1.1M176.5 282.4v1.1M165.5 276.3v1.1M190.5 281.7v1.1M172.4 270.5v1.1M169.9 282.0v1.1M180.2 281.7v1.1M179.7 276.5v1.1M186.0 274.0v1.1M179.1 278.2v1.1M165.1 283.9v1.1M174.2 283.0v1.1M184.0 280.3v1.1M171.7 278.4v1.1M175.5 286.6v1.1M181.3 287.3v1.1M180.7 275.7v1.1M181.8 284.2v1.1M175.1 281.8v1.1M173.9 273.3v1.1M175.3 283.2v1.1M173.6 268.5v1.1M170.9 284.8v1.1M177.3 285.0v1.1M171.1 277.4v1.1M169.6 275.7v1.1M179.1 280.2v1.1M172.8 281.0v1.1M167.6 277.6v1.1M166.4 272.1v1.1M167.3 274.1v1.1M185.9 286.2v1.1M183.9 276.6v1.1M179.8 273.9v1.1M172.5 280.7v1.1M165.8 280.5v1.1M179.8 269.3v1.1M160.4 278.1v1.1M175.1 280.2v1.1M168.7 282.3v1.1M176.7 275.9v1.1M186.3 280.8v1.1M180.6 288.6v1.1M172.8 278.4v1.1M164.9 278.4v1.1M178.7 291.8v1.1M179.5 280.5v1.1M167.9 275.3v1.1M164.2 272.7v1.1M176.6 281.0v1.1M170.1 278.4v1.1M170.8 282.5v1.1M179.9 276.7v1.1M173.0 273.5v1.1M172.9 290.3v1.1M175.8 283.7v1.1M179.6 286.8v1.1M173.8 275.0v1.1M182.5 284.0v1.1M171.7 284.9v1.1M175.8 279.3v1.1M187.5 282.1v1.1M177.9 277.9v1.1M177.2 284.7v1.1M178.8 275.8v1.1M178.7 278.9v1.1M177.8 278.5v1.1M162.1 271.5v1.1M173.5 268.6v1.1M166.4 289.5v1.1M180.3 277.2v1.1M178.0 268.4v1.1M177.5 284.4v1.1M177.1 273.0v1.1M182.0 276.9v1.1M172.3 280.5v1.1M174.0 289.6v1.1M175.0 290.1v1.1M178.8 273.4v1.1M175.9 279.8v1.1M185.0 285.8v1.1M192.1 276.2v1.1M173.1 291.0v1.1M170.2 281.3v1.1M186.1 274.5v1.1M173.7 275.8v1.1M179.2 281.5v1.1M175.6 282.8v1.1M170.9 277.6v1.1M178.9 289.5v1.1M175.7 279.8v1.1M184.2 279.9v1.1M184.2 280.7v1.1M183.2 280.4v1.1M170.1 275.3v1.1M178.6 288.8v1.1M187.7 277.9v1.1M191.8 274.0v1.1M170.5 284.1v1.1M166.2 284.0v1.1M178.3 282.6v1.1M168.2 281.4v1.1M181.9 279.2v1.1M182.4 279.6v1.1M178.1 277.9v1.1M167.3 278.7v1.1M179.1 275.7v1.1M163.5 271.8v1.1M184.3 278.4v1.1M171.0 285.7v1.1M174.8 272.0v1.1M173.1 275.1v1.1M174.7 275.0v1.1M176.3 281.8v1.1M172.3 278.5v1.1M174.9 283.6v1.1M171.3 283.2v1.1M183.8 278.5v1.1M169.7 278.0v1.1M164.6 276.8v1.1M168.3 278.7v1.1M173.5 282.1v1.1M176.6 281.6v1.1M175.6 280.9v1.1M168.7 282.8v1.1M184.2 285.0v1.1M167.3 281.6v1.1M165.5 283.3v1.1M174.6 277.2v1.1M171.1 278.3v1.1M175.9 274.7v1.1M176.3 280.8v1.1M179.3 279.3v1.1M175.9 291.1v1.1M182.3 281.1v1.1M167.0 282.6v1.1M179.6 266.2v1.1M174.9 281.4v1.1M176.1 280.0v1.1M174.9 286.4v1.1M178.3 278.1v1.1M174.5 289.9v1.1M170.4 276.9v1.1M178.0 280.2v1.1M177.8 286.3v1.1M183.2 281.6v1.1M176.2 279.2v1.1M174.4 284.5v1.1M167.8 274.3v1.1M173.0 274.7v1.1M171.2 285.5v1.1M161.5 282.4v1.1M167.5 278.3v1.1M172.2 274.5v1.1M166.4 279.9v1.1M157.0 268.9v1.1M173.4 285.0v1.1M187.8 278.0v1.1M170.8 278.1v1.1M178.9 284.2v1.1M169.8 281.9v1.1M175.7 285.2v1.1M173.3 278.5v1.1M170.5 272.9v1.1M177.7 283.1v1.1M183.1 280.8v1.1M173.0 274.9v1.1M168.5 275.9v1.1M178.1 280.0v1.1M161.2 279.0v1.1M174.1 274.3v1.1M175.8 282.2v1.1M169.3 272.7v1.1M173.9 280.8v1.1M174.3 287.2v1.1M176.9 274.5v1.1M180.9 276.3v1.1M180.4 280.0v1.1M183.8 274.5v1.1M180.6 281.6v1.1M170.1 283.0v1.1M190.5 281.3v1.1M171.0 278.7v1.1M182.9 267.8v1.1M183.8 263.2v1.1M182.9 258.6v1.1M175.6 265.0v1.1M174.0 272.6v1.1M173.5 268.3v1.1M185.6 270.6v1.1M174.4 262.8v1.1M166.5 268.4v1.1M180.8 272.0v1.1M177.7 277.3v1.1M180.3 254.9v1.1M172.1 270.5v1.1M174.5 270.7v1.1M189.2 262.7v1.1M187.4 266.1v1.1M169.2 267.0v1.1M180.9 263.6v1.1M184.3 262.1v1.1M175.5 271.1v1.1M175.4 263.7v1.1M176.4 269.8v1.1M185.1 273.3v1.1M185.8 266.4v1.1M168.2 266.3v1.1M174.4 261.5v1.1M173.9 266.2v1.1M176.7 271.1v1.1M171.9 272.2v1.1M176.7 270.2v1.1M182.7 260.3v1.1M184.4 262.9v1.1M178.5 271.9v1.1M181.1 258.7v1.1M177.3 272.2v1.1M175.9 266.1v1.1M176.8 274.7v1.1M173.8 261.8v1.1M171.0 263.9v1.1M175.3 268.2v1.1M176.1 257.9v1.1M168.6 269.9v1.1M180.1 259.7v1.1M181.1 254.3v1.1M188.1 269.5v1.1M168.2 269.1v1.1M176.3 264.2v1.1M174.7 265.4v1.1M176.0 262.0v1.1M173.7 269.3v1.1M179.1 259.8v1.1M174.0 274.3v1.1M180.1 274.8v1.1M169.7 261.3v1.1M165.7 256.8v1.1M174.6 261.2v1.1M171.1 263.0v1.1M175.6 270.7v1.1M179.3 257.7v1.1M183.9 264.8v1.1M171.5 266.3v1.1M174.5 259.5v1.1M184.3 263.6v1.1M173.5 269.2v1.1M184.9 268.9v1.1M172.0 268.7v1.1M182.0 268.4v1.1M179.7 264.1v1.1M176.1 258.1v1.1M172.9 260.8v1.1M176.5 274.0v1.1M165.2 259.9v1.1M171.8 266.1v1.1M182.3 262.6v1.1M172.6 272.6v1.1M178.4 269.1v1.1M180.7 262.8v1.1M177.6 263.2v1.1M172.9 267.2v1.1M178.7 260.1v1.1M172.6 269.6v1.1M177.3 269.8v1.1M174.9 262.5v1.1M180.4 269.5v1.1M162.3 270.8v1.1M172.7 269.9v1.1M184.4 265.1v1.1M171.6 267.8v1.1M176.9 269.3v1.1M169.5 267.7v1.1M181.0 270.0v1.1M179.6 272.5v1.1M172.4 272.6v1.1M177.5 261.5v1.1M175.0 267.9v1.1M178.2 273.3v1.1M177.5 263.9v1.1M187.5 264.8v1.1M172.4 271.2v1.1M174.4 262.6v1.1M171.2 272.5v1.1M171.2 267.0v1.1M174.2 265.5v1.1M172.4 267.3v1.1M179.5 271.8v1.1M174.7 260.7v1.1M169.1 266.5v1.1M164.0 273.2v1.1M176.6 267.1v1.1M169.5 263.3v1.1M172.8 269.9v1.1M174.4 269.6v1.1M179.1 256.9v1.1M175.3 272.8v1.1M173.9 267.2v1.1M175.9 260.4v1.1M187.4 265.9v1.1M179.7 264.3v1.1M183.5 272.3v1.1M182.4 271.3v1.1" stroke="#000" stroke-width="0.70" stroke-opacity="0.45" fill="none" filter="url(#bl)"/>
<rect x="160.00" y="253.80" width="37.00" height="21.20" fill="none" stroke="#000" stroke-width="0.95"/>
<text x="171.50" y="251.20" font-size="8.20" textLength="13.90" lengthAdjust="spacingAndGlyphs" class="n">17.3</text>
<rect x="48.90" y="190.00" width="158.60" height="105.80" fill="none" stroke="#000" stroke-width="1.45"/>
<line x1="102.00" y1="190.00" x2="102.00" y2="295.80" stroke="#000" stroke-width="1.45"/>
<line x1="154.60" y1="190.00" x2="154.60" y2="295.80" stroke="#000" stroke-width="1.45"/>
<line x1="48.90" y1="243.20" x2="207.50" y2="243.20" stroke="#000" stroke-width="1.45"/>
<text x="80.50" y="334.30" font-size="8.40" textLength="43.30" lengthAdjust="spacingAndGlyphs" class="s">CD103<tspan dy="-3.19" font-size="4.70">+</tspan><tspan dy="3.19"> DCs</tspan></text>
<text x="204.50" y="334.30" font-size="8.40" textLength="40.50" lengthAdjust="spacingAndGlyphs" class="s">CD103<tspan dy="-3.19" font-size="4.70">−</tspan><tspan dy="3.19"> DCs</tspan></text>
<line x1="49.10" y1="337.80" x2="155.80" y2="337.80" stroke="#000" stroke-width="1.10"/>
<line x1="171.50" y1="337.80" x2="279.50" y2="337.80" stroke="#000" stroke-width="1.10"/>
<text x="62.00" y="347.50" font-size="8.40" textLength="26.80" lengthAdjust="spacingAndGlyphs" class="s">Control</text>
<text x="122.50" y="347.50" font-size="8.40" textLength="13.80" lengthAdjust="spacingAndGlyphs" class="s">+RA</text>
<text x="185.50" y="347.50" font-size="8.40" textLength="26.50" lengthAdjust="spacingAndGlyphs" class="s">Control</text>
<text x="245.00" y="347.50" font-size="8.40" textLength="13.80" lengthAdjust="spacingAndGlyphs" class="s">+RA</text>
<text x="8.30" y="375.00" font-size="8.40" textLength="34.20" lengthAdjust="spacingAndGlyphs" class="s">Wild-type</text>
<text x="18.80" y="385.00" font-size="8.40" textLength="13.80" lengthAdjust="spacingAndGlyphs" class="s">DCs</text>
<text x="12.00" y="425.00" font-size="8.40" textLength="26.80" lengthAdjust="spacingAndGlyphs" class="s">APC<tspan dy="-3.19" font-size="4.70">min/+</tspan></text>
<text x="18.80" y="435.00" font-size="8.40" textLength="14.20" lengthAdjust="spacingAndGlyphs" class="s">DCs</text>
<text x="22.60" y="454.80" font-size="6.40" textLength="16.30" lengthAdjust="spacingAndGlyphs" class="m">IL17A</text>
<text x="47.30" y="471.90" font-size="6.40" textLength="12.10" lengthAdjust="spacingAndGlyphs" class="m">CD4</text>
<line x1="42.10" y1="464.50" x2="42.10" y2="441.00" stroke="#000" stroke-width="1.10"/>
<line x1="41.55" y1="464.50" x2="65.00" y2="464.50" stroke="#000" stroke-width="1.10"/>
<path d="M42.1 438.6l-2.3 3.9h4.6zM67.6 464.5l-3.9-2.3v4.6z" fill="#000"/>
<ellipse cx="83.2" cy="391.0" rx="2.8" ry="4.5" fill="#000" fill-opacity="0.85" filter="url(#bl2)"/>
<ellipse cx="83.2" cy="390.9" rx="5.9" ry="8.6" fill="url(#cg)" fill-opacity="0.99"/>
<ellipse cx="83.7" cy="369.8" rx="4.2" ry="18.7" fill="url(#cg)" fill-opacity="0.14"/>
<path d="M85.2 395.8v1.1M84.3 391.0v1.1M85.4 386.9v1.1M76.4 393.6v1.1M83.7 387.7v1.1M82.5 386.7v1.1M81.0 391.2v1.1M83.6 393.7v1.1M83.0 392.9v1.1M85.1 387.7v1.1M78.7 387.8v1.1M82.6 388.4v1.1M89.2 387.8v1.1M84.5 387.4v1.1M85.1 385.5v1.1M85.8 391.1v1.1M82.2 385.8v1.1M87.8 388.2v1.1M87.2 381.0v1.1M80.0 397.5v1.1M88.1 390.5v1.1M86.0 392.8v1.1M82.3 390.9v1.1M80.1 385.2v1.1M83.6 393.3v1.1M83.7 385.7v1.1M85.5 390.8v1.1M85.3 389.3v1.1M82.5 394.5v1.1M87.0 385.8v1.1M80.2 394.2v1.1M84.2 390.6v1.1M80.6 394.4v1.1M83.8 391.3v1.1M84.3 388.4v1.1M84.3 391.0v1.1M85.2 391.9v1.1M79.8 387.7v1.1M82.5 395.0v1.1M81.5 394.9v1.1M86.2 393.9v1.1M89.4 390.4v1.1M84.1 395.2v1.1M84.4 394.3v1.1M82.9 396.0v1.1M84.2 383.0v1.1M86.2 389.7v1.1M80.9 389.3v1.1M82.5 394.9v1.1M84.2 390.2v1.1M83.2 387.0v1.1M81.5 388.6v1.1M82.6 385.9v1.1M82.2 394.4v1.1M84.5 390.5v1.1M84.2 389.5v1.1M80.0 393.9v1.1M89.3 392.4v1.1M85.1 400.0v1.1M80.0 392.5v1.1M82.3 389.4v1.1M78.8 390.1v1.1M84.3 384.2v1.1M82.7 388.6v1.1M80.5 392.9v1.1M87.7 392.1v1.1M86.0 393.4v1.1M83.1 392.7v1.1M86.8 388.8v1.1M82.8 385.1v1.1M78.2 387.3v1.1M85.7 391.9v1.1M84.0 395.6v1.1M78.5 395.8v1.1M83.5 393.5v1.1M87.0 387.3v1.1M80.9 392.0v1.1M83.1 388.2v1.1M82.9 387.6v1.1M83.6 389.0v1.1M87.9 386.4v1.1M84.8 390.8v1.1M87.5 386.7v1.1M82.0 397.2v1.1M81.5 389.0v1.1M82.2 386.7v1.1M86.6 396.3v1.1M82.8 387.5v1.1M79.6 393.0v1.1M81.8 392.6v1.1M76.7 388.8v1.1M85.0 392.1v1.1M75.5 391.6v1.1M83.6 390.4v1.1M82.3 388.7v1.1M83.6 392.4v1.1M74.7 390.4v1.1M85.8 389.6v1.1M86.6 386.8v1.1M88.4 394.2v1.1M82.1 401.1v1.1M87.2 396.6v1.1M80.0 390.0v1.1M84.5 394.5v1.1M83.5 385.4v1.1M86.6 389.8v1.1M84.4 389.2v1.1M82.9 385.1v1.1M85.1 388.0v1.1M78.4 392.0v1.1M83.2 394.2v1.1M85.5 385.8v1.1M82.8 390.4v1.1M83.5 386.4v1.1M83.5 394.2v1.1M86.6 396.1v1.1M85.3 380.7v1.1M82.5 388.3v1.1M75.4 396.4v1.1M85.7 390.4v1.1M84.2 392.3v1.1M82.7 395.8v1.1M88.2 393.6v1.1M81.7 391.4v1.1M85.9 393.2v1.1M81.4 394.1v1.1M85.2 392.7v1.1M82.1 390.3v1.1M78.1 390.3v1.1M82.1 389.3v1.1M82.5 389.2v1.1M83.5 390.8v1.1M81.6 389.9v1.1M83.0 392.3v1.1M84.4 389.1v1.1M81.0 384.1v1.1M79.9 392.0v1.1M80.8 396.6v1.1M82.8 389.0v1.1M82.8 388.3v1.1M81.5 390.7v1.1M79.3 391.0v1.1M83.0 387.0v1.1M86.0 391.8v1.1M86.2 387.9v1.1M79.9 385.9v1.1M79.0 383.1v1.1M87.5 388.6v1.1M83.8 388.4v1.1M82.9 396.5v1.1M78.5 386.6v1.1M83.6 386.9v1.1M85.1 395.4v1.1M85.7 393.3v1.1M82.8 394.3v1.1M81.1 385.8v1.1M82.5 389.5v1.1M86.6 386.6v1.1M86.4 387.4v1.1M79.8 383.9v1.1M83.2 384.9v1.1M83.8 390.6v1.1M82.2 383.0v1.1M81.8 392.2v1.1M78.4 393.1v1.1M83.3 388.3v1.1M83.8 392.9v1.1M83.2 387.4v1.1M85.4 387.8v1.1M84.2 394.2v1.1M86.8 396.6v1.1M86.0 391.0v1.1M82.7 391.2v1.1M84.7 401.9v1.1M85.0 387.2v1.1M87.4 384.3v1.1M86.0 385.5v1.1M80.3 388.5v1.1M82.5 385.2v1.1M84.9 390.0v1.1M86.9 386.5v1.1M78.3 393.1v1.1M82.6 394.2v1.1M76.9 385.6v1.1M83.5 398.0v1.1M79.9 383.1v1.1M82.0 395.9v1.1M87.5 385.2v1.1M81.6 383.3v1.1M81.0 386.7v1.1M84.4 394.8v1.1M89.7 389.0v1.1M85.5 391.3v1.1M83.6 397.9v1.1M85.2 396.4v1.1M84.1 393.8v1.1M84.6 390.1v1.1M81.4 388.9v1.1M83.3 388.9v1.1M82.3 387.7v1.1M85.6 389.5v1.1M82.9 389.6v1.1M86.8 388.3v1.1M87.1 387.1v1.1M87.4 392.8v1.1M81.9 392.2v1.1M86.3 386.7v1.1M82.6 391.6v1.1M82.7 389.3v1.1M83.3 391.6v1.1M85.4 396.1v1.1M82.4 401.7v1.1M82.4 397.3v1.1M82.9 384.8v1.1M82.1 389.1v1.1M86.1 382.6v1.1M81.5 389.9v1.1M85.0 391.9v1.1M85.6 389.8v1.1M82.6 395.1v1.1M87.9 391.9v1.1M83.7 387.1v1.1M88.9 392.0v1.1M84.9 384.2v1.1M84.9 399.8v1.1M82.8 389.6v1.1M87.4 389.7v1.1M85.5 397.9v1.1M80.1 387.2v1.1M85.1 390.9v1.1M83.4 389.8v1.1M83.6 391.8v1.1M82.0 389.3v1.1M83.9 386.2v1.1M84.5 382.0v1.1M85.0 390.0v1.1M80.1 395.6v1.1M80.1 398.4v1.1M81.3 395.1v1.1M83.1 396.6v1.1M82.7 394.4v1.1M82.4 383.2v1.1M84.3 392.3v1.1M84.3 396.9v1.1M81.3 384.9v1.1M83.9 387.7v1.1M83.0 390.4v1.1M81.1 394.6v1.1M82.9 397.3v1.1M83.9 394.5v1.1M82.5 387.9v1.1M81.8 387.0v1.1M84.5 391.0v1.1M80.4 384.5v1.1M81.0 383.4v1.1M80.9 384.6v1.1M85.2 385.9v1.1M81.7 389.9v1.1M83.3 392.0v1.1M85.3 392.9v1.1M82.3 395.2v1.1M84.3 387.7v1.1M87.3 385.8v1.1M84.5 395.3v1.1M83.6 391.8v1.1M83.6 393.0v1.1M83.9 390.4v1.1M85.2 383.1v1.1M83.9 389.2v1.1M88.5 391.5v1.1M81.5 392.9v1.1M82.2 385.8v1.1M82.5 392.4v1.1M86.4 394.5v1.1M83.9 389.8v1.1M83.8 395.1v1.1M82.9 394.9v1.1M81.1 390.4v1.1M85.3 393.1v1.1M83.8 388.4v1.1M78.5 388.7v1.1M81.0 388.9v1.1M87.5 387.4v1.1M85.5 390.3v1.1M80.3 390.8v1.1M85.3 385.8v1.1M80.2 388.9v1.1M85.2 388.1v1.1M84.4 392.2v1.1M83.3 392.1v1.1M86.6 389.7v1.1M84.1 386.3v1.1M81.3 390.0v1.1M85.4 387.8v1.1M79.6 394.0v1.1M89.6 380.5v1.1M80.4 390.9v1.1M84.6 386.8v1.1M84.2 394.6v1.1M82.5 393.2v1.1M83.6 386.8v1.1M81.6 388.1v1.1M86.8 394.9v1.1M83.9 384.4v1.1M82.0 388.9v1.1M78.1 390.3v1.1M84.0 385.3v1.1M82.1 388.7v1.1M88.2 393.0v1.1M85.3 390.7v1.1M79.9 394.0v1.1M81.5 383.0v1.1M85.2 389.1v1.1M83.3 392.4v1.1M82.6 392.0v1.1M86.7 389.2v1.1M82.3 390.5v1.1M85.0 388.9v1.1M83.5 387.8v1.1M83.1 392.5v1.1M81.1 389.7v1.1M79.4 387.7v1.1M83.5 392.4v1.1M80.5 390.0v1.1M80.8 391.6v1.1M84.0 392.1v1.1M82.7 384.9v1.1M81.8 385.3v1.1M81.5 390.2v1.1M86.1 387.9v1.1M81.2 391.2v1.1M77.8 398.1v1.1M79.2 394.3v1.1M85.8 394.1v1.1M83.0 393.2v1.1M82.4 394.1v1.1M81.5 387.3v1.1M84.3 388.7v1.1M85.0 387.1v1.1M84.0 386.6v1.1M83.0 398.7v1.1M80.4 385.7v1.1M79.0 389.5v1.1M87.5 388.7v1.1M85.7 389.7v1.1M81.6 398.1v1.1M86.1 383.3v1.1M80.7 392.0v1.1M85.0 389.5v1.1M84.1 392.5v1.1M82.3 394.2v1.1M81.0 393.3v1.1M85.7 391.2v1.1M82.4 390.3v1.1M77.4 391.4v1.1M79.5 382.7v1.1M85.3 386.9v1.1M84.2 390.6v1.1M78.6 386.9v1.1M82.5 392.2v1.1M83.4 385.6v1.1M81.9 390.8v1.1M79.9 388.7v1.1M81.8 382.2v1.1M87.8 393.8v1.1M82.0 394.0v1.1M80.5 396.3v1.1M82.3 390.9v1.1M81.7 390.8v1.1M84.1 390.5v1.1M81.1 393.3v1.1M84.7 390.4v1.1M86.0 387.6v1.1M86.6 389.8v1.1M87.2 388.7v1.1M82.6 391.2v1.1M86.1 395.9v1.1M82.1 387.6v1.1M85.3 395.2v1.1M85.1 389.1v1.1M86.6 390.3v1.1M83.7 392.8v1.1M81.8 381.7v1.1M83.8 393.2v1.1M84.4 392.5v1.1M83.7 394.4v1.1M83.6 396.1v1.1M83.4 393.5v1.1M81.8 391.6v1.1M84.4 390.9v1.1M87.3 390.6v1.1M86.2 391.8v1.1M86.1 386.9v1.1M82.3 394.1v1.1M81.1 391.9v1.1M84.7 391.2v1.1M84.4 392.5v1.1M82.6 392.0v1.1M81.9 388.7v1.1M79.1 390.0v1.1M78.8 390.5v1.1M83.8 386.2v1.1M83.4 391.5v1.1M82.3 386.9v1.1M83.0 392.0v1.1M85.7 397.8v1.1M78.1 391.7v1.1M84.4 388.0v1.1M84.1 398.4v1.1M83.6 395.6v1.1M86.0 388.7v1.1M77.2 394.9v1.1M87.3 383.6v1.1M82.7 387.7v1.1M83.8 390.6v1.1M86.2 388.1v1.1M88.3 383.8v1.1M83.8 400.7v1.1M83.0 392.8v1.1M85.6 389.1v1.1M78.3 391.2v1.1M85.2 382.6v1.1M82.0 392.6v1.1M77.0 389.7v1.1M79.1 385.2v1.1M84.3 394.8v1.1M86.3 387.9v1.1M84.6 383.6v1.1M79.4 392.5v1.1M82.2 386.5v1.1M78.4 389.5v1.1M89.1 382.6v1.1M80.5 394.7v1.1M78.2 388.0v1.1M83.4 394.8v1.1M83.1 397.4v1.1M83.2 390.0v1.1M84.4 391.8v1.1M79.3 386.7v1.1M82.7 391.3v1.1M79.7 386.5v1.1M81.1 391.2v1.1M82.1 392.4v1.1M84.7 385.5v1.1M82.5 384.0v1.1M83.8 393.4v1.1M80.4 381.6v1.1M85.1 388.4v1.1M83.4 391.8v1.1M84.6 393.9v1.1M82.0 379.7v1.1M81.9 388.3v1.1M82.2 391.5v1.1M82.7 395.6v1.1M81.5 389.7v1.1M82.3 399.4v1.1M80.5 385.1v1.1M82.3 393.2v1.1M83.5 388.9v1.1M78.9 380.2v1.1M82.8 388.6v1.1M88.9 391.4v1.1M84.8 394.1v1.1M80.7 384.1v1.1M82.3 396.5v1.1M86.5 387.0v1.1M79.6 393.9v1.1M86.9 384.7v1.1M88.5 386.2v1.1M85.8 388.8v1.1M82.4 386.9v1.1M85.6 392.5v1.1M86.0 388.4v1.1M80.8 399.5v1.1M88.8 388.8v1.1M79.9 396.5v1.1M83.9 390.0v1.1M86.1 391.3v1.1M83.8 398.8v1.1M77.5 392.6v1.1M80.4 390.0v1.1M82.9 390.9v1.1M75.9 392.9v1.1M90.7 387.8v1.1M86.3 392.6v1.1M84.4 387.4v1.1M85.4 390.9v1.1M88.0 393.5v1.1M81.2 376.3v1.1M88.2 391.9v1.1M84.0 386.9v1.1M91.3 395.8v1.1M83.8 388.0v1.1M85.3 395.9v1.1M85.1 394.0v1.1M84.3 391.3v1.1M79.5 390.3v1.1M83.6 389.4v1.1M82.7 391.1v1.1M81.6 388.8v1.1M79.3 400.3v1.1M80.6 384.2v1.1M81.8 387.8v1.1M80.1 378.5v1.1M88.6 394.4v1.1M82.3 392.3v1.1M79.9 382.3v1.1M84.5 392.3v1.1M81.3 389.7v1.1M73.7 389.1v1.1M86.8 390.5v1.1M84.0 392.4v1.1M76.9 383.8v1.1M79.4 390.8v1.1M81.5 381.1v1.1M86.3 388.8v1.1M86.6 398.9v1.1M78.2 383.9v1.1M86.9 396.2v1.1" stroke="#000" stroke-width="0.70" stroke-opacity="0.45" fill="none" filter="url(#bl)"/>
<path d="M84.4 372.4v1.1M85.0 374.9v1.1M81.3 375.6v1.1M85.5 365.9v1.1M81.9 365.2v1.1M82.5 373.8v1.1M85.1 369.5v1.1M83.1 354.3v1.1M82.8 360.9v1.1M82.6 372.2v1.1M84.0 399.0v1.1M82.0 364.8v1.1M81.5 367.1v1.1M83.1 377.8v1.1M80.0 377.0v1.1M84.9 364.9v1.1M82.4 371.0v1.1M84.6 368.0v1.1M83.4 369.5v1.1M81.6 371.6v1.1M84.7 369.7v1.1M81.5 369.3v1.1M83.4 372.0v1.1M82.9 376.3v1.1M85.7 376.3v1.1M84.1 379.6v1.1M83.6 367.9v1.1M80.9 369.5v1.1M85.9 361.3v1.1M85.1 358.6v1.1M84.2 384.7v1.1M83.7 359.5v1.1M84.2 368.1v1.1M85.1 364.9v1.1M80.4 365.3v1.1M84.8 377.9v1.1M84.2 369.5v1.1M84.9 367.7v1.1M82.8 371.2v1.1M85.7 365.1v1.1M84.6 364.0v1.1M82.3 370.8v1.1M81.1 362.2v1.1M81.4 364.3v1.1M81.9 388.8v1.1M84.8 369.9v1.1M84.5 364.1v1.1M85.6 366.0v1.1M81.2 364.0v1.1M80.8 357.5v1.1M85.0 364.9v1.1M84.9 364.7v1.1M83.2 364.7v1.1M82.6 363.8v1.1M86.5 368.9v1.1M80.0 383.4v1.1M86.0 378.7v1.1M83.4 368.0v1.1M82.7 370.4v1.1M84.3 380.8v1.1M82.1 377.5v1.1M86.4 386.6v1.1M81.4 378.6v1.1M83.5 382.8v1.1M83.3 381.6v1.1M84.1 384.7v1.1M81.3 384.6v1.1M84.3 382.7v1.1M81.0 380.0v1.1M83.1 383.0v1.1M84.7 383.2v1.1M81.3 385.1v1.1M83.6 384.0v1.1M83.5 378.4v1.1M88.0 383.0v1.1M84.8 379.2v1.1M83.2 384.6v1.1M84.3 386.8v1.1M85.6 377.2v1.1M80.9 384.8v1.1M84.5 379.9v1.1M83.0 378.9v1.1M86.6 380.3v1.1M81.2 383.9v1.1M83.4 382.0v1.1M82.9 380.7v1.1M80.3 382.6v1.1M82.4 379.5v1.1M84.1 385.1v1.1M79.9 380.4v1.1M84.5 384.3v1.1M82.0 381.9v1.1M84.2 384.0v1.1M82.5 380.2v1.1M82.7 384.7v1.1" stroke="#000" stroke-width="0.70" stroke-opacity="0.32" fill="none" filter="url(#bl)"/>
<rect x="74.50" y="352.60" width="20.50" height="29.90" fill="none" stroke="#000" stroke-width="0.95"/>
<text x="61.10" y="369.60" font-size="8.30" textLength="9.90" lengthAdjust="spacingAndGlyphs" class="n">7.3</text>
<ellipse cx="83.2" cy="443.3" rx="2.8" ry="4.5" fill="#000" fill-opacity="0.85" filter="url(#bl2)"/>
<ellipse cx="83.2" cy="443.2" rx="5.9" ry="8.6" fill="url(#cg)" fill-opacity="0.99"/>
<ellipse cx="83.7" cy="422.1" rx="4.2" ry="18.7" fill="url(#cg)" fill-opacity="0.74"/>
<path d="M86.1 441.1v1.1M82.8 443.5v1.1M80.8 442.3v1.1M85.5 445.6v1.1M81.4 440.3v1.1M82.9 437.2v1.1M84.0 443.2v1.1M79.6 441.9v1.1M81.4 441.7v1.1M80.9 447.8v1.1M80.6 445.6v1.1M83.8 448.1v1.1M83.0 442.7v1.1M83.4 435.7v1.1M89.7 441.9v1.1M82.4 438.5v1.1M82.8 448.8v1.1M81.2 444.4v1.1M86.0 446.3v1.1M82.1 436.2v1.1M84.3 444.9v1.1M82.3 441.1v1.1M87.9 436.8v1.1M81.8 440.5v1.1M79.0 440.2v1.1M81.1 447.4v1.1M78.5 437.6v1.1M83.9 437.0v1.1M77.8 440.4v1.1M80.0 439.1v1.1M82.8 444.4v1.1M81.5 441.7v1.1M85.1 442.2v1.1M85.2 440.6v1.1M84.5 447.5v1.1M79.5 453.9v1.1M82.3 441.5v1.1M82.8 444.5v1.1M79.9 442.9v1.1M81.6 448.0v1.1M78.5 445.2v1.1M82.4 440.0v1.1M83.6 441.9v1.1M83.3 443.6v1.1M86.4 441.3v1.1M87.7 432.8v1.1M88.1 447.2v1.1M87.4 443.5v1.1M84.0 439.0v1.1M86.8 438.5v1.1M81.1 442.7v1.1M83.8 444.0v1.1M80.1 441.5v1.1M84.5 447.1v1.1M85.3 444.3v1.1M82.5 440.7v1.1M81.8 442.4v1.1M84.6 440.9v1.1M88.7 439.1v1.1M85.4 442.0v1.1M82.8 441.3v1.1M87.3 441.7v1.1M84.7 443.2v1.1M85.2 444.9v1.1M87.6 440.1v1.1M81.0 449.0v1.1M86.6 443.0v1.1M82.4 443.7v1.1M86.7 439.9v1.1M87.1 442.5v1.1M82.2 441.3v1.1M77.6 443.9v1.1M79.7 440.7v1.1M80.8 443.6v1.1M85.1 442.9v1.1M83.7 444.3v1.1M87.5 444.9v1.1M87.4 442.5v1.1M84.1 440.4v1.1M84.8 439.6v1.1M84.5 440.4v1.1M82.2 447.2v1.1M83.6 445.7v1.1M82.6 435.9v1.1M87.2 442.1v1.1M81.5 446.2v1.1M80.1 440.0v1.1M86.3 440.2v1.1M86.2 441.6v1.1M82.6 443.0v1.1M81.9 446.7v1.1M86.1 443.0v1.1M84.8 444.7v1.1M87.7 436.9v1.1M86.0 446.1v1.1M82.4 442.8v1.1M82.3 447.3v1.1M80.1 445.0v1.1M86.7 444.9v1.1M81.9 441.1v1.1M77.5 439.0v1.1M86.1 439.3v1.1M78.8 441.9v1.1M79.2 444.4v1.1M80.9 446.3v1.1M82.9 437.6v1.1M81.1 440.4v1.1M80.9 447.3v1.1M80.5 444.1v1.1M81.6 444.9v1.1M79.4 437.0v1.1M84.6 448.0v1.1M79.5 441.6v1.1M81.8 439.3v1.1M85.8 442.9v1.1M79.5 442.0v1.1M86.8 440.2v1.1M81.8 439.7v1.1M83.6 440.7v1.1M85.6 439.7v1.1M79.3 444.4v1.1M74.7 439.3v1.1M84.0 443.7v1.1M81.6 441.1v1.1M81.0 442.1v1.1M82.0 444.8v1.1M83.2 444.8v1.1M87.6 441.8v1.1M82.4 444.1v1.1M88.9 441.4v1.1M87.8 447.1v1.1M75.8 439.1v1.1M80.6 444.2v1.1M86.8 443.0v1.1M83.6 450.7v1.1M84.2 450.7v1.1M80.8 448.8v1.1M81.8 433.9v1.1M81.0 441.0v1.1M83.1 445.5v1.1M85.1 444.7v1.1M81.2 449.3v1.1M86.4 442.9v1.1M81.7 442.6v1.1M82.6 440.2v1.1M83.2 440.3v1.1M84.9 440.4v1.1M84.5 443.9v1.1M83.7 444.7v1.1M80.4 452.2v1.1M81.3 445.5v1.1M83.3 441.2v1.1M87.9 446.8v1.1M82.5 444.8v1.1M85.1 448.6v1.1M85.9 442.1v1.1M82.5 438.5v1.1M83.9 445.9v1.1M82.2 445.2v1.1M83.6 441.1v1.1M79.9 446.9v1.1M90.0 444.8v1.1M80.3 439.0v1.1M83.9 445.2v1.1M87.3 433.9v1.1M88.2 443.4v1.1M83.6 444.2v1.1M82.3 441.7v1.1M86.1 436.4v1.1M82.9 444.8v1.1M78.8 442.2v1.1M87.3 444.1v1.1M85.1 445.4v1.1M83.8 444.1v1.1M81.0 442.0v1.1M88.2 438.2v1.1M82.8 438.1v1.1M81.8 439.9v1.1M79.9 443.7v1.1M80.7 444.7v1.1M88.1 433.3v1.1M82.8 435.0v1.1M82.9 444.1v1.1M83.8 447.2v1.1M83.7 436.4v1.1M87.3 439.3v1.1M83.0 444.0v1.1M80.8 443.1v1.1M87.3 436.5v1.1M78.7 441.1v1.1M82.8 438.0v1.1M77.0 446.1v1.1M84.3 437.8v1.1M84.8 442.5v1.1M83.7 437.8v1.1M82.6 444.5v1.1M78.5 438.9v1.1M85.8 450.1v1.1M85.0 442.5v1.1M80.3 441.2v1.1M82.6 444.4v1.1M82.5 451.9v1.1M86.8 434.6v1.1M80.1 442.7v1.1M85.9 444.3v1.1M75.8 436.6v1.1M86.9 444.9v1.1M90.2 445.7v1.1M84.5 448.4v1.1M82.0 440.7v1.1M80.5 443.7v1.1M84.4 446.2v1.1M87.2 445.1v1.1M86.6 441.8v1.1M80.6 445.5v1.1M86.0 447.7v1.1M82.8 441.0v1.1M82.3 444.1v1.1M83.1 442.1v1.1M83.9 441.7v1.1M84.2 440.5v1.1M79.1 441.6v1.1M88.4 439.7v1.1M85.7 447.8v1.1M81.8 443.7v1.1M77.1 444.9v1.1M87.4 443.4v1.1M77.9 440.6v1.1M81.2 443.2v1.1M84.0 441.2v1.1M82.4 439.7v1.1M84.8 443.5v1.1M84.2 440.9v1.1M84.6 441.6v1.1M84.0 442.1v1.1M81.4 438.6v1.1M78.2 437.6v1.1M84.5 454.9v1.1M78.8 439.7v1.1M82.7 438.4v1.1M84.4 450.5v1.1M75.7 438.4v1.1M86.6 438.4v1.1M83.0 440.4v1.1M85.3 437.3v1.1M84.1 443.6v1.1M84.8 444.3v1.1M83.7 436.1v1.1M82.4 439.2v1.1M84.7 441.9v1.1M83.7 446.9v1.1M83.0 449.1v1.1M85.5 437.2v1.1M81.7 447.3v1.1M81.9 447.2v1.1M81.7 442.3v1.1M86.0 436.8v1.1M83.5 441.0v1.1M83.7 449.2v1.1M84.6 437.6v1.1M85.8 441.0v1.1M83.7 447.1v1.1M82.4 446.3v1.1M83.7 439.3v1.1M82.4 437.6v1.1M86.4 443.3v1.1M85.9 438.5v1.1M85.5 438.2v1.1M84.0 442.7v1.1M81.7 443.9v1.1M83.3 439.4v1.1M81.2 437.8v1.1M87.0 443.3v1.1M82.3 445.3v1.1M80.9 438.3v1.1M84.2 448.7v1.1M84.1 443.3v1.1M88.0 436.9v1.1M91.5 438.6v1.1M83.1 437.6v1.1M80.0 441.8v1.1M89.9 439.2v1.1M81.6 443.7v1.1M80.5 441.7v1.1M85.5 434.5v1.1M82.4 441.6v1.1M81.9 442.3v1.1M78.4 441.0v1.1M81.8 438.8v1.1M86.7 450.3v1.1M85.4 439.4v1.1M87.1 444.6v1.1M81.0 445.0v1.1M81.7 444.9v1.1M85.7 447.1v1.1M80.4 442.2v1.1M83.3 438.1v1.1M84.4 445.3v1.1M79.5 440.6v1.1M80.3 437.9v1.1M80.4 447.9v1.1M81.5 441.2v1.1M85.9 446.6v1.1M87.0 434.9v1.1M85.3 436.1v1.1M81.5 441.1v1.1M81.7 450.1v1.1M82.8 447.1v1.1M82.8 442.5v1.1M84.6 444.4v1.1M84.6 436.1v1.1M84.6 443.9v1.1M84.9 442.5v1.1M84.4 437.8v1.1M86.3 438.1v1.1M87.0 446.5v1.1M83.1 441.6v1.1M85.3 441.5v1.1M80.0 443.8v1.1M80.0 441.0v1.1M88.1 445.8v1.1M82.0 442.4v1.1M81.5 442.7v1.1M79.3 445.3v1.1M83.3 440.4v1.1M81.6 452.7v1.1M82.1 440.9v1.1M81.7 440.8v1.1M86.8 445.3v1.1M84.4 444.1v1.1M80.2 433.6v1.1M87.3 445.4v1.1M83.8 443.8v1.1M83.8 442.8v1.1M82.5 434.3v1.1M84.8 442.9v1.1M85.9 443.9v1.1M82.5 445.0v1.1M83.8 441.0v1.1M82.2 441.1v1.1M82.4 441.0v1.1M85.9 453.8v1.1M82.9 446.9v1.1M77.9 430.4v1.1M82.0 442.1v1.1M81.2 437.5v1.1M81.0 440.8v1.1M83.7 441.4v1.1M80.0 441.3v1.1M87.3 439.4v1.1M83.4 446.5v1.1M81.1 440.5v1.1M91.1 447.4v1.1M81.8 443.3v1.1M83.5 443.3v1.1M84.5 441.6v1.1M77.3 439.1v1.1M83.7 437.5v1.1M82.4 448.4v1.1M83.9 440.2v1.1M83.6 446.7v1.1M78.6 438.0v1.1M81.5 441.0v1.1M83.0 440.5v1.1M83.5 443.0v1.1M80.1 440.3v1.1M79.9 443.8v1.1M84.0 445.2v1.1M80.9 440.7v1.1M77.3 442.7v1.1M78.9 444.0v1.1M86.2 444.4v1.1M84.9 443.6v1.1M84.3 446.3v1.1M86.7 450.4v1.1M82.5 445.9v1.1M85.6 444.3v1.1M84.0 437.9v1.1M86.2 439.4v1.1M81.5 439.5v1.1M84.8 439.0v1.1M84.5 444.8v1.1M83.5 441.4v1.1M84.9 447.7v1.1M82.0 438.7v1.1M81.6 439.4v1.1M82.6 442.1v1.1M77.0 448.2v1.1M81.1 441.1v1.1M78.0 435.2v1.1M80.5 443.6v1.1M85.5 435.8v1.1M83.8 448.4v1.1M82.5 446.2v1.1M84.1 439.2v1.1M85.9 440.4v1.1M84.2 441.2v1.1M82.7 443.3v1.1M86.8 436.3v1.1M80.2 443.1v1.1M85.9 442.0v1.1M82.7 444.7v1.1M87.5 439.3v1.1M78.9 441.6v1.1M85.3 437.7v1.1M86.3 446.2v1.1M85.4 439.5v1.1M79.8 445.2v1.1M84.0 445.3v1.1M79.6 431.5v1.1M86.3 446.5v1.1M82.5 442.7v1.1M84.5 445.5v1.1M82.7 440.8v1.1M80.6 446.6v1.1M83.5 429.8v1.1M84.2 440.5v1.1M79.8 440.8v1.1M79.8 441.0v1.1M81.8 444.6v1.1M80.5 435.8v1.1M81.6 437.5v1.1M85.2 441.9v1.1M78.7 439.4v1.1M83.2 442.5v1.1M78.3 442.2v1.1M84.0 446.4v1.1M86.2 442.2v1.1M79.7 441.3v1.1M85.0 439.2v1.1M86.6 439.1v1.1M80.2 445.8v1.1M83.0 443.9v1.1M82.4 442.8v1.1M81.7 449.9v1.1M85.0 442.2v1.1M84.5 445.8v1.1M81.8 443.4v1.1M84.1 439.5v1.1M81.0 441.1v1.1M82.5 440.2v1.1M77.2 442.3v1.1M85.5 442.3v1.1M88.9 445.8v1.1M82.3 439.0v1.1M85.0 440.3v1.1M78.3 442.5v1.1M82.5 441.0v1.1M85.4 442.9v1.1M89.9 438.7v1.1M83.1 443.4v1.1M82.0 439.7v1.1M89.0 435.5v1.1M84.6 434.2v1.1M84.5 433.5v1.1M79.7 447.0v1.1M88.4 442.6v1.1M74.8 446.5v1.1M84.2 437.1v1.1M82.3 436.1v1.1M83.1 441.6v1.1M83.8 445.5v1.1M81.4 432.2v1.1M79.7 436.4v1.1M82.3 440.1v1.1M83.3 448.1v1.1M83.5 437.2v1.1M82.5 438.1v1.1M82.7 444.6v1.1M79.8 445.1v1.1M89.1 448.8v1.1M88.6 442.4v1.1M79.1 450.9v1.1M83.3 443.0v1.1M82.3 437.8v1.1M85.4 435.8v1.1M79.1 444.4v1.1M82.3 438.3v1.1M85.0 448.3v1.1M82.5 441.4v1.1M85.2 446.2v1.1M86.7 445.0v1.1M81.3 444.4v1.1M83.5 434.5v1.1M87.4 444.5v1.1M87.8 441.7v1.1M85.8 441.7v1.1M84.0 446.0v1.1M83.6 444.7v1.1M83.3 447.4v1.1M85.5 434.7v1.1M88.7 443.9v1.1M81.8 439.2v1.1M89.8 442.4v1.1M85.1 444.6v1.1M81.5 449.7v1.1M90.1 438.6v1.1M87.1 434.8v1.1M82.4 442.3v1.1M83.6 444.5v1.1M84.7 443.6v1.1M83.0 443.3v1.1M81.7 450.7v1.1M83.6 447.5v1.1M83.8 441.3v1.1M82.9 436.3v1.1M90.1 443.8v1.1M83.9 440.0v1.1M87.5 440.5v1.1M82.0 439.6v1.1M88.4 443.4v1.1M83.0 439.2v1.1M87.5 443.3v1.1M82.4 446.0v1.1M86.2 437.6v1.1M87.1 446.8v1.1M82.7 436.1v1.1M86.9 440.5v1.1" stroke="#000" stroke-width="0.70" stroke-opacity="0.45" fill="none" filter="url(#bl)"/>
<path d="M83.3 419.3v1.1M83.1 428.4v1.1M81.6 425.9v1.1M85.8 430.2v1.1M85.0 423.8v1.1M83.3 420.6v1.1M82.0 435.2v1.1M83.4 413.4v1.1M85.2 433.9v1.1M84.2 419.0v1.1M81.6 426.9v1.1M83.2 416.2v1.1M84.8 411.1v1.1M82.5 410.0v1.1M83.2 428.1v1.1M81.2 432.7v1.1M82.4 417.7v1.1M85.5 415.7v1.1M86.4 420.0v1.1M83.5 413.8v1.1M85.8 421.1v1.1M82.8 413.9v1.1M82.5 420.8v1.1M82.3 428.1v1.1M83.6 416.6v1.1M84.5 433.2v1.1M79.8 424.5v1.1M85.7 422.7v1.1M85.2 409.2v1.1M82.3 429.8v1.1M83.5 422.1v1.1M84.8 424.6v1.1M84.5 417.6v1.1M83.1 432.2v1.1M82.8 410.0v1.1M83.0 428.8v1.1M87.0 422.8v1.1M82.5 426.5v1.1M84.2 431.2v1.1M84.6 427.7v1.1M84.6 425.0v1.1M82.0 420.3v1.1M86.7 432.4v1.1M85.5 424.8v1.1M83.5 424.4v1.1M83.1 430.4v1.1M83.1 415.5v1.1M80.7 434.2v1.1M82.3 414.7v1.1M84.4 436.1v1.1M84.9 418.9v1.1M84.7 415.0v1.1M83.2 421.9v1.1M83.7 427.9v1.1M84.7 436.8v1.1M85.2 419.3v1.1M84.2 414.8v1.1M82.6 418.9v1.1M85.6 416.1v1.1M80.8 413.5v1.1M81.5 420.1v1.1M83.1 412.2v1.1M82.2 418.3v1.1M84.4 426.5v1.1M86.1 419.6v1.1M84.9 422.2v1.1M81.7 416.5v1.1M87.7 420.3v1.1M86.8 428.3v1.1M86.8 420.1v1.1M85.4 419.2v1.1M81.7 412.2v1.1M84.5 408.7v1.1M84.4 414.6v1.1M84.4 410.6v1.1M85.3 419.8v1.1M80.9 410.1v1.1M83.8 408.5v1.1M84.3 425.5v1.1M82.5 432.8v1.1M86.4 424.1v1.1M84.6 425.4v1.1M83.2 432.2v1.1M83.8 425.2v1.1M85.2 412.8v1.1M86.3 415.0v1.1M84.9 427.5v1.1M84.0 430.7v1.1M82.8 438.1v1.1M84.6 418.2v1.1M88.5 421.6v1.1M80.7 433.0v1.1M86.6 417.0v1.1M81.9 430.7v1.1M83.8 413.9v1.1M82.8 422.2v1.1M85.5 434.2v1.1M82.6 433.9v1.1M80.9 427.4v1.1M83.5 425.1v1.1M82.9 415.9v1.1M84.2 430.7v1.1M79.7 422.0v1.1M83.0 413.0v1.1M81.3 425.8v1.1M84.7 426.8v1.1M80.1 409.4v1.1M82.6 418.1v1.1M87.0 418.5v1.1M84.0 429.6v1.1M86.8 424.6v1.1M84.4 437.2v1.1M83.0 407.2v1.1M82.3 419.1v1.1M86.1 424.2v1.1M85.9 422.4v1.1M83.8 417.0v1.1M81.5 425.7v1.1M84.4 426.2v1.1M82.7 418.2v1.1M84.4 426.5v1.1M87.4 414.6v1.1M85.5 428.7v1.1M83.2 422.7v1.1M83.6 433.9v1.1M88.4 424.2v1.1M83.3 429.3v1.1M84.6 420.1v1.1M85.1 428.6v1.1M83.0 428.5v1.1M79.6 411.3v1.1M83.2 422.9v1.1M81.1 433.5v1.1M83.0 422.8v1.1M83.7 427.7v1.1M82.7 427.6v1.1M82.2 409.7v1.1M84.7 422.9v1.1M85.3 406.0v1.1M83.9 416.4v1.1M83.4 418.5v1.1M83.0 416.2v1.1M85.6 407.8v1.1M80.7 424.4v1.1M87.4 415.5v1.1M82.1 412.2v1.1M81.9 431.7v1.1M85.0 428.9v1.1M84.4 423.5v1.1M82.7 413.8v1.1M84.9 441.6v1.1M83.1 431.8v1.1M82.4 421.9v1.1M86.9 421.0v1.1M84.9 417.1v1.1M87.2 411.7v1.1M84.8 419.7v1.1M84.1 424.5v1.1M86.1 428.7v1.1M85.7 424.6v1.1M81.8 432.4v1.1M86.6 425.5v1.1M85.2 419.7v1.1M81.1 429.6v1.1M82.4 437.1v1.1M85.0 421.5v1.1M82.6 422.5v1.1M81.9 418.6v1.1M86.7 419.2v1.1M87.1 420.8v1.1M84.5 414.2v1.1M83.2 418.0v1.1M81.2 437.2v1.1M84.8 420.9v1.1M81.7 421.9v1.1M81.8 413.8v1.1M83.4 439.1v1.1M80.5 426.1v1.1M81.1 420.5v1.1M83.8 415.5v1.1M87.0 425.9v1.1M82.6 408.3v1.1M84.0 416.2v1.1M85.6 413.2v1.1M85.9 417.9v1.1M84.1 419.4v1.1M84.9 430.9v1.1M82.7 414.3v1.1M87.2 429.3v1.1M87.2 429.4v1.1M84.0 434.8v1.1M82.5 418.2v1.1M83.0 427.2v1.1M82.1 420.2v1.1M82.2 419.7v1.1M85.8 430.6v1.1M83.3 442.3v1.1M82.4 425.3v1.1M81.5 431.7v1.1M80.7 445.3v1.1M83.5 423.8v1.1M86.0 421.9v1.1M82.5 416.7v1.1M82.0 426.1v1.1M82.8 425.8v1.1M80.9 418.1v1.1M87.5 424.6v1.1M83.5 431.2v1.1M84.2 434.1v1.1M81.6 427.8v1.1M81.8 427.1v1.1M88.2 434.0v1.1M82.1 425.0v1.1M84.6 415.8v1.1M84.2 413.0v1.1M85.5 429.0v1.1M83.4 427.2v1.1M88.1 420.3v1.1M80.3 424.3v1.1M82.9 415.3v1.1M85.4 429.8v1.1M84.8 434.9v1.1M82.5 418.2v1.1M78.7 424.4v1.1M83.3 422.1v1.1M81.9 423.5v1.1M85.7 416.5v1.1M84.7 420.4v1.1M83.4 422.6v1.1M86.5 425.9v1.1M85.0 422.8v1.1M79.7 429.3v1.1M83.7 422.4v1.1M82.8 409.1v1.1M86.5 436.5v1.1M86.6 406.7v1.1M84.7 412.0v1.1M83.4 417.4v1.1M82.5 415.4v1.1M82.8 427.9v1.1M86.7 429.2v1.1M83.7 420.4v1.1M83.2 421.5v1.1M82.5 420.2v1.1M85.3 419.8v1.1M82.2 420.6v1.1M83.9 421.0v1.1M83.2 427.3v1.1M83.6 413.4v1.1M84.7 415.8v1.1M85.1 428.3v1.1M84.6 424.1v1.1M81.2 420.0v1.1M83.9 426.8v1.1M81.6 420.4v1.1M80.8 423.1v1.1M83.8 422.6v1.1M86.8 427.6v1.1M83.3 416.9v1.1M82.9 428.0v1.1M85.4 417.5v1.1M83.5 418.1v1.1M85.0 423.2v1.1M82.3 414.4v1.1M86.1 410.2v1.1M87.5 417.2v1.1M85.3 426.2v1.1M85.2 430.9v1.1M82.8 421.5v1.1M85.5 426.2v1.1M82.3 415.5v1.1M81.0 423.7v1.1M82.7 409.0v1.1M82.6 424.3v1.1M84.0 419.8v1.1M84.0 426.9v1.1M81.5 415.0v1.1M85.5 427.6v1.1M81.1 415.7v1.1M86.4 427.7v1.1M83.4 429.9v1.1M86.2 433.1v1.1M81.1 411.1v1.1M82.7 421.2v1.1M83.0 423.6v1.1M86.5 430.6v1.1M85.5 421.6v1.1M86.8 425.3v1.1M84.1 421.5v1.1M80.3 439.1v1.1M83.6 428.9v1.1M87.9 420.1v1.1M81.5 429.9v1.1M84.1 413.9v1.1M85.5 421.7v1.1M81.8 424.7v1.1M81.7 429.5v1.1M87.8 424.2v1.1M84.1 421.0v1.1M85.3 421.9v1.1M85.6 433.2v1.1M85.3 413.8v1.1M84.9 419.5v1.1M84.3 429.5v1.1M82.4 423.3v1.1M86.4 414.9v1.1M83.3 427.5v1.1M83.3 429.9v1.1M81.8 409.5v1.1M84.4 420.5v1.1M84.3 429.4v1.1M85.7 418.8v1.1M83.0 405.9v1.1M81.9 433.9v1.1M83.9 428.2v1.1M84.9 433.0v1.1M85.4 431.9v1.1M85.2 429.4v1.1M80.5 430.4v1.1M84.8 434.5v1.1M80.4 433.6v1.1M84.7 438.7v1.1M84.9 434.8v1.1M80.9 434.4v1.1M80.3 432.1v1.1M83.0 429.9v1.1M81.9 432.6v1.1M84.6 431.0v1.1M84.1 435.5v1.1M83.5 439.5v1.1M83.1 430.7v1.1M80.4 436.7v1.1M84.7 432.5v1.1M84.1 432.7v1.1M85.0 433.1v1.1M84.0 432.9v1.1M82.1 425.7v1.1M84.5 429.0v1.1M84.2 435.2v1.1M86.7 430.6v1.1M83.8 436.3v1.1M82.5 431.2v1.1M84.3 440.0v1.1M85.4 436.3v1.1M82.0 435.3v1.1M85.5 428.9v1.1M83.6 432.5v1.1M84.7 427.3v1.1M84.8 433.1v1.1M83.1 426.1v1.1M80.1 431.3v1.1M84.7 434.5v1.1M84.8 427.5v1.1M83.9 437.6v1.1M81.0 435.3v1.1M82.4 434.9v1.1M83.7 427.7v1.1M81.8 437.3v1.1M83.4 437.2v1.1M84.1 436.1v1.1M82.9 433.8v1.1M83.0 436.1v1.1M82.6 436.8v1.1M86.2 429.1v1.1M83.3 434.9v1.1M86.6 436.9v1.1M83.7 427.4v1.1M85.0 431.2v1.1M83.9 434.4v1.1M81.2 436.6v1.1M85.1 435.0v1.1M84.6 434.3v1.1M81.2 431.4v1.1M84.9 432.0v1.1M83.6 434.3v1.1M83.7 434.0v1.1M84.4 433.1v1.1M81.7 432.2v1.1M85.2 430.9v1.1M84.4 434.1v1.1M82.1 423.8v1.1M83.5 430.5v1.1M82.5 436.2v1.1M82.3 434.3v1.1M83.8 433.8v1.1M86.9 426.6v1.1M85.2 432.6v1.1M83.1 430.9v1.1M83.6 433.3v1.1M82.0 438.5v1.1M82.3 432.7v1.1M81.4 433.6v1.1M84.2 436.7v1.1M85.2 431.5v1.1M86.3 432.8v1.1M86.2 438.8v1.1M82.9 429.6v1.1M84.5 437.9v1.1M84.2 436.7v1.1M84.6 436.0v1.1M85.8 432.1v1.1M81.2 432.7v1.1M82.2 429.2v1.1M83.3 435.5v1.1M80.5 428.1v1.1M84.9 430.2v1.1M82.9 437.6v1.1M85.5 434.3v1.1M84.5 424.1v1.1M84.5 434.4v1.1M81.2 433.7v1.1M84.3 432.7v1.1M84.9 436.0v1.1M83.7 432.3v1.1M81.6 436.9v1.1M82.6 434.2v1.1M86.1 435.7v1.1M81.4 432.8v1.1M82.4 427.7v1.1M82.2 435.0v1.1M84.1 432.4v1.1M83.9 429.3v1.1M82.3 432.6v1.1M84.9 432.1v1.1M83.3 434.2v1.1M86.0 428.9v1.1M84.5 433.7v1.1M83.5 433.9v1.1M80.2 433.2v1.1M83.2 429.0v1.1M85.0 432.7v1.1M83.0 435.6v1.1M82.0 430.7v1.1M85.0 436.0v1.1M87.0 431.6v1.1M81.1 428.2v1.1M81.6 433.5v1.1M83.2 430.9v1.1M81.9 430.8v1.1M83.0 437.0v1.1" stroke="#000" stroke-width="0.70" stroke-opacity="0.32" fill="none" filter="url(#bl)"/>
<rect x="74.50" y="405.20" width="20.50" height="30.60" fill="none" stroke="#000" stroke-width="0.95"/>
<text x="57.30" y="423.60" font-size="8.30" textLength="14.20" lengthAdjust="spacingAndGlyphs" class="n">26.0</text>
<ellipse cx="136.2" cy="391.0" rx="2.8" ry="4.5" fill="#000" fill-opacity="0.85" filter="url(#bl2)"/>
<ellipse cx="136.2" cy="390.9" rx="5.9" ry="8.6" fill="url(#cg)" fill-opacity="0.99"/>
<ellipse cx="136.7" cy="369.8" rx="4.2" ry="18.7" fill="url(#cg)" fill-opacity="0.18"/>
<path d="M137.9 395.4v1.1M138.5 393.2v1.1M139.4 392.1v1.1M140.4 394.6v1.1M141.1 391.2v1.1M134.2 399.6v1.1M135.5 392.3v1.1M135.3 387.9v1.1M137.4 386.3v1.1M135.9 395.6v1.1M136.6 393.4v1.1M138.0 391.8v1.1M136.6 392.7v1.1M133.7 392.5v1.1M133.4 387.6v1.1M134.7 385.5v1.1M131.0 391.8v1.1M137.6 392.8v1.1M142.2 391.0v1.1M138.3 387.7v1.1M138.2 386.2v1.1M141.5 386.9v1.1M135.2 393.2v1.1M130.4 395.3v1.1M133.7 391.1v1.1M138.9 391.0v1.1M138.8 388.6v1.1M137.9 382.4v1.1M140.3 388.0v1.1M134.0 390.5v1.1M140.8 387.8v1.1M136.2 389.1v1.1M133.8 385.6v1.1M137.8 393.0v1.1M134.3 391.2v1.1M137.5 391.8v1.1M135.8 390.6v1.1M137.0 386.5v1.1M135.9 393.3v1.1M134.8 395.2v1.1M135.6 386.4v1.1M135.5 385.4v1.1M137.9 384.6v1.1M136.3 389.5v1.1M135.5 392.0v1.1M137.0 388.4v1.1M138.4 388.8v1.1M138.7 395.3v1.1M137.3 393.8v1.1M132.7 392.5v1.1M132.3 389.8v1.1M138.1 380.6v1.1M134.2 387.6v1.1M133.8 390.5v1.1M138.0 386.2v1.1M134.6 383.6v1.1M134.4 382.7v1.1M132.3 392.1v1.1M138.6 387.4v1.1M137.2 387.6v1.1M139.1 396.8v1.1M129.7 387.2v1.1M134.6 388.7v1.1M140.4 396.2v1.1M136.2 392.7v1.1M132.0 389.3v1.1M135.5 389.9v1.1M137.0 384.7v1.1M133.5 398.3v1.1M131.6 390.6v1.1M138.2 392.2v1.1M136.4 384.5v1.1M135.0 384.7v1.1M141.5 391.7v1.1M138.2 391.2v1.1M135.2 394.7v1.1M138.6 392.7v1.1M137.8 393.1v1.1M135.5 392.0v1.1M136.5 389.5v1.1M138.0 398.3v1.1M130.9 395.7v1.1M135.1 394.8v1.1M133.5 389.7v1.1M139.0 390.1v1.1M137.2 386.0v1.1M133.2 396.5v1.1M136.7 390.1v1.1M132.6 386.6v1.1M133.5 390.2v1.1M135.9 388.2v1.1M134.5 390.8v1.1M139.4 385.2v1.1M132.5 394.5v1.1M132.5 388.9v1.1M136.6 397.1v1.1M130.8 379.7v1.1M136.0 394.3v1.1M136.6 387.4v1.1M136.8 382.8v1.1M138.4 395.8v1.1M135.7 393.4v1.1M133.4 395.8v1.1M134.5 387.5v1.1M134.2 383.9v1.1M138.0 397.8v1.1M132.4 389.7v1.1M137.4 388.3v1.1M132.1 391.6v1.1M138.9 390.8v1.1M133.4 389.3v1.1M131.1 390.2v1.1M139.5 394.5v1.1M136.0 392.0v1.1M134.9 390.9v1.1M134.7 391.0v1.1M134.9 391.1v1.1M138.1 390.3v1.1M132.8 392.2v1.1M135.6 388.6v1.1M137.8 387.3v1.1M138.7 392.5v1.1M134.4 387.8v1.1M135.9 387.1v1.1M138.8 382.1v1.1M136.6 389.1v1.1M133.3 392.7v1.1M135.0 392.1v1.1M135.1 389.4v1.1M137.6 393.9v1.1M138.9 390.3v1.1M140.2 389.2v1.1M132.6 383.5v1.1M132.4 387.2v1.1M131.5 391.6v1.1M136.3 390.3v1.1M136.9 390.0v1.1M135.6 389.2v1.1M136.4 386.3v1.1M139.6 396.1v1.1M136.3 398.8v1.1M133.7 393.7v1.1M131.9 392.6v1.1M134.3 394.1v1.1M136.6 393.9v1.1M137.9 392.3v1.1M135.5 396.3v1.1M137.2 392.2v1.1M140.1 389.5v1.1M140.9 394.4v1.1M136.5 385.1v1.1M139.5 389.3v1.1M136.5 390.9v1.1M138.8 392.7v1.1M131.4 388.0v1.1M137.2 391.0v1.1M138.4 392.5v1.1M140.6 387.7v1.1M139.7 391.8v1.1M137.1 392.9v1.1M135.4 393.0v1.1M135.7 393.1v1.1M134.2 394.7v1.1M132.2 388.0v1.1M136.1 391.3v1.1M134.1 388.9v1.1M136.9 394.3v1.1M139.7 388.7v1.1M136.1 389.3v1.1M132.2 388.8v1.1M139.3 385.4v1.1M143.8 394.0v1.1M140.9 391.1v1.1M130.2 392.0v1.1M140.5 388.3v1.1M139.6 393.2v1.1M138.3 393.2v1.1M137.8 392.8v1.1M139.4 392.0v1.1M137.9 392.0v1.1M136.6 387.2v1.1M131.5 386.7v1.1M133.0 385.0v1.1M138.1 389.2v1.1M139.6 401.9v1.1M138.3 388.7v1.1M137.3 389.7v1.1M137.0 398.1v1.1M140.5 395.1v1.1M137.0 397.0v1.1M138.5 393.7v1.1M133.2 388.1v1.1M136.7 389.6v1.1M134.9 383.0v1.1M134.3 390.0v1.1M137.1 386.4v1.1M135.9 397.1v1.1M136.7 383.2v1.1M135.8 390.4v1.1M139.6 391.1v1.1M139.9 391.6v1.1M139.4 395.4v1.1M140.4 391.1v1.1M133.0 391.2v1.1M137.5 387.8v1.1M138.5 389.8v1.1M138.4 391.1v1.1M133.8 394.3v1.1M141.6 393.8v1.1M137.0 384.0v1.1M137.1 390.3v1.1M134.2 383.3v1.1M137.5 394.0v1.1M138.2 398.9v1.1M131.2 391.7v1.1M136.2 395.7v1.1M136.2 386.8v1.1M136.1 392.0v1.1M134.3 387.5v1.1M137.0 393.7v1.1M135.7 392.2v1.1M134.9 389.2v1.1M136.8 394.0v1.1M140.5 390.0v1.1M137.5 397.7v1.1M138.5 389.1v1.1M137.4 385.1v1.1M130.7 387.6v1.1M134.4 385.4v1.1M139.0 388.7v1.1M136.5 390.7v1.1M135.7 386.1v1.1M141.4 383.1v1.1M136.2 393.0v1.1M135.7 390.0v1.1M137.1 391.3v1.1M135.4 394.4v1.1M137.6 396.0v1.1M136.5 383.0v1.1M131.9 388.5v1.1M137.5 384.4v1.1M134.8 395.1v1.1M137.2 387.8v1.1M136.0 390.8v1.1M135.2 389.3v1.1M134.6 391.2v1.1M140.5 395.8v1.1M133.0 399.0v1.1M136.0 385.2v1.1M132.4 391.0v1.1M136.9 388.0v1.1M134.2 389.6v1.1M137.0 392.9v1.1M137.8 381.6v1.1M134.7 391.4v1.1M137.3 393.4v1.1M132.4 396.2v1.1M133.2 389.7v1.1M135.1 388.7v1.1M134.3 393.5v1.1M138.4 391.7v1.1M132.9 388.1v1.1M136.1 391.9v1.1M134.8 389.4v1.1M143.2 390.7v1.1M135.5 381.3v1.1M134.3 396.5v1.1M138.5 386.0v1.1M138.4 391.1v1.1M134.2 393.4v1.1M134.7 389.3v1.1M136.4 391.2v1.1M135.1 391.5v1.1M136.3 391.2v1.1M137.3 388.1v1.1M132.7 390.2v1.1M139.5 391.7v1.1M136.9 387.7v1.1M133.3 385.8v1.1M133.9 389.0v1.1M132.3 390.0v1.1M132.2 392.8v1.1M136.2 383.9v1.1M134.9 391.3v1.1M137.3 393.3v1.1M135.4 389.9v1.1M135.7 392.4v1.1M134.5 389.8v1.1M136.7 389.1v1.1M133.5 395.5v1.1M137.6 387.0v1.1M141.4 387.6v1.1M134.0 389.1v1.1M137.7 396.0v1.1M139.9 392.5v1.1M136.5 392.9v1.1M134.2 387.8v1.1M137.7 391.2v1.1M136.9 386.7v1.1M136.9 385.1v1.1M138.7 390.5v1.1M134.6 388.7v1.1M143.6 402.0v1.1M134.5 395.5v1.1M128.7 394.6v1.1M136.3 391.4v1.1M133.8 385.6v1.1M136.9 388.8v1.1M137.6 394.4v1.1M136.0 392.4v1.1M136.8 391.3v1.1M134.9 391.3v1.1M137.4 390.7v1.1M135.1 385.0v1.1M133.5 396.2v1.1M138.9 391.5v1.1M137.1 389.9v1.1M138.1 394.0v1.1M135.7 391.6v1.1M138.8 384.6v1.1M133.9 388.3v1.1M133.3 388.8v1.1M134.1 389.0v1.1M137.5 386.1v1.1M136.6 395.6v1.1M136.8 385.9v1.1M134.7 394.8v1.1M135.6 388.1v1.1M138.3 387.8v1.1M133.4 392.7v1.1M136.4 388.0v1.1M137.5 394.5v1.1M139.1 390.8v1.1M137.5 392.3v1.1M132.4 396.6v1.1M134.6 388.4v1.1M134.2 386.9v1.1M139.2 390.5v1.1M134.8 383.6v1.1M136.7 390.2v1.1M133.6 390.1v1.1M131.5 392.8v1.1M133.1 392.3v1.1M136.6 382.5v1.1M133.4 388.0v1.1M138.4 392.6v1.1M137.9 396.6v1.1M135.6 388.5v1.1M131.4 386.6v1.1M137.8 387.3v1.1M134.0 394.0v1.1M129.9 395.6v1.1M139.7 383.8v1.1M137.5 390.4v1.1M138.7 389.2v1.1M136.0 395.7v1.1M134.8 392.0v1.1M137.9 390.0v1.1M138.6 392.4v1.1M138.5 384.1v1.1M133.6 391.5v1.1M139.3 395.8v1.1M136.3 387.7v1.1M133.5 383.2v1.1M135.0 392.6v1.1M136.1 385.0v1.1M136.0 390.6v1.1M134.4 395.8v1.1M137.4 394.5v1.1M136.6 386.8v1.1M139.1 394.5v1.1M134.8 385.5v1.1M138.4 388.3v1.1M133.3 390.1v1.1M137.7 387.6v1.1M136.4 394.1v1.1M138.2 384.7v1.1M138.2 397.0v1.1M138.7 390.1v1.1M137.3 384.6v1.1M134.8 388.5v1.1M141.7 390.4v1.1M133.8 396.7v1.1M139.5 384.3v1.1M135.8 384.2v1.1M139.0 382.0v1.1M141.1 386.5v1.1M133.6 398.3v1.1M137.7 391.8v1.1M138.5 386.8v1.1M138.6 389.4v1.1M137.7 391.3v1.1M139.9 385.7v1.1M132.7 392.9v1.1M142.4 392.5v1.1M135.9 392.9v1.1M133.2 390.8v1.1M132.0 390.9v1.1M138.2 396.8v1.1M135.0 393.9v1.1M139.8 386.5v1.1M135.6 383.5v1.1M134.0 392.1v1.1M131.1 389.3v1.1M138.2 395.8v1.1M129.8 391.9v1.1M134.7 381.9v1.1M133.7 392.6v1.1M136.3 393.1v1.1M135.5 392.9v1.1M133.8 386.8v1.1M135.9 383.9v1.1M139.5 389.5v1.1M133.8 387.2v1.1M133.8 390.9v1.1M135.4 393.7v1.1M133.3 390.2v1.1M132.4 388.7v1.1M139.8 390.0v1.1M138.6 390.2v1.1M133.5 387.2v1.1M133.4 391.7v1.1M136.9 401.4v1.1M140.6 393.6v1.1M133.8 390.9v1.1M134.0 399.2v1.1M134.4 394.8v1.1M132.8 393.3v1.1M133.1 388.7v1.1M136.7 391.0v1.1M136.1 390.2v1.1M134.1 390.0v1.1M136.1 386.9v1.1M137.8 391.1v1.1M134.4 395.3v1.1M134.8 383.3v1.1M139.6 389.0v1.1M140.1 392.1v1.1M134.0 394.6v1.1M137.9 393.8v1.1M136.6 396.6v1.1M139.3 388.3v1.1M131.9 389.5v1.1M136.7 385.4v1.1M135.9 396.4v1.1M135.1 394.7v1.1M133.6 385.4v1.1M139.4 389.0v1.1M137.2 394.3v1.1M141.5 384.3v1.1M138.3 390.7v1.1M136.9 397.7v1.1M135.8 387.1v1.1M138.0 380.8v1.1M137.6 385.8v1.1M137.5 386.5v1.1M138.1 388.6v1.1M134.3 392.1v1.1M138.8 382.6v1.1M132.6 388.6v1.1M135.3 395.6v1.1M141.3 391.8v1.1M139.8 388.3v1.1M132.3 391.1v1.1M131.1 397.0v1.1M137.3 394.9v1.1M134.5 382.6v1.1M135.9 391.9v1.1M135.8 387.5v1.1M136.7 388.9v1.1M140.8 383.9v1.1M129.7 389.3v1.1M137.3 382.9v1.1M136.4 391.7v1.1M137.5 391.1v1.1M134.2 383.3v1.1M139.4 388.2v1.1M132.3 396.6v1.1M138.8 377.3v1.1M144.4 390.4v1.1M131.6 394.0v1.1M137.5 395.2v1.1M136.5 382.4v1.1M136.0 387.8v1.1M137.4 388.9v1.1M138.2 384.3v1.1M134.8 387.4v1.1M137.8 382.2v1.1M136.5 400.3v1.1M131.0 394.3v1.1M136.8 394.1v1.1M136.6 390.9v1.1M137.6 391.8v1.1M132.8 389.1v1.1M142.1 396.0v1.1M133.9 385.5v1.1M136.0 394.4v1.1M139.3 387.1v1.1M129.2 389.5v1.1M131.4 395.0v1.1M141.0 392.7v1.1M138.3 392.2v1.1M142.1 394.6v1.1M140.9 384.6v1.1M134.9 389.7v1.1M129.7 388.5v1.1M136.4 389.4v1.1M144.2 388.8v1.1M135.9 389.2v1.1M135.4 383.4v1.1M139.9 389.8v1.1M137.6 389.9v1.1M134.1 382.6v1.1M135.6 392.1v1.1M136.1 393.0v1.1M134.1 388.4v1.1M136.9 389.3v1.1M137.0 396.1v1.1M135.2 390.3v1.1" stroke="#000" stroke-width="0.70" stroke-opacity="0.45" fill="none" filter="url(#bl)"/>
<path d="M135.5 373.8v1.1M137.1 363.3v1.1M134.8 359.5v1.1M136.1 370.6v1.1M135.8 368.4v1.1M136.9 388.6v1.1M138.8 388.4v1.1M136.9 371.1v1.1M140.2 372.5v1.1M137.9 365.2v1.1M135.7 375.7v1.1M135.6 363.9v1.1M133.9 371.8v1.1M136.5 373.8v1.1M135.1 359.2v1.1M138.7 369.5v1.1M138.1 359.9v1.1M137.2 377.5v1.1M139.1 383.9v1.1M133.3 360.4v1.1M135.7 362.8v1.1M136.3 362.8v1.1M134.0 369.0v1.1M136.9 363.0v1.1M136.7 358.7v1.1M136.1 366.6v1.1M135.8 368.7v1.1M134.3 358.3v1.1M135.1 375.4v1.1M134.9 361.6v1.1M140.3 367.2v1.1M136.0 362.1v1.1M139.3 373.6v1.1M137.1 382.4v1.1M134.5 355.5v1.1M138.7 372.9v1.1M135.7 375.9v1.1M136.5 385.4v1.1M134.3 372.3v1.1M138.4 376.6v1.1M136.0 366.0v1.1M135.9 375.0v1.1M135.9 368.2v1.1M138.5 368.4v1.1M137.1 368.3v1.1M134.9 372.3v1.1M135.5 364.2v1.1M136.7 388.1v1.1M135.3 361.5v1.1M133.4 373.1v1.1M136.5 362.4v1.1M135.9 377.4v1.1M138.5 372.3v1.1M138.8 377.6v1.1M135.8 375.9v1.1M136.9 375.6v1.1M137.2 386.9v1.1M134.4 372.3v1.1M134.7 388.4v1.1M135.7 366.3v1.1M136.6 368.9v1.1M139.8 368.9v1.1M137.1 378.1v1.1M139.4 361.4v1.1M137.2 358.4v1.1M137.6 381.0v1.1M135.7 367.0v1.1M138.8 372.9v1.1M138.1 365.5v1.1M136.1 366.3v1.1M139.5 357.0v1.1M135.7 382.2v1.1M136.5 360.3v1.1M136.9 380.1v1.1M136.3 382.5v1.1M137.8 375.7v1.1M136.9 385.9v1.1M134.4 380.5v1.1M134.6 383.1v1.1M135.2 379.7v1.1M135.9 382.4v1.1M134.4 376.0v1.1M136.9 385.4v1.1M135.7 382.2v1.1M137.0 381.2v1.1M136.5 378.9v1.1M136.1 384.9v1.1M137.3 385.2v1.1M135.4 381.2v1.1M135.5 376.3v1.1M138.0 379.8v1.1M136.9 376.0v1.1M136.1 380.4v1.1M135.9 384.3v1.1M137.3 381.3v1.1M136.9 379.3v1.1M135.4 379.8v1.1M134.9 380.2v1.1M136.4 384.6v1.1M135.8 389.1v1.1M135.7 381.3v1.1M136.5 378.7v1.1M136.4 374.8v1.1M138.4 378.8v1.1M136.5 374.6v1.1M137.5 376.4v1.1M138.8 377.2v1.1M135.3 383.1v1.1M138.6 374.0v1.1M133.8 386.3v1.1M137.3 375.6v1.1M135.8 383.2v1.1M135.9 386.0v1.1M135.4 381.4v1.1" stroke="#000" stroke-width="0.70" stroke-opacity="0.32" fill="none" filter="url(#bl)"/>
<rect x="127.50" y="352.60" width="20.50" height="29.90" fill="none" stroke="#000" stroke-width="0.95"/>
<text x="114.10" y="369.60" font-size="8.30" textLength="10.10" lengthAdjust="spacingAndGlyphs" class="n">8.6</text>
<ellipse cx="136.2" cy="443.3" rx="2.8" ry="4.5" fill="#000" fill-opacity="0.85" filter="url(#bl2)"/>
<ellipse cx="136.2" cy="443.2" rx="5.9" ry="8.6" fill="url(#cg)" fill-opacity="0.99"/>
<ellipse cx="136.7" cy="422.1" rx="4.2" ry="18.7" fill="url(#cg)" fill-opacity="0.10"/>
<path d="M139.2 448.4v1.1M136.9 444.9v1.1M135.4 442.4v1.1M134.7 444.2v1.1M138.4 438.9v1.1M133.2 442.9v1.1M141.4 443.6v1.1M136.6 442.5v1.1M131.9 440.0v1.1M140.1 434.7v1.1M140.9 438.1v1.1M141.5 452.7v1.1M140.1 442.2v1.1M137.8 440.6v1.1M135.1 443.5v1.1M128.1 444.8v1.1M135.4 438.5v1.1M135.5 445.2v1.1M134.2 444.1v1.1M132.7 443.1v1.1M133.2 445.6v1.1M133.5 445.1v1.1M131.1 443.4v1.1M139.1 439.5v1.1M136.4 439.4v1.1M137.5 445.6v1.1M139.2 447.8v1.1M139.6 439.9v1.1M136.5 444.7v1.1M136.7 437.7v1.1M141.5 452.5v1.1M136.4 432.7v1.1M141.0 442.0v1.1M142.1 438.7v1.1M137.6 445.7v1.1M132.5 441.4v1.1M137.5 445.2v1.1M137.2 432.6v1.1M130.1 444.1v1.1M140.4 436.8v1.1M137.2 446.3v1.1M133.7 436.6v1.1M136.9 441.0v1.1M136.0 441.9v1.1M135.9 443.9v1.1M134.9 442.6v1.1M134.8 439.3v1.1M137.1 439.5v1.1M137.6 442.6v1.1M139.0 445.0v1.1M131.0 442.6v1.1M137.9 443.1v1.1M136.3 446.9v1.1M138.0 437.5v1.1M136.5 446.6v1.1M136.6 437.8v1.1M138.2 445.0v1.1M139.2 443.4v1.1M136.5 446.0v1.1M133.4 449.3v1.1M137.3 443.5v1.1M138.2 445.7v1.1M130.5 446.3v1.1M135.9 439.6v1.1M138.6 446.3v1.1M137.2 440.3v1.1M136.5 439.0v1.1M142.7 440.1v1.1M138.5 449.0v1.1M134.0 440.6v1.1M130.4 441.7v1.1M132.8 443.3v1.1M135.6 442.7v1.1M136.3 440.9v1.1M136.5 442.4v1.1M134.4 441.5v1.1M134.7 437.7v1.1M136.1 435.5v1.1M137.6 442.6v1.1M136.6 447.2v1.1M138.7 441.0v1.1M137.1 447.3v1.1M135.8 444.1v1.1M137.3 438.7v1.1M136.9 441.2v1.1M135.5 444.4v1.1M137.9 439.2v1.1M135.6 441.9v1.1M133.8 444.1v1.1M135.7 440.0v1.1M138.7 442.4v1.1M133.2 442.3v1.1M135.7 443.8v1.1M142.0 444.8v1.1M139.9 442.0v1.1M137.4 444.6v1.1M135.9 443.6v1.1M135.0 445.4v1.1M133.9 449.3v1.1M126.6 437.3v1.1M135.9 444.1v1.1M136.6 436.4v1.1M137.3 439.3v1.1M136.7 441.1v1.1M135.5 436.8v1.1M132.8 440.5v1.1M133.5 443.6v1.1M132.6 443.5v1.1M137.6 439.8v1.1M133.7 441.3v1.1M138.3 448.1v1.1M141.8 443.0v1.1M137.8 443.4v1.1M136.2 438.5v1.1M135.3 447.0v1.1M139.8 440.3v1.1M132.0 450.0v1.1M136.3 444.4v1.1M135.8 435.7v1.1M137.0 438.9v1.1M135.5 440.3v1.1M135.5 452.0v1.1M140.1 435.1v1.1M132.2 440.7v1.1M134.5 445.7v1.1M140.3 439.9v1.1M137.7 441.9v1.1M131.1 447.2v1.1M140.7 439.5v1.1M137.8 440.7v1.1M136.0 440.9v1.1M135.8 442.9v1.1M134.6 443.7v1.1M132.9 445.8v1.1M133.7 435.5v1.1M138.4 441.4v1.1M134.8 446.2v1.1M136.1 450.2v1.1M137.3 437.2v1.1M134.9 440.1v1.1M135.5 449.2v1.1M143.2 449.3v1.1M137.4 444.8v1.1M136.6 434.1v1.1M139.8 450.4v1.1M134.9 442.6v1.1M134.4 441.9v1.1M134.0 438.3v1.1M139.3 435.2v1.1M138.9 438.3v1.1M135.6 434.9v1.1M137.9 438.8v1.1M142.7 439.1v1.1M136.9 445.2v1.1M133.7 439.5v1.1M133.4 444.8v1.1M137.0 446.6v1.1M132.5 439.1v1.1M135.9 441.0v1.1M137.0 447.0v1.1M136.6 439.6v1.1M136.1 439.9v1.1M134.5 449.9v1.1M138.0 449.8v1.1M135.7 442.4v1.1M132.9 443.6v1.1M138.1 445.4v1.1M133.2 443.1v1.1M138.6 440.9v1.1M138.0 440.7v1.1M136.2 440.4v1.1M132.4 439.5v1.1M136.7 441.6v1.1M136.2 440.4v1.1M138.5 442.0v1.1M137.2 440.8v1.1M139.6 442.3v1.1M137.3 451.2v1.1M137.3 436.6v1.1M134.5 443.9v1.1M132.8 437.0v1.1M135.9 436.6v1.1M139.0 444.4v1.1M135.4 447.4v1.1M134.5 438.1v1.1M138.6 442.8v1.1M135.6 446.7v1.1M135.9 445.2v1.1M136.8 447.2v1.1M137.6 440.9v1.1M140.1 441.3v1.1M140.7 437.8v1.1M136.4 434.0v1.1M137.6 447.9v1.1M135.2 444.5v1.1M135.6 448.3v1.1M137.1 444.1v1.1M139.1 436.8v1.1M138.0 443.2v1.1M139.6 442.8v1.1M137.8 442.5v1.1M133.7 440.7v1.1M135.8 437.5v1.1M136.1 440.9v1.1M140.9 441.7v1.1M136.6 443.1v1.1M138.0 436.5v1.1M131.7 448.8v1.1M134.1 439.2v1.1M139.3 443.8v1.1M134.2 445.6v1.1M133.3 449.0v1.1M135.4 444.0v1.1M136.2 450.1v1.1M133.8 442.3v1.1M141.8 434.8v1.1M135.0 443.8v1.1M135.7 444.4v1.1M139.2 438.3v1.1M134.6 447.8v1.1M141.3 432.4v1.1M137.6 446.5v1.1M134.5 439.3v1.1M133.3 441.9v1.1M133.3 445.4v1.1M134.5 444.7v1.1M132.2 446.1v1.1M138.0 446.3v1.1M136.9 451.6v1.1M138.7 442.9v1.1M140.4 441.3v1.1M136.6 449.0v1.1M135.1 442.7v1.1M136.9 443.4v1.1M135.6 446.6v1.1M141.8 441.2v1.1M132.4 440.9v1.1M132.7 437.8v1.1M133.6 446.8v1.1M136.6 445.4v1.1M136.0 446.6v1.1M135.2 447.7v1.1M138.5 443.5v1.1M132.5 438.4v1.1M136.9 438.7v1.1M135.8 442.1v1.1M139.8 440.1v1.1M136.6 440.9v1.1M134.3 444.4v1.1M138.8 437.2v1.1M140.1 451.3v1.1M136.6 444.7v1.1M133.6 441.1v1.1M137.0 442.4v1.1M139.8 439.3v1.1M135.6 444.7v1.1M136.1 441.8v1.1M136.0 444.3v1.1M131.3 452.7v1.1M138.2 438.6v1.1M133.9 438.3v1.1M137.4 435.5v1.1M142.6 440.6v1.1M132.6 450.7v1.1M136.2 444.6v1.1M135.8 441.7v1.1M141.6 435.1v1.1M136.9 439.8v1.1M135.4 442.5v1.1M131.5 445.1v1.1M136.8 444.9v1.1M134.7 445.6v1.1M135.1 445.7v1.1M139.7 445.1v1.1M132.5 443.0v1.1M133.6 450.2v1.1M136.8 437.8v1.1M132.3 447.8v1.1M133.7 444.3v1.1M135.4 442.1v1.1M135.1 442.7v1.1M140.4 439.3v1.1M137.6 444.6v1.1M134.5 438.5v1.1M134.0 444.9v1.1M136.7 446.7v1.1M137.2 443.2v1.1M136.3 443.6v1.1M136.4 445.3v1.1M134.0 446.8v1.1M140.5 442.4v1.1M137.7 438.2v1.1M136.5 437.2v1.1M138.8 442.9v1.1M139.0 447.0v1.1M134.4 445.8v1.1M140.3 451.2v1.1M136.0 444.8v1.1M134.6 445.2v1.1M137.8 448.3v1.1M135.9 443.0v1.1M137.6 442.1v1.1M141.6 434.2v1.1M131.8 440.8v1.1M138.1 442.8v1.1M137.4 436.9v1.1M137.8 444.8v1.1M140.5 445.9v1.1M134.7 439.9v1.1M133.3 440.9v1.1M136.0 447.5v1.1M140.5 443.0v1.1M137.8 442.1v1.1M132.9 444.8v1.1M134.4 436.5v1.1M134.1 448.4v1.1M133.3 447.9v1.1M132.7 442.5v1.1M137.6 441.2v1.1M133.8 442.7v1.1M140.6 445.2v1.1M136.8 444.9v1.1M139.3 447.8v1.1M135.6 439.4v1.1M133.7 443.0v1.1M135.5 442.7v1.1M134.7 452.3v1.1M134.5 448.2v1.1M134.0 439.7v1.1M133.2 438.6v1.1M132.0 439.6v1.1M135.6 445.4v1.1M131.6 444.4v1.1M136.0 442.7v1.1M130.7 444.6v1.1M138.0 447.1v1.1M135.5 447.5v1.1M136.4 439.2v1.1M137.6 446.5v1.1M136.9 442.6v1.1M135.6 445.3v1.1M131.6 443.9v1.1M132.9 440.7v1.1M136.8 447.4v1.1M136.2 439.2v1.1M143.3 444.0v1.1M129.2 442.4v1.1M134.4 440.4v1.1M139.0 450.9v1.1M136.5 437.6v1.1M138.5 443.1v1.1M135.2 443.5v1.1M133.3 443.5v1.1M137.2 447.3v1.1M141.5 440.3v1.1M137.3 439.7v1.1M136.6 447.1v1.1M138.0 441.6v1.1M141.0 446.1v1.1M139.5 443.0v1.1M139.8 442.2v1.1M138.5 442.9v1.1M136.3 436.8v1.1M138.8 444.9v1.1M134.6 443.0v1.1M137.8 445.2v1.1M130.9 448.4v1.1M133.6 450.0v1.1M139.3 443.3v1.1M136.8 443.8v1.1M135.2 448.5v1.1M134.5 440.7v1.1M135.7 436.7v1.1M139.0 438.2v1.1M140.2 446.3v1.1M141.6 440.5v1.1M135.5 441.0v1.1M138.4 439.3v1.1M135.4 433.9v1.1M136.4 443.5v1.1M141.5 439.5v1.1M138.8 444.9v1.1M138.6 438.5v1.1M127.1 440.9v1.1M138.8 443.4v1.1M140.1 451.0v1.1M134.4 441.2v1.1M140.3 436.3v1.1M129.7 443.8v1.1M137.1 448.5v1.1M138.2 442.6v1.1M134.8 435.7v1.1M137.7 440.4v1.1M135.3 444.0v1.1M130.9 442.4v1.1M134.6 450.4v1.1M136.0 447.1v1.1M133.7 436.6v1.1M138.6 441.4v1.1M132.7 446.9v1.1M137.6 436.1v1.1M135.7 450.4v1.1M136.6 437.5v1.1M134.1 448.1v1.1M140.3 445.4v1.1M132.3 445.9v1.1M134.1 440.8v1.1M134.9 446.9v1.1M137.6 445.0v1.1M135.1 440.7v1.1M139.1 440.4v1.1M135.5 444.9v1.1M135.8 446.6v1.1M137.8 445.2v1.1M142.4 440.6v1.1M141.9 437.7v1.1M134.2 433.0v1.1M134.5 439.6v1.1M138.2 447.6v1.1M142.5 440.7v1.1M139.1 442.0v1.1M131.3 426.5v1.1M135.3 435.1v1.1M138.6 439.1v1.1M138.0 440.1v1.1M137.6 439.0v1.1M137.3 449.8v1.1M137.3 437.4v1.1M134.2 443.3v1.1M138.4 437.9v1.1M133.8 436.4v1.1M141.0 443.9v1.1M137.1 441.0v1.1M141.4 445.0v1.1M136.0 447.5v1.1M137.9 441.6v1.1M135.3 442.7v1.1M140.0 437.1v1.1M131.8 445.4v1.1M139.1 448.4v1.1M138.3 435.1v1.1M139.1 442.8v1.1M133.3 434.6v1.1M131.6 442.3v1.1M132.4 443.7v1.1M136.0 445.0v1.1M139.2 437.8v1.1M135.3 445.5v1.1M134.4 446.7v1.1M138.4 446.2v1.1M134.6 445.7v1.1M135.8 443.0v1.1M138.5 439.4v1.1M136.3 430.9v1.1M134.3 444.9v1.1M133.0 432.1v1.1M131.9 440.6v1.1M138.6 444.5v1.1M132.0 443.9v1.1M132.6 447.1v1.1M137.7 439.0v1.1M135.0 441.6v1.1M134.6 447.5v1.1M137.4 439.3v1.1M137.9 435.6v1.1M137.0 440.5v1.1M134.7 441.7v1.1M137.2 435.2v1.1M139.0 439.2v1.1M137.6 449.8v1.1M133.1 449.8v1.1M135.4 450.9v1.1M133.9 446.9v1.1M134.7 447.9v1.1M139.3 443.6v1.1M133.9 446.9v1.1M137.6 436.9v1.1M138.2 441.2v1.1M136.1 437.4v1.1M137.1 446.0v1.1M133.8 445.8v1.1M130.8 442.5v1.1M137.3 437.5v1.1M137.0 435.8v1.1M142.3 443.9v1.1M139.9 437.6v1.1M129.5 441.6v1.1M140.6 441.2v1.1M140.1 443.9v1.1M137.5 446.9v1.1M134.6 440.1v1.1M139.9 444.1v1.1M134.8 436.9v1.1M141.1 426.8v1.1M139.3 441.3v1.1M132.5 443.9v1.1M137.9 452.7v1.1M137.4 430.2v1.1M133.6 445.6v1.1M135.0 441.7v1.1M136.2 448.7v1.1M137.5 441.3v1.1M134.5 446.7v1.1M134.3 443.9v1.1M137.8 445.5v1.1M138.9 443.3v1.1M142.5 445.7v1.1M134.2 437.7v1.1M134.3 448.2v1.1M133.1 449.3v1.1M137.8 439.2v1.1M133.4 441.5v1.1M138.8 441.6v1.1M138.7 442.8v1.1M140.6 439.7v1.1M136.1 436.7v1.1M135.5 437.3v1.1M131.9 440.9v1.1M138.5 431.5v1.1" stroke="#000" stroke-width="0.70" stroke-opacity="0.45" fill="none" filter="url(#bl)"/>
<path d="M134.4 409.5v1.1M137.3 426.5v1.1M137.2 420.0v1.1M135.3 423.2v1.1M135.1 419.6v1.1M137.4 419.4v1.1M133.8 430.2v1.1M135.6 417.5v1.1M135.7 421.0v1.1M136.4 424.7v1.1M138.3 437.6v1.1M132.9 420.6v1.1M135.1 423.4v1.1M134.9 422.2v1.1M137.2 421.2v1.1M137.1 427.3v1.1M134.8 421.2v1.1M138.5 429.6v1.1M138.4 414.4v1.1M135.5 430.1v1.1M136.7 424.1v1.1M136.0 429.5v1.1M137.0 413.0v1.1M137.3 418.6v1.1M136.2 426.5v1.1M136.9 416.6v1.1M134.6 417.7v1.1M136.4 411.3v1.1M135.5 441.7v1.1M135.5 422.1v1.1M134.5 418.8v1.1M137.1 423.0v1.1M133.6 421.9v1.1M134.9 431.0v1.1M136.5 435.3v1.1M137.3 411.5v1.1M138.4 417.4v1.1M136.5 422.4v1.1M134.3 431.7v1.1M136.8 429.4v1.1M134.4 434.7v1.1M138.5 434.5v1.1M137.1 431.6v1.1M138.3 435.0v1.1M135.3 430.9v1.1M133.1 437.2v1.1M141.3 432.7v1.1M137.3 435.8v1.1M136.2 440.7v1.1M134.9 430.1v1.1M139.1 436.3v1.1M137.8 432.7v1.1M136.5 433.6v1.1M137.2 431.0v1.1M138.2 439.3v1.1M135.7 429.7v1.1M136.8 441.8v1.1M135.0 437.9v1.1M135.5 430.4v1.1M138.3 432.5v1.1M136.5 435.6v1.1M138.4 433.9v1.1M139.0 430.7v1.1M135.7 435.5v1.1M137.6 427.0v1.1M136.1 435.6v1.1M136.3 439.5v1.1M134.0 433.8v1.1" stroke="#000" stroke-width="0.70" stroke-opacity="0.32" fill="none" filter="url(#bl)"/>
<rect x="127.50" y="405.20" width="20.50" height="30.60" fill="none" stroke="#000" stroke-width="0.95"/>
<text x="114.10" y="423.60" font-size="8.30" textLength="10.10" lengthAdjust="spacingAndGlyphs" class="n">5.5</text>
<rect x="49.30" y="351.30" width="106.10" height="105.50" fill="none" stroke="#000" stroke-width="1.45"/>
<line x1="102.00" y1="351.30" x2="102.00" y2="456.80" stroke="#000" stroke-width="1.45"/>
<line x1="49.30" y1="403.60" x2="155.40" y2="403.60" stroke="#000" stroke-width="1.45"/>
<ellipse cx="206.7" cy="391.0" rx="2.8" ry="4.5" fill="#000" fill-opacity="0.85" filter="url(#bl2)"/>
<ellipse cx="206.7" cy="390.9" rx="5.9" ry="8.6" fill="url(#cg)" fill-opacity="0.99"/>
<ellipse cx="207.1" cy="369.8" rx="4.2" ry="18.7" fill="url(#cg)" fill-opacity="0.31"/>
<path d="M204.6 384.1v1.1M206.1 390.2v1.1M205.6 387.9v1.1M208.9 386.3v1.1M205.1 384.9v1.1M209.7 384.6v1.1M211.1 386.8v1.1M206.6 396.9v1.1M204.0 395.6v1.1M203.4 388.6v1.1M208.1 391.8v1.1M207.6 391.7v1.1M210.7 384.1v1.1M205.0 393.9v1.1M203.0 387.7v1.1M212.9 395.7v1.1M208.0 390.8v1.1M206.3 387.0v1.1M204.5 386.6v1.1M203.5 391.0v1.1M207.8 386.7v1.1M207.0 385.2v1.1M207.7 389.2v1.1M206.5 391.2v1.1M210.0 391.3v1.1M205.0 391.1v1.1M207.7 392.6v1.1M209.4 387.2v1.1M203.7 392.9v1.1M203.8 392.2v1.1M213.6 395.4v1.1M203.0 387.2v1.1M207.7 389.3v1.1M208.5 391.4v1.1M207.6 392.7v1.1M202.7 395.0v1.1M203.1 387.0v1.1M200.6 390.5v1.1M207.7 389.0v1.1M203.7 381.9v1.1M208.1 385.9v1.1M205.8 391.4v1.1M206.5 392.1v1.1M210.9 393.3v1.1M204.1 390.3v1.1M206.1 387.1v1.1M208.4 388.9v1.1M207.3 393.0v1.1M212.1 388.1v1.1M208.6 399.0v1.1M210.8 391.7v1.1M204.8 391.1v1.1M205.1 388.8v1.1M202.3 389.3v1.1M201.6 394.4v1.1M208.0 388.9v1.1M206.8 391.0v1.1M206.1 391.6v1.1M206.3 392.3v1.1M204.6 390.8v1.1M211.0 387.3v1.1M204.6 394.2v1.1M207.5 391.1v1.1M207.2 388.9v1.1M205.4 392.5v1.1M207.2 393.0v1.1M207.9 399.3v1.1M206.9 396.0v1.1M207.1 399.4v1.1M209.2 387.5v1.1M210.8 388.3v1.1M209.3 387.5v1.1M207.6 391.1v1.1M210.4 382.0v1.1M201.8 394.4v1.1M208.7 388.5v1.1M207.0 383.6v1.1M205.7 387.9v1.1M209.0 391.5v1.1M206.3 395.1v1.1M205.0 393.5v1.1M206.1 392.4v1.1M206.0 396.1v1.1M205.6 398.5v1.1M208.8 387.3v1.1M205.6 395.8v1.1M210.5 385.8v1.1M207.2 393.0v1.1M212.9 393.2v1.1M206.2 394.2v1.1M206.9 387.2v1.1M206.6 389.7v1.1M206.2 390.9v1.1M207.6 387.5v1.1M208.5 384.4v1.1M208.4 392.5v1.1M207.8 384.7v1.1M205.4 391.4v1.1M207.9 393.5v1.1M202.8 390.7v1.1M209.5 386.0v1.1M203.6 388.8v1.1M206.0 389.6v1.1M210.0 391.7v1.1M201.8 393.7v1.1M207.0 394.0v1.1M206.7 396.1v1.1M207.1 388.7v1.1M203.6 394.3v1.1M206.4 383.7v1.1M208.9 395.8v1.1M201.3 392.9v1.1M208.4 397.4v1.1M209.9 387.7v1.1M207.9 393.6v1.1M202.9 396.3v1.1M208.0 394.0v1.1M204.4 393.9v1.1M206.6 389.4v1.1M206.8 392.0v1.1M202.8 390.7v1.1M207.7 384.3v1.1M211.1 400.8v1.1M208.5 390.7v1.1M204.0 386.3v1.1M203.6 394.1v1.1M204.5 391.4v1.1M205.6 394.2v1.1M210.0 394.3v1.1M208.4 394.9v1.1M211.1 387.3v1.1M207.4 388.1v1.1M206.8 389.8v1.1M207.0 393.5v1.1M203.4 380.5v1.1M207.4 394.9v1.1M205.7 396.5v1.1M212.6 391.0v1.1M206.2 392.7v1.1M208.7 384.8v1.1M208.0 382.6v1.1M204.0 391.6v1.1M207.5 386.0v1.1M206.8 395.8v1.1M202.5 392.9v1.1M210.0 385.4v1.1M209.8 392.5v1.1M205.9 390.8v1.1M206.6 390.8v1.1M206.2 387.8v1.1M209.1 397.4v1.1M206.2 396.3v1.1M204.7 385.7v1.1M208.4 391.7v1.1M207.9 386.9v1.1M205.7 394.7v1.1M210.9 391.7v1.1M207.7 380.3v1.1M205.0 395.9v1.1M211.7 387.5v1.1M200.2 392.7v1.1M203.3 389.1v1.1M205.2 389.3v1.1M204.2 393.3v1.1M207.5 385.5v1.1M202.6 398.9v1.1M208.2 391.6v1.1M202.3 399.3v1.1M204.0 391.2v1.1M207.6 387.9v1.1M207.0 388.9v1.1M201.4 385.3v1.1M205.1 388.6v1.1M207.8 397.3v1.1M206.1 399.4v1.1M205.6 391.2v1.1M206.1 384.1v1.1M206.5 389.9v1.1M204.5 393.7v1.1M207.7 389.5v1.1M204.4 391.9v1.1M204.6 387.4v1.1M205.4 394.5v1.1M206.0 390.1v1.1M205.8 393.1v1.1M206.3 394.0v1.1M206.3 394.1v1.1M205.9 387.8v1.1M207.7 389.9v1.1M205.5 396.4v1.1M205.4 387.7v1.1M205.8 396.4v1.1M203.2 395.4v1.1M208.0 389.2v1.1M205.8 387.9v1.1M201.4 387.1v1.1M203.0 384.4v1.1M205.5 393.1v1.1M204.2 389.4v1.1M204.7 390.0v1.1M207.7 395.6v1.1M208.2 392.2v1.1M210.2 393.6v1.1M207.9 393.0v1.1M208.7 386.7v1.1M204.3 391.1v1.1M202.0 389.7v1.1M205.8 392.0v1.1M208.4 395.9v1.1M200.5 391.6v1.1M207.5 396.5v1.1M205.0 392.4v1.1M206.2 387.0v1.1M207.2 394.6v1.1M205.7 391.1v1.1M209.4 390.0v1.1M205.8 391.9v1.1M207.7 392.4v1.1M209.8 392.5v1.1M203.5 384.4v1.1M206.3 397.4v1.1M206.7 389.1v1.1M207.3 392.9v1.1M209.8 385.7v1.1M208.6 391.5v1.1M208.7 395.1v1.1M200.9 394.4v1.1M207.9 387.7v1.1M206.3 395.0v1.1M202.7 394.3v1.1M208.6 397.7v1.1M204.4 388.3v1.1M209.1 389.7v1.1M207.6 380.5v1.1M212.7 383.4v1.1M202.3 392.8v1.1M207.8 387.6v1.1M200.9 393.0v1.1M207.2 387.1v1.1M206.9 388.5v1.1M203.9 393.6v1.1M206.6 390.9v1.1M203.4 388.0v1.1M205.8 388.4v1.1M207.4 390.9v1.1M206.0 390.1v1.1M207.6 394.8v1.1M203.8 394.6v1.1M208.9 393.9v1.1M205.1 391.6v1.1M212.0 385.5v1.1M208.7 389.7v1.1M210.8 391.3v1.1M208.7 388.3v1.1M205.3 397.2v1.1M203.3 388.7v1.1M205.9 385.8v1.1M208.2 385.9v1.1M206.7 389.8v1.1M200.9 391.4v1.1M202.6 390.9v1.1M200.6 388.6v1.1M208.7 391.9v1.1M209.4 397.2v1.1M208.4 390.0v1.1M206.2 393.3v1.1M203.4 386.6v1.1M206.5 397.7v1.1M203.7 391.8v1.1M204.7 393.6v1.1M207.4 390.6v1.1M208.9 389.8v1.1M202.3 399.1v1.1M206.3 392.0v1.1M208.6 387.5v1.1M205.3 387.8v1.1M208.0 392.4v1.1M207.1 385.6v1.1M204.4 385.0v1.1M203.0 387.8v1.1M207.3 392.7v1.1M201.9 393.3v1.1M207.5 397.1v1.1M208.7 384.8v1.1M207.8 391.7v1.1M207.4 387.8v1.1M210.2 391.1v1.1M205.1 383.5v1.1M205.9 385.3v1.1M202.8 397.3v1.1M206.4 394.7v1.1M209.4 393.7v1.1M205.4 386.1v1.1M206.1 391.2v1.1M206.2 389.5v1.1M206.9 385.0v1.1M209.3 386.0v1.1M206.9 387.2v1.1M210.0 388.5v1.1M204.2 389.3v1.1M208.8 385.8v1.1M203.2 388.6v1.1M208.5 379.0v1.1M208.9 399.8v1.1M206.1 394.5v1.1M206.2 383.3v1.1M205.4 393.2v1.1M203.7 389.6v1.1M204.8 392.3v1.1M212.9 391.1v1.1M203.2 397.4v1.1M205.8 389.1v1.1M207.8 393.8v1.1M207.1 392.1v1.1M207.0 385.9v1.1M208.6 394.2v1.1M204.5 383.7v1.1M205.0 391.5v1.1M210.2 391.6v1.1M198.1 388.2v1.1M206.7 391.7v1.1M202.6 389.3v1.1M206.9 393.5v1.1M208.7 397.4v1.1M204.8 389.0v1.1M205.4 392.7v1.1M211.7 391.5v1.1M207.0 387.0v1.1M203.2 397.9v1.1M206.3 396.4v1.1M208.7 388.7v1.1M207.2 387.1v1.1M208.2 390.1v1.1M208.6 395.8v1.1M205.0 394.0v1.1M207.7 388.6v1.1M207.3 395.7v1.1M207.0 394.7v1.1M207.5 395.8v1.1M206.2 389.4v1.1M208.2 381.5v1.1M205.2 396.9v1.1M204.6 398.2v1.1M210.8 388.7v1.1M204.6 392.3v1.1M208.9 397.8v1.1M210.6 387.9v1.1M208.8 388.7v1.1M209.4 392.6v1.1M210.3 390.4v1.1M208.7 385.6v1.1M204.0 392.8v1.1M206.8 394.3v1.1M212.6 388.2v1.1M203.5 386.4v1.1M205.0 395.4v1.1M207.6 389.5v1.1M208.3 390.0v1.1M207.3 390.6v1.1M203.0 394.0v1.1M207.1 399.7v1.1M206.9 388.3v1.1M207.1 387.8v1.1M206.5 389.2v1.1M207.5 387.0v1.1M206.3 389.0v1.1M204.0 390.4v1.1M208.4 393.6v1.1M207.4 390.2v1.1M209.1 389.5v1.1M208.4 383.7v1.1M203.5 387.7v1.1M209.6 389.6v1.1M207.8 386.2v1.1M202.6 402.1v1.1M210.9 397.8v1.1M206.6 388.0v1.1M207.3 389.7v1.1M205.4 380.6v1.1M207.2 381.7v1.1M205.3 384.4v1.1M211.9 385.4v1.1M205.6 392.2v1.1M205.8 391.7v1.1M209.1 388.1v1.1M208.0 390.1v1.1M203.2 391.8v1.1M203.8 394.9v1.1M206.6 391.4v1.1M209.3 387.3v1.1M204.5 396.5v1.1M208.5 392.4v1.1M201.4 390.7v1.1M204.1 388.2v1.1M202.3 383.9v1.1M205.5 392.2v1.1M205.3 389.9v1.1M206.8 396.1v1.1M205.1 391.2v1.1M213.9 390.5v1.1M208.8 385.8v1.1M203.8 388.8v1.1M214.8 388.1v1.1M210.4 388.6v1.1M203.3 383.0v1.1M207.1 394.9v1.1M204.5 389.0v1.1M203.7 387.6v1.1M209.4 388.4v1.1M203.8 393.1v1.1M207.4 390.4v1.1M212.2 391.8v1.1M209.8 385.5v1.1M206.5 395.8v1.1M208.7 394.3v1.1M202.7 389.5v1.1M211.2 396.6v1.1M198.4 382.9v1.1M210.3 393.8v1.1M210.2 379.2v1.1M206.9 393.9v1.1M210.0 386.6v1.1M209.5 393.8v1.1M205.3 397.1v1.1M210.1 394.2v1.1M205.4 391.7v1.1M206.6 397.4v1.1M213.3 387.1v1.1M212.1 392.4v1.1M204.8 387.6v1.1M210.9 391.9v1.1M204.9 389.8v1.1M205.6 390.1v1.1M211.6 387.8v1.1M205.8 378.2v1.1M208.1 394.4v1.1M212.3 388.0v1.1M205.9 388.9v1.1M203.3 390.6v1.1M204.5 389.6v1.1M207.4 393.5v1.1M207.1 401.5v1.1M208.0 392.4v1.1M208.6 389.4v1.1M210.0 390.6v1.1M202.5 387.4v1.1M211.7 382.1v1.1M212.6 390.4v1.1M207.7 395.9v1.1M207.6 387.6v1.1M199.8 386.9v1.1M203.1 393.3v1.1M207.2 385.3v1.1M210.7 394.2v1.1M214.2 391.2v1.1M202.9 390.4v1.1M209.4 394.1v1.1M202.6 392.2v1.1M209.1 391.8v1.1M201.6 387.7v1.1M206.5 388.8v1.1M209.9 388.0v1.1M200.9 379.6v1.1M208.5 386.0v1.1M206.8 395.2v1.1M205.2 389.7v1.1M202.2 384.1v1.1M208.8 395.4v1.1M204.8 388.9v1.1M208.0 387.7v1.1M207.1 387.9v1.1M208.9 387.4v1.1M205.3 383.3v1.1M204.4 382.7v1.1M206.4 394.6v1.1M202.7 385.7v1.1M204.4 392.0v1.1M205.9 388.3v1.1M203.8 388.5v1.1M205.7 386.0v1.1M211.5 392.2v1.1M206.4 391.3v1.1M214.4 392.8v1.1M205.1 389.7v1.1M210.7 392.0v1.1M206.0 390.3v1.1M203.2 388.3v1.1M205.6 388.6v1.1M211.4 389.9v1.1M210.7 389.8v1.1M202.0 395.6v1.1M205.1 389.2v1.1M210.5 396.4v1.1M207.4 395.8v1.1M205.3 392.9v1.1M203.9 394.4v1.1M205.1 392.9v1.1M203.0 396.6v1.1M212.3 388.5v1.1M207.1 385.2v1.1M206.3 382.9v1.1M209.3 389.4v1.1M210.7 389.8v1.1M206.2 385.8v1.1M209.0 389.2v1.1M203.0 382.7v1.1M210.0 389.3v1.1M206.7 387.2v1.1M205.2 389.7v1.1M207.6 384.1v1.1M215.0 394.1v1.1M200.6 390.1v1.1M210.6 386.7v1.1M202.4 392.3v1.1M204.9 389.7v1.1M212.3 389.8v1.1M211.3 386.0v1.1M200.9 387.9v1.1M205.6 393.0v1.1M208.4 380.4v1.1" stroke="#000" stroke-width="0.70" stroke-opacity="0.45" fill="none" filter="url(#bl)"/>
<path d="M204.9 365.6v1.1M205.7 363.7v1.1M206.5 370.8v1.1M204.2 361.3v1.1M205.3 379.9v1.1M206.8 356.4v1.1M208.1 377.5v1.1M204.0 358.7v1.1M208.0 369.8v1.1M208.3 383.4v1.1M208.4 378.1v1.1M206.2 381.7v1.1M205.7 372.3v1.1M203.2 365.8v1.1M208.6 361.3v1.1M206.4 357.9v1.1M207.2 365.2v1.1M205.8 366.4v1.1M206.3 369.3v1.1M206.6 379.3v1.1M209.7 367.5v1.1M207.8 361.4v1.1M208.3 374.3v1.1M206.0 359.5v1.1M208.1 373.2v1.1M204.9 372.8v1.1M209.6 360.8v1.1M206.0 359.9v1.1M207.8 362.4v1.1M210.4 374.4v1.1M206.7 365.8v1.1M209.1 365.8v1.1M206.4 370.2v1.1M209.2 381.7v1.1M206.4 358.7v1.1M205.3 367.8v1.1M208.4 372.8v1.1M207.5 356.4v1.1M207.3 364.8v1.1M205.3 374.5v1.1M209.5 370.9v1.1M208.2 377.9v1.1M207.2 365.6v1.1M210.0 363.9v1.1M206.5 372.2v1.1M206.3 361.0v1.1M209.2 369.1v1.1M205.8 364.2v1.1M208.3 376.3v1.1M207.5 379.2v1.1M207.1 383.0v1.1M208.9 359.3v1.1M207.0 372.1v1.1M207.1 360.7v1.1M208.1 368.7v1.1M204.3 358.2v1.1M206.4 377.2v1.1M207.1 370.8v1.1M209.0 367.3v1.1M207.2 368.6v1.1M208.9 363.6v1.1M207.9 363.0v1.1M207.3 378.7v1.1M205.7 373.4v1.1M207.3 371.2v1.1M208.2 369.9v1.1M208.1 384.8v1.1M205.9 359.9v1.1M208.6 372.6v1.1M210.9 363.8v1.1M208.5 364.5v1.1M206.2 364.1v1.1M205.6 361.1v1.1M206.6 367.8v1.1M207.3 376.2v1.1M205.5 368.5v1.1M205.5 376.3v1.1M205.5 366.2v1.1M205.7 378.4v1.1M204.9 359.4v1.1M206.4 366.2v1.1M205.4 378.9v1.1M206.8 357.9v1.1M205.9 365.0v1.1M205.5 365.6v1.1M206.4 374.5v1.1M211.9 363.3v1.1M206.3 378.9v1.1M210.3 375.9v1.1M206.7 385.8v1.1M207.3 379.4v1.1M206.2 358.7v1.1M209.7 361.6v1.1M205.2 370.4v1.1M205.4 375.0v1.1M207.3 367.5v1.1M206.1 381.7v1.1M209.7 378.9v1.1M204.7 383.4v1.1M207.4 383.9v1.1M208.2 363.4v1.1M204.1 363.5v1.1M209.4 365.4v1.1M210.2 358.2v1.1M208.4 368.2v1.1M204.6 372.5v1.1M206.4 366.8v1.1M203.3 360.6v1.1M205.9 367.9v1.1M205.6 386.7v1.1M206.4 371.0v1.1M206.6 380.1v1.1M208.2 377.8v1.1M204.3 370.6v1.1M206.9 374.7v1.1M205.9 370.5v1.1M205.3 366.2v1.1M207.8 364.9v1.1M205.6 368.0v1.1M207.8 372.8v1.1M205.0 365.6v1.1M205.0 360.6v1.1M211.6 379.6v1.1M208.5 366.8v1.1M208.7 382.5v1.1M209.1 383.3v1.1M205.4 389.2v1.1M208.3 383.8v1.1M207.6 382.1v1.1M206.4 374.8v1.1M210.0 389.9v1.1M207.8 383.2v1.1M207.0 383.5v1.1M206.8 380.5v1.1M208.1 374.8v1.1M209.4 379.4v1.1M207.9 382.9v1.1M209.7 386.7v1.1M204.9 377.4v1.1M207.3 375.0v1.1M208.1 380.4v1.1M205.7 383.8v1.1M205.5 378.2v1.1M207.0 383.8v1.1M206.7 379.6v1.1M207.3 379.5v1.1M203.9 384.0v1.1M207.8 384.7v1.1M207.2 382.5v1.1M204.2 376.0v1.1M203.8 384.9v1.1M205.8 385.5v1.1M207.7 379.2v1.1M206.8 378.0v1.1M206.2 382.0v1.1M208.1 379.1v1.1M204.4 384.8v1.1M205.1 383.3v1.1M204.4 377.6v1.1M203.7 383.1v1.1M207.7 391.8v1.1M210.1 381.3v1.1M203.5 380.0v1.1M207.4 382.1v1.1M207.2 377.2v1.1M206.5 387.5v1.1M206.1 379.4v1.1M205.0 378.6v1.1M209.0 382.1v1.1M206.1 379.5v1.1M208.3 378.8v1.1M205.6 379.7v1.1M202.7 384.8v1.1M205.6 383.5v1.1M206.9 384.4v1.1M206.1 389.5v1.1M207.9 380.0v1.1M207.5 373.4v1.1M205.0 373.5v1.1M206.5 388.5v1.1M207.5 375.6v1.1M204.3 382.1v1.1M208.0 380.1v1.1M209.4 381.6v1.1M210.3 383.8v1.1" stroke="#000" stroke-width="0.70" stroke-opacity="0.32" fill="none" filter="url(#bl)"/>
<rect x="198.00" y="352.60" width="20.40" height="29.90" fill="none" stroke="#000" stroke-width="0.95"/>
<text x="180.30" y="369.60" font-size="8.30" textLength="14.40" lengthAdjust="spacingAndGlyphs" class="n">13.7</text>
<ellipse cx="206.7" cy="443.3" rx="2.8" ry="4.5" fill="#000" fill-opacity="0.85" filter="url(#bl2)"/>
<ellipse cx="206.7" cy="443.2" rx="5.9" ry="8.6" fill="url(#cg)" fill-opacity="0.99"/>
<ellipse cx="207.1" cy="422.1" rx="4.2" ry="18.7" fill="url(#cg)" fill-opacity="0.43"/>
<path d="M212.1 432.3v1.1M208.6 445.8v1.1M210.6 445.0v1.1M207.7 444.0v1.1M207.1 444.9v1.1M210.9 436.4v1.1M205.4 436.9v1.1M205.0 443.8v1.1M207.1 444.2v1.1M208.6 444.4v1.1M205.7 442.2v1.1M203.8 440.9v1.1M206.3 444.2v1.1M202.4 447.0v1.1M206.4 436.6v1.1M206.2 445.0v1.1M206.8 441.1v1.1M204.2 443.6v1.1M207.0 443.9v1.1M205.6 447.5v1.1M201.7 442.7v1.1M202.2 435.0v1.1M207.1 446.0v1.1M205.8 444.4v1.1M206.1 447.2v1.1M205.0 444.8v1.1M207.4 436.5v1.1M209.7 440.4v1.1M203.5 440.1v1.1M208.8 441.1v1.1M208.6 439.0v1.1M207.2 435.9v1.1M205.8 447.8v1.1M205.2 443.4v1.1M201.7 449.2v1.1M206.0 444.5v1.1M205.5 438.6v1.1M205.6 441.4v1.1M203.8 442.1v1.1M203.9 440.8v1.1M199.0 438.9v1.1M207.4 443.5v1.1M205.9 444.3v1.1M211.1 444.1v1.1M206.8 442.3v1.1M207.4 445.2v1.1M200.6 450.9v1.1M209.1 444.5v1.1M204.9 442.2v1.1M204.5 447.9v1.1M204.7 436.4v1.1M205.9 439.4v1.1M207.0 443.2v1.1M204.3 436.7v1.1M205.6 437.6v1.1M206.0 443.4v1.1M205.5 443.3v1.1M205.4 449.1v1.1M201.8 438.5v1.1M209.5 437.9v1.1M208.1 441.8v1.1M206.5 437.2v1.1M205.4 442.1v1.1M200.8 442.7v1.1M205.3 433.9v1.1M206.9 441.3v1.1M202.5 447.1v1.1M206.1 438.2v1.1M204.1 443.8v1.1M205.0 445.4v1.1M203.2 443.6v1.1M207.6 444.7v1.1M204.3 439.0v1.1M203.4 443.0v1.1M201.0 453.4v1.1M205.7 447.3v1.1M205.6 447.7v1.1M205.7 446.5v1.1M209.0 443.8v1.1M203.1 444.3v1.1M206.8 441.5v1.1M205.8 445.3v1.1M201.0 444.8v1.1M210.6 440.1v1.1M209.6 440.9v1.1M205.6 441.3v1.1M206.3 439.7v1.1M204.9 441.8v1.1M204.0 442.4v1.1M209.1 439.4v1.1M206.9 439.7v1.1M203.4 442.6v1.1M205.7 446.4v1.1M208.2 443.0v1.1M204.7 447.8v1.1M203.0 439.7v1.1M208.3 444.2v1.1M208.0 441.8v1.1M208.3 447.1v1.1M201.4 444.6v1.1M208.9 438.7v1.1M203.9 444.0v1.1M208.0 442.5v1.1M202.1 443.4v1.1M206.1 441.2v1.1M209.1 434.4v1.1M206.7 440.3v1.1M207.9 441.4v1.1M210.9 443.3v1.1M205.0 436.4v1.1M205.7 442.4v1.1M210.5 444.0v1.1M206.9 439.1v1.1M206.9 438.9v1.1M202.7 444.3v1.1M205.2 437.5v1.1M209.4 447.3v1.1M207.6 436.3v1.1M204.2 438.9v1.1M208.8 442.2v1.1M204.2 437.3v1.1M204.5 443.3v1.1M205.8 444.5v1.1M207.8 438.2v1.1M208.6 442.7v1.1M210.6 442.1v1.1M205.5 442.1v1.1M209.6 444.6v1.1M209.5 446.5v1.1M207.3 451.5v1.1M206.2 441.7v1.1M209.3 438.2v1.1M207.3 446.4v1.1M204.1 435.4v1.1M202.7 446.9v1.1M212.9 439.2v1.1M203.0 437.8v1.1M210.5 445.5v1.1M208.2 439.8v1.1M208.2 439.8v1.1M207.9 439.7v1.1M203.2 440.9v1.1M207.5 443.8v1.1M205.0 446.1v1.1M202.3 435.1v1.1M208.0 442.0v1.1M206.4 440.8v1.1M207.8 443.4v1.1M210.1 439.0v1.1M203.2 442.1v1.1M205.8 441.4v1.1M200.9 444.0v1.1M210.9 443.9v1.1M209.7 444.8v1.1M207.2 444.1v1.1M209.3 444.3v1.1M208.2 442.3v1.1M204.5 443.9v1.1M205.4 444.8v1.1M200.7 449.3v1.1M209.9 448.4v1.1M207.5 438.5v1.1M205.5 438.1v1.1M207.6 442.6v1.1M206.9 435.5v1.1M202.6 434.2v1.1M210.2 444.5v1.1M206.7 441.2v1.1M201.8 441.1v1.1M205.4 439.3v1.1M209.2 434.8v1.1M207.0 445.6v1.1M208.7 436.8v1.1M199.2 447.8v1.1M210.3 441.9v1.1M205.9 443.8v1.1M209.4 443.0v1.1M205.7 443.4v1.1M207.6 450.4v1.1M206.6 439.0v1.1M211.6 448.3v1.1M210.5 439.0v1.1M205.0 437.3v1.1M206.3 447.6v1.1M209.1 442.7v1.1M207.2 444.4v1.1M206.2 438.5v1.1M204.8 448.9v1.1M204.1 438.2v1.1M208.1 441.3v1.1M205.7 443.2v1.1M206.3 436.2v1.1M209.1 443.4v1.1M211.2 445.8v1.1M205.1 440.9v1.1M204.7 434.1v1.1M208.6 440.0v1.1M209.3 443.2v1.1M206.3 448.8v1.1M204.2 449.3v1.1M205.7 450.8v1.1M209.7 440.6v1.1M211.3 444.2v1.1M207.6 441.1v1.1M206.5 441.0v1.1M205.8 445.6v1.1M208.8 447.4v1.1M209.9 442.3v1.1M208.7 441.6v1.1M208.2 445.0v1.1M207.7 439.6v1.1M203.6 449.2v1.1M204.6 440.2v1.1M207.7 441.1v1.1M207.8 447.9v1.1M202.6 443.0v1.1M208.3 437.2v1.1M208.7 448.3v1.1M206.8 444.4v1.1M205.9 446.4v1.1M205.4 442.6v1.1M204.9 439.9v1.1M209.8 442.4v1.1M209.1 436.5v1.1M203.6 439.2v1.1M211.8 447.1v1.1M212.6 440.9v1.1M208.3 444.0v1.1M206.0 444.9v1.1M206.7 444.5v1.1M202.0 438.6v1.1M204.1 449.1v1.1M209.1 438.9v1.1M208.1 440.4v1.1M203.7 439.1v1.1M214.6 443.0v1.1M206.5 447.4v1.1M207.5 438.4v1.1M212.4 451.1v1.1M208.8 439.4v1.1M206.6 443.1v1.1M203.8 452.7v1.1M206.8 440.5v1.1M206.0 441.4v1.1M200.0 443.2v1.1M209.8 443.5v1.1M207.9 442.3v1.1M202.1 444.9v1.1M208.5 438.7v1.1M203.7 440.4v1.1M203.2 433.1v1.1M205.7 440.4v1.1M207.0 447.2v1.1M204.3 436.7v1.1M206.4 445.2v1.1M210.6 446.2v1.1M207.1 442.8v1.1M202.1 445.3v1.1M208.8 442.3v1.1M205.9 444.2v1.1M207.9 444.6v1.1M207.8 436.8v1.1M205.2 436.3v1.1M208.8 452.5v1.1M204.6 442.1v1.1M207.4 439.9v1.1M211.2 443.4v1.1M212.4 451.3v1.1M208.0 439.7v1.1M210.2 441.6v1.1M204.6 441.8v1.1M209.7 439.6v1.1M206.1 446.0v1.1M206.0 446.0v1.1M210.0 440.7v1.1M203.6 438.1v1.1M210.1 444.7v1.1M206.9 441.1v1.1M209.6 440.8v1.1M213.9 443.8v1.1M202.5 446.7v1.1M207.4 442.6v1.1M206.2 447.2v1.1M205.4 448.6v1.1M204.7 446.1v1.1M202.7 446.3v1.1M204.1 441.7v1.1M208.7 439.7v1.1M208.1 442.6v1.1M210.2 446.0v1.1M207.4 441.9v1.1M204.3 448.0v1.1M206.1 437.8v1.1M204.6 435.4v1.1M204.4 440.9v1.1M207.3 446.1v1.1M208.9 435.7v1.1M205.4 444.9v1.1M207.6 442.5v1.1M204.6 445.3v1.1M206.5 441.6v1.1M206.4 441.7v1.1M207.5 446.8v1.1M206.9 440.2v1.1M206.4 442.0v1.1M208.0 445.5v1.1M211.0 446.0v1.1M202.2 439.4v1.1M203.3 443.7v1.1M212.9 444.3v1.1M205.2 447.8v1.1M208.3 439.5v1.1M204.1 448.2v1.1M208.7 434.6v1.1M204.7 444.7v1.1M203.1 442.5v1.1M204.3 436.2v1.1M205.3 440.5v1.1M207.4 436.0v1.1M207.3 441.2v1.1M202.4 447.2v1.1M205.5 444.2v1.1M210.8 444.1v1.1M209.1 443.4v1.1M205.1 443.3v1.1M202.5 444.4v1.1M208.9 444.2v1.1M204.8 438.0v1.1M204.7 441.5v1.1M202.8 449.9v1.1M204.5 443.1v1.1M205.4 443.1v1.1M200.9 438.7v1.1M206.6 442.4v1.1M207.7 440.5v1.1M208.8 443.4v1.1M206.5 442.6v1.1M209.5 442.4v1.1M210.8 443.0v1.1M207.3 442.6v1.1M207.4 444.3v1.1M205.0 445.6v1.1M213.5 444.6v1.1M206.9 439.5v1.1M204.6 439.5v1.1M207.3 440.0v1.1M210.9 441.0v1.1M204.2 439.1v1.1M206.4 442.0v1.1M209.1 439.8v1.1M207.5 446.2v1.1M205.9 436.0v1.1M207.3 446.5v1.1M207.7 442.6v1.1M201.5 448.7v1.1M206.1 438.1v1.1M205.7 443.2v1.1M206.7 439.1v1.1M213.0 447.3v1.1M209.3 445.0v1.1M205.6 438.1v1.1M203.2 446.6v1.1M206.8 448.8v1.1M200.6 447.6v1.1M207.9 440.5v1.1M209.0 440.0v1.1M205.9 444.6v1.1M207.0 443.7v1.1M207.2 446.5v1.1M204.3 435.0v1.1M204.2 433.4v1.1M211.8 440.1v1.1M206.5 443.8v1.1M204.5 440.7v1.1M207.3 442.6v1.1M208.8 441.6v1.1M204.8 437.0v1.1M202.1 443.6v1.1M207.4 441.0v1.1M209.9 432.3v1.1M208.3 438.0v1.1M205.7 441.7v1.1M204.6 441.5v1.1M207.4 451.7v1.1M206.6 445.3v1.1M208.8 439.0v1.1M207.9 441.0v1.1M209.0 440.4v1.1M209.5 439.2v1.1M205.3 445.8v1.1M209.3 445.9v1.1M211.9 446.5v1.1M206.6 446.1v1.1M204.4 445.6v1.1M207.7 442.0v1.1M204.7 446.6v1.1M201.2 441.9v1.1M202.8 441.2v1.1M205.4 439.4v1.1M205.0 443.6v1.1M211.9 449.2v1.1M206.1 441.0v1.1M208.2 439.4v1.1M202.6 446.3v1.1M205.5 448.4v1.1M207.5 437.0v1.1M207.4 444.4v1.1M206.8 437.4v1.1M202.6 449.7v1.1M199.1 438.9v1.1M208.8 449.4v1.1M208.3 442.5v1.1M207.6 446.9v1.1M205.2 447.4v1.1M207.3 443.4v1.1M207.8 443.8v1.1M204.1 448.5v1.1M205.3 441.5v1.1M200.3 436.3v1.1M208.1 442.2v1.1M206.3 441.1v1.1M208.3 440.1v1.1M202.6 436.4v1.1M204.5 443.8v1.1M210.5 444.7v1.1M204.8 437.5v1.1M208.8 444.5v1.1M206.5 444.9v1.1M208.2 444.5v1.1M210.2 436.7v1.1M204.9 440.5v1.1M203.9 450.1v1.1M207.6 444.2v1.1M208.7 441.7v1.1M208.9 441.8v1.1M208.6 444.7v1.1M210.1 436.8v1.1M204.1 439.7v1.1M204.4 444.0v1.1M209.9 440.3v1.1M210.2 445.8v1.1M204.9 444.8v1.1M211.4 439.7v1.1M199.8 444.3v1.1M207.7 444.6v1.1M208.4 441.6v1.1M206.8 438.2v1.1M213.0 448.9v1.1M206.4 438.0v1.1M208.2 449.1v1.1M206.9 438.2v1.1M209.8 443.0v1.1M204.3 440.9v1.1M207.3 436.8v1.1M207.7 447.6v1.1M210.2 447.5v1.1M209.2 441.5v1.1M208.8 447.4v1.1M207.0 444.2v1.1M204.8 441.9v1.1M205.3 437.1v1.1M208.1 451.9v1.1M201.5 439.7v1.1M207.5 438.6v1.1M207.4 445.7v1.1M201.7 441.4v1.1M208.7 444.5v1.1M212.6 442.8v1.1M210.8 439.4v1.1M204.0 439.5v1.1M205.5 446.0v1.1M209.2 442.0v1.1M204.0 442.6v1.1M205.5 440.2v1.1M201.4 449.0v1.1M215.3 442.2v1.1M213.9 440.1v1.1M215.7 441.7v1.1M201.0 441.9v1.1M209.4 449.7v1.1M210.0 450.0v1.1M207.5 435.1v1.1M207.4 438.0v1.1M209.5 432.3v1.1M203.8 436.7v1.1M207.2 446.6v1.1M205.9 436.0v1.1M205.3 441.3v1.1M210.5 442.5v1.1M211.3 429.0v1.1M212.5 452.0v1.1M205.2 454.3v1.1M202.0 446.2v1.1M202.7 439.2v1.1M208.5 443.0v1.1M207.8 441.1v1.1M201.0 434.6v1.1M204.2 437.4v1.1M205.4 434.2v1.1M206.5 444.2v1.1M205.3 448.1v1.1M207.5 446.2v1.1M204.0 442.9v1.1M202.4 433.3v1.1M201.3 440.1v1.1M207.6 451.7v1.1M207.9 440.3v1.1M210.2 442.5v1.1M206.9 442.6v1.1M210.0 449.3v1.1M202.4 442.4v1.1M205.4 442.0v1.1M214.4 440.9v1.1M199.0 445.9v1.1M205.4 437.7v1.1M213.9 451.2v1.1M210.1 443.1v1.1M204.6 448.6v1.1" stroke="#000" stroke-width="0.70" stroke-opacity="0.45" fill="none" filter="url(#bl)"/>
<path d="M206.6 423.5v1.1M206.8 422.9v1.1M203.3 411.2v1.1M204.9 417.3v1.1M206.7 420.8v1.1M206.3 430.4v1.1M203.2 417.0v1.1M206.6 414.2v1.1M209.7 420.5v1.1M209.2 426.2v1.1M206.6 429.9v1.1M204.3 411.1v1.1M206.3 419.8v1.1M203.8 412.7v1.1M204.6 441.6v1.1M209.5 426.6v1.1M207.5 432.8v1.1M207.3 432.0v1.1M208.8 439.5v1.1M209.1 416.7v1.1M208.2 431.0v1.1M208.3 440.1v1.1M207.6 418.0v1.1M208.8 431.2v1.1M207.1 425.9v1.1M207.3 423.7v1.1M207.8 418.1v1.1M208.5 424.6v1.1M210.4 424.1v1.1M207.3 411.1v1.1M211.4 419.5v1.1M206.1 419.2v1.1M207.1 420.6v1.1M210.3 417.4v1.1M206.7 417.7v1.1M208.2 407.6v1.1M209.0 418.4v1.1M204.4 434.0v1.1M204.6 427.4v1.1M207.1 415.8v1.1M203.9 415.4v1.1M208.5 420.9v1.1M206.0 429.7v1.1M207.2 422.1v1.1M205.4 409.7v1.1M206.2 423.9v1.1M206.3 424.1v1.1M206.6 419.4v1.1M207.0 424.4v1.1M202.8 421.3v1.1M206.7 417.6v1.1M208.9 431.2v1.1M209.3 427.6v1.1M208.0 422.5v1.1M208.5 415.8v1.1M206.8 424.1v1.1M206.8 410.9v1.1M206.9 417.9v1.1M205.9 426.6v1.1M209.1 422.1v1.1M204.9 419.9v1.1M206.7 412.5v1.1M205.9 422.5v1.1M206.0 425.1v1.1M204.6 426.8v1.1M205.7 422.4v1.1M207.1 417.0v1.1M209.1 406.3v1.1M207.5 426.7v1.1M206.6 420.8v1.1M204.9 420.9v1.1M207.4 416.3v1.1M207.1 418.2v1.1M205.1 420.6v1.1M205.6 428.6v1.1M205.6 433.0v1.1M207.0 421.0v1.1M205.7 424.9v1.1M205.1 408.3v1.1M209.2 416.8v1.1M210.1 423.2v1.1M210.2 409.0v1.1M206.2 423.4v1.1M206.0 421.8v1.1M206.8 426.7v1.1M208.3 411.5v1.1M210.2 408.8v1.1M205.5 425.5v1.1M206.7 426.9v1.1M207.8 414.7v1.1M203.9 430.9v1.1M206.7 420.3v1.1M206.5 419.0v1.1M205.7 421.6v1.1M207.5 410.8v1.1M204.0 425.8v1.1M208.7 416.6v1.1M206.7 417.0v1.1M207.8 420.5v1.1M206.0 414.8v1.1M207.9 424.2v1.1M206.2 424.5v1.1M201.1 417.5v1.1M207.4 404.2v1.1M205.9 423.1v1.1M209.5 424.4v1.1M204.7 428.6v1.1M206.5 428.0v1.1M204.4 407.5v1.1M204.0 426.1v1.1M209.3 423.2v1.1M207.4 420.2v1.1M207.4 412.6v1.1M209.4 427.8v1.1M208.9 420.5v1.1M208.7 429.3v1.1M211.9 430.1v1.1M205.6 414.5v1.1M208.7 425.3v1.1M208.1 421.6v1.1M205.5 422.3v1.1M204.3 423.5v1.1M211.4 427.2v1.1M205.4 413.9v1.1M211.7 426.6v1.1M206.1 426.0v1.1M206.4 412.3v1.1M207.3 425.4v1.1M209.6 410.7v1.1M209.9 419.1v1.1M203.2 429.4v1.1M209.0 425.6v1.1M208.7 413.7v1.1M208.1 407.5v1.1M205.8 442.2v1.1M210.3 424.4v1.1M208.0 421.9v1.1M208.3 422.9v1.1M205.3 418.2v1.1M203.4 413.9v1.1M206.8 424.3v1.1M211.4 407.7v1.1M211.2 417.6v1.1M206.2 420.5v1.1M211.3 412.2v1.1M206.3 425.7v1.1M208.9 424.4v1.1M207.3 429.4v1.1M205.2 434.3v1.1M206.1 424.3v1.1M205.3 416.1v1.1M209.0 425.9v1.1M206.7 427.9v1.1M203.1 422.7v1.1M203.8 429.6v1.1M205.5 421.2v1.1M205.5 438.3v1.1M210.0 407.1v1.1M208.4 418.7v1.1M209.9 424.0v1.1M205.6 417.6v1.1M207.2 435.3v1.1M207.3 416.9v1.1M206.3 428.2v1.1M206.5 435.8v1.1M208.8 422.5v1.1M207.3 418.5v1.1M202.5 431.0v1.1M210.0 419.5v1.1M207.6 410.0v1.1M206.7 422.7v1.1M206.9 421.7v1.1M209.0 427.1v1.1M208.6 416.4v1.1M206.1 421.3v1.1M204.2 428.0v1.1M207.6 433.0v1.1M207.1 437.0v1.1M203.3 434.3v1.1M206.6 428.5v1.1M208.2 437.8v1.1M204.4 433.1v1.1M208.7 433.1v1.1M206.2 436.3v1.1M204.0 432.8v1.1M205.9 432.7v1.1M204.8 433.6v1.1M209.1 434.5v1.1M204.7 431.2v1.1M205.7 427.9v1.1M208.3 434.7v1.1M206.7 438.0v1.1M208.2 431.0v1.1M207.1 432.5v1.1M207.0 437.5v1.1M209.2 429.7v1.1M210.4 427.5v1.1M206.5 441.3v1.1M208.2 437.0v1.1M207.2 434.7v1.1M205.9 438.0v1.1M206.6 431.2v1.1M204.4 440.5v1.1M204.4 429.5v1.1M207.8 433.1v1.1M210.0 435.1v1.1M207.6 430.3v1.1M207.9 428.1v1.1M205.7 437.7v1.1M207.5 429.0v1.1M205.9 432.5v1.1M207.5 433.7v1.1M208.4 422.8v1.1M208.3 426.6v1.1M206.2 433.4v1.1M208.8 430.9v1.1M204.7 430.2v1.1M207.4 441.2v1.1M204.8 431.2v1.1M205.8 436.9v1.1M208.0 432.5v1.1M207.5 438.4v1.1M206.5 429.2v1.1M207.0 428.8v1.1M207.4 436.0v1.1M206.4 436.2v1.1M209.1 439.3v1.1M206.4 435.0v1.1M208.4 435.8v1.1M208.7 434.7v1.1M208.2 436.2v1.1M207.9 435.0v1.1M207.5 432.8v1.1M203.8 432.8v1.1M207.1 431.2v1.1M206.2 437.3v1.1M206.6 425.3v1.1M206.1 432.6v1.1M209.2 434.1v1.1M207.9 431.2v1.1M206.0 427.6v1.1M208.1 433.1v1.1M205.8 433.3v1.1M208.9 436.2v1.1M208.4 437.0v1.1M207.4 433.1v1.1M207.0 434.7v1.1M204.1 434.0v1.1M207.1 430.1v1.1M206.0 437.0v1.1M206.3 432.7v1.1M209.6 429.8v1.1" stroke="#000" stroke-width="0.70" stroke-opacity="0.32" fill="none" filter="url(#bl)"/>
<rect x="198.00" y="405.20" width="20.40" height="30.60" fill="none" stroke="#000" stroke-width="0.95"/>
<text x="180.30" y="423.60" font-size="8.30" textLength="14.40" lengthAdjust="spacingAndGlyphs" class="n">17.6</text>
<ellipse cx="259.6" cy="391.0" rx="2.8" ry="4.5" fill="#000" fill-opacity="0.85" filter="url(#bl2)"/>
<ellipse cx="259.6" cy="390.9" rx="5.9" ry="8.6" fill="url(#cg)" fill-opacity="0.99"/>
<ellipse cx="260.0" cy="369.8" rx="4.2" ry="18.7" fill="url(#cg)" fill-opacity="0.36"/>
<path d="M259.6 388.8v1.1M258.3 389.7v1.1M261.2 389.3v1.1M262.3 393.2v1.1M256.7 390.6v1.1M259.2 385.4v1.1M254.8 394.2v1.1M260.5 395.0v1.1M264.0 393.3v1.1M260.7 395.2v1.1M259.3 388.9v1.1M262.4 392.8v1.1M258.3 388.8v1.1M256.2 398.3v1.1M258.6 388.5v1.1M258.0 388.4v1.1M260.0 390.5v1.1M261.8 380.9v1.1M260.0 396.7v1.1M259.8 388.1v1.1M265.1 388.4v1.1M261.6 391.3v1.1M259.3 386.6v1.1M260.1 391.1v1.1M264.7 384.6v1.1M255.4 392.5v1.1M255.6 379.6v1.1M258.8 394.7v1.1M254.7 384.7v1.1M263.7 387.0v1.1M257.2 389.7v1.1M264.1 389.6v1.1M261.8 389.7v1.1M256.7 391.3v1.1M254.7 394.2v1.1M255.3 390.9v1.1M253.8 389.9v1.1M260.8 387.5v1.1M265.0 390.3v1.1M260.9 384.8v1.1M258.3 391.2v1.1M261.7 392.6v1.1M255.8 384.7v1.1M256.6 394.6v1.1M254.9 385.6v1.1M260.0 390.1v1.1M259.5 387.2v1.1M260.6 389.9v1.1M259.1 391.2v1.1M259.0 389.6v1.1M262.7 393.0v1.1M259.9 390.8v1.1M263.4 385.3v1.1M254.4 390.4v1.1M255.0 386.3v1.1M260.2 391.1v1.1M258.7 387.4v1.1M255.6 387.6v1.1M257.4 390.2v1.1M262.2 389.2v1.1M256.6 391.9v1.1M262.9 391.5v1.1M258.4 388.8v1.1M258.8 386.3v1.1M262.1 389.1v1.1M264.9 394.9v1.1M258.3 400.0v1.1M258.3 387.3v1.1M254.8 390.3v1.1M260.7 388.9v1.1M259.3 392.1v1.1M257.5 390.1v1.1M258.9 396.0v1.1M261.4 389.9v1.1M256.8 389.8v1.1M257.5 388.9v1.1M260.6 393.4v1.1M262.4 388.1v1.1M260.1 390.2v1.1M261.9 398.6v1.1M262.4 393.7v1.1M260.3 392.3v1.1M254.2 391.6v1.1M259.2 390.2v1.1M260.4 385.8v1.1M258.6 393.4v1.1M261.6 391.0v1.1M261.1 387.4v1.1M263.7 382.6v1.1M258.7 387.5v1.1M258.4 391.2v1.1M259.9 394.0v1.1M264.8 392.3v1.1M257.1 390.4v1.1M257.6 387.4v1.1M258.5 393.9v1.1M257.5 391.6v1.1M257.6 393.6v1.1M262.8 384.9v1.1M261.6 387.1v1.1M260.5 390.0v1.1M261.9 385.6v1.1M264.8 391.7v1.1M257.9 395.1v1.1M263.3 392.3v1.1M258.3 387.3v1.1M257.2 396.4v1.1M259.8 390.3v1.1M258.7 395.0v1.1M258.7 393.6v1.1M254.8 387.4v1.1M260.5 386.8v1.1M264.8 382.7v1.1M260.7 392.4v1.1M260.9 390.1v1.1M260.4 388.0v1.1M252.3 397.4v1.1M259.6 397.1v1.1M259.6 394.5v1.1M263.3 388.3v1.1M253.4 394.8v1.1M264.8 384.7v1.1M258.3 390.1v1.1M258.9 392.6v1.1M259.3 392.6v1.1M257.5 384.4v1.1M264.6 391.3v1.1M260.7 386.0v1.1M260.9 390.2v1.1M261.0 390.8v1.1M262.5 395.6v1.1M258.7 389.0v1.1M261.6 384.9v1.1M257.7 389.0v1.1M254.0 397.6v1.1M258.9 389.6v1.1M256.5 392.4v1.1M258.4 385.9v1.1M260.6 396.1v1.1M255.6 390.3v1.1M265.5 389.6v1.1M257.7 396.4v1.1M260.3 393.9v1.1M264.1 392.8v1.1M260.5 397.6v1.1M255.6 386.1v1.1M259.1 388.1v1.1M259.2 383.3v1.1M255.3 393.1v1.1M259.1 392.0v1.1M258.6 390.3v1.1M255.6 397.0v1.1M262.5 385.4v1.1M258.4 391.7v1.1M258.5 390.2v1.1M260.2 383.4v1.1M261.7 392.2v1.1M257.0 389.7v1.1M259.4 389.4v1.1M259.8 384.6v1.1M259.8 392.0v1.1M260.7 392.1v1.1M258.1 390.9v1.1M262.3 390.7v1.1M260.2 390.6v1.1M261.1 385.6v1.1M259.5 393.6v1.1M257.2 392.5v1.1M258.4 388.8v1.1M256.6 387.0v1.1M262.8 384.9v1.1M260.0 385.3v1.1M265.1 393.1v1.1M257.5 386.1v1.1M258.9 391.7v1.1M264.1 395.9v1.1M257.0 391.3v1.1M262.1 387.7v1.1M258.4 393.9v1.1M255.9 390.5v1.1M259.5 389.3v1.1M259.7 384.3v1.1M261.9 388.7v1.1M264.9 397.9v1.1M258.4 397.7v1.1M263.5 387.4v1.1M259.0 395.0v1.1M257.7 389.1v1.1M252.9 385.1v1.1M256.5 387.7v1.1M257.7 391.4v1.1M260.3 389.0v1.1M256.0 391.3v1.1M261.3 390.2v1.1M263.4 388.7v1.1M261.9 391.4v1.1M263.2 396.5v1.1M256.5 383.6v1.1M262.4 391.6v1.1M260.6 388.7v1.1M257.6 394.9v1.1M260.9 388.4v1.1M259.8 391.5v1.1M256.1 388.0v1.1M261.0 390.9v1.1M255.9 391.6v1.1M265.0 392.7v1.1M256.1 388.7v1.1M258.0 387.5v1.1M257.4 388.2v1.1M259.4 385.7v1.1M262.1 391.6v1.1M264.9 393.6v1.1M262.2 392.4v1.1M259.4 386.4v1.1M261.4 390.8v1.1M257.9 392.0v1.1M260.5 388.0v1.1M263.6 388.6v1.1M260.0 394.4v1.1M258.3 389.2v1.1M260.9 389.2v1.1M258.3 386.2v1.1M260.3 389.0v1.1M261.9 394.2v1.1M259.6 393.3v1.1M257.8 396.5v1.1M258.2 390.0v1.1M258.7 388.6v1.1M261.8 390.4v1.1M257.3 393.3v1.1M259.8 392.6v1.1M260.2 388.7v1.1M254.8 389.3v1.1M257.3 395.0v1.1M259.1 396.0v1.1M265.8 394.8v1.1M266.1 387.0v1.1M258.3 386.5v1.1M256.1 385.6v1.1M262.0 387.5v1.1M258.8 392.6v1.1M258.6 396.3v1.1M262.9 393.1v1.1M264.1 392.5v1.1M260.2 394.6v1.1M262.5 385.4v1.1M262.6 394.3v1.1M253.6 398.1v1.1M260.1 395.8v1.1M256.5 391.3v1.1M257.8 387.3v1.1M260.4 385.1v1.1M259.6 393.1v1.1M257.7 386.4v1.1M261.2 393.9v1.1M262.1 388.5v1.1M258.6 395.6v1.1M262.0 391.7v1.1M260.3 389.9v1.1M261.3 393.1v1.1M259.8 391.5v1.1M256.0 390.0v1.1M263.9 391.3v1.1M256.0 388.8v1.1M259.9 395.9v1.1M265.4 390.4v1.1M259.3 391.0v1.1M256.7 395.4v1.1M256.5 393.2v1.1M258.4 386.6v1.1M260.6 396.8v1.1M256.4 391.3v1.1M257.8 394.5v1.1M255.7 385.7v1.1M258.6 385.7v1.1M262.3 384.9v1.1M259.8 388.7v1.1M262.3 388.5v1.1M259.2 396.8v1.1M261.4 395.2v1.1M263.5 392.4v1.1M260.5 384.2v1.1M255.1 389.0v1.1M260.4 394.7v1.1M257.6 389.3v1.1M265.2 386.3v1.1M259.2 390.1v1.1M257.8 396.1v1.1M255.4 389.4v1.1M255.2 387.9v1.1M263.8 383.0v1.1M255.2 390.5v1.1M260.6 387.8v1.1M260.8 389.8v1.1M258.6 390.9v1.1M262.9 386.1v1.1M262.0 391.6v1.1M259.1 387.8v1.1M260.6 393.5v1.1M257.2 393.3v1.1M259.7 393.6v1.1M260.4 389.8v1.1M260.2 392.9v1.1M255.8 390.6v1.1M253.2 391.3v1.1M258.4 390.6v1.1M262.3 394.0v1.1M263.5 394.0v1.1M259.1 387.5v1.1M266.6 388.0v1.1M258.7 392.1v1.1M257.5 391.1v1.1M260.2 388.5v1.1M256.9 390.6v1.1M260.8 386.8v1.1M260.0 390.9v1.1M257.3 392.1v1.1M256.0 393.9v1.1M257.8 394.3v1.1M259.9 390.7v1.1M256.1 393.3v1.1M256.7 398.8v1.1M260.8 391.3v1.1M259.7 393.1v1.1M260.9 392.0v1.1M262.0 389.9v1.1M264.0 384.8v1.1M255.3 392.7v1.1M259.6 384.9v1.1M256.4 387.8v1.1M263.0 392.9v1.1M255.2 385.5v1.1M260.0 385.9v1.1M258.0 388.3v1.1M259.8 392.7v1.1M257.8 388.6v1.1M260.4 396.6v1.1M260.8 389.2v1.1M262.2 390.0v1.1M256.0 393.0v1.1M264.0 386.3v1.1M261.7 385.9v1.1M259.4 390.1v1.1M258.7 390.1v1.1M261.5 388.6v1.1M259.0 389.4v1.1M260.4 388.1v1.1M261.8 391.6v1.1M258.1 385.7v1.1M258.9 394.3v1.1M261.4 390.5v1.1M265.1 396.3v1.1M261.1 395.7v1.1M259.0 389.1v1.1M260.3 383.4v1.1M259.7 388.6v1.1M263.3 392.6v1.1M263.8 388.8v1.1M263.6 391.1v1.1M261.1 392.0v1.1M256.3 393.9v1.1M258.5 392.9v1.1M259.5 386.8v1.1M258.8 391.6v1.1M258.9 396.8v1.1M262.9 390.8v1.1M258.7 395.9v1.1M259.8 394.9v1.1M256.0 383.0v1.1M261.7 393.9v1.1M259.2 389.9v1.1M260.9 392.4v1.1M259.5 390.6v1.1M260.3 394.5v1.1M261.6 380.8v1.1M260.6 389.3v1.1M262.6 393.2v1.1M258.3 390.2v1.1M253.4 390.0v1.1M256.7 390.9v1.1M257.7 395.1v1.1M263.1 389.1v1.1M257.3 395.3v1.1M256.1 389.2v1.1M258.7 391.4v1.1M259.8 387.0v1.1M262.0 391.9v1.1M260.5 396.4v1.1M264.7 391.4v1.1M258.6 389.4v1.1M259.4 386.4v1.1M257.8 388.5v1.1M261.1 393.3v1.1M253.1 384.4v1.1M258.0 386.4v1.1M259.6 383.9v1.1M259.0 391.2v1.1M260.7 388.8v1.1M260.8 393.3v1.1M258.7 386.5v1.1M258.3 391.6v1.1M260.4 384.1v1.1M255.7 384.4v1.1M264.5 392.1v1.1M260.1 386.0v1.1M254.0 398.1v1.1M261.3 381.2v1.1M264.0 391.9v1.1M259.5 391.4v1.1M262.1 383.0v1.1M260.4 385.6v1.1M258.6 389.7v1.1M258.5 387.7v1.1M260.1 388.9v1.1M260.4 393.3v1.1M257.4 389.7v1.1M257.4 393.5v1.1M261.6 394.3v1.1M262.5 390.9v1.1M257.0 387.6v1.1M262.9 390.9v1.1M261.8 388.3v1.1M259.1 397.7v1.1M262.3 384.5v1.1M257.8 391.0v1.1M262.5 394.1v1.1M262.0 395.1v1.1M261.5 393.6v1.1M257.3 385.9v1.1M258.3 395.2v1.1M263.3 386.4v1.1M258.9 390.7v1.1M261.2 391.7v1.1M263.6 391.4v1.1M259.1 389.5v1.1M262.6 389.5v1.1M261.1 388.9v1.1M256.2 380.3v1.1M258.9 386.2v1.1M262.4 388.1v1.1M256.9 393.0v1.1M258.5 399.0v1.1M258.4 390.1v1.1M257.4 396.5v1.1M260.8 388.7v1.1M259.6 380.6v1.1M263.9 389.8v1.1M263.6 386.0v1.1M264.5 386.9v1.1M260.0 398.7v1.1M258.3 389.9v1.1M259.4 390.3v1.1M260.3 389.1v1.1M261.2 387.8v1.1M264.1 392.8v1.1M256.2 387.4v1.1M258.8 394.0v1.1M253.7 394.7v1.1M253.6 387.0v1.1M257.1 388.2v1.1M262.4 393.9v1.1M259.5 388.8v1.1M256.8 394.9v1.1M258.3 401.8v1.1M254.9 386.8v1.1M262.0 397.8v1.1M258.9 391.7v1.1M257.9 390.7v1.1M253.1 392.6v1.1M258.2 391.7v1.1M259.4 385.5v1.1M254.9 385.4v1.1M259.7 393.0v1.1M263.4 394.0v1.1M266.4 394.2v1.1M265.6 393.3v1.1M260.9 382.1v1.1M262.9 389.1v1.1M258.6 383.9v1.1M263.9 389.7v1.1M258.5 386.3v1.1M259.6 391.7v1.1M261.8 390.3v1.1M260.5 390.0v1.1M258.5 394.9v1.1M259.4 387.2v1.1M265.3 385.6v1.1M258.4 390.3v1.1M259.3 389.4v1.1M262.9 394.2v1.1M255.6 398.1v1.1M256.1 385.2v1.1M262.0 385.3v1.1M256.0 393.4v1.1M261.5 391.5v1.1M264.3 394.4v1.1M258.4 387.7v1.1M261.2 387.9v1.1M260.7 393.6v1.1M260.7 383.5v1.1M265.1 389.5v1.1M261.0 382.5v1.1M259.7 384.1v1.1M264.9 387.7v1.1M255.5 389.2v1.1M256.9 390.0v1.1M256.9 382.2v1.1M259.2 388.4v1.1M257.3 392.8v1.1M262.5 389.3v1.1M259.6 391.4v1.1M262.8 390.6v1.1M256.3 392.6v1.1M267.4 392.6v1.1M260.9 387.3v1.1M255.0 392.0v1.1M261.7 391.7v1.1" stroke="#000" stroke-width="0.70" stroke-opacity="0.45" fill="none" filter="url(#bl)"/>
<path d="M260.3 379.9v1.1M259.8 354.1v1.1M259.8 370.8v1.1M261.5 374.0v1.1M261.4 373.2v1.1M260.6 359.9v1.1M259.4 377.7v1.1M259.8 365.9v1.1M261.7 353.4v1.1M259.0 370.9v1.1M258.5 355.3v1.1M263.6 367.4v1.1M260.2 374.4v1.1M263.6 363.6v1.1M259.8 366.6v1.1M261.8 377.0v1.1M263.0 365.8v1.1M257.8 364.2v1.1M256.4 372.2v1.1M256.2 372.9v1.1M258.1 372.9v1.1M262.8 368.4v1.1M259.8 369.7v1.1M258.9 372.2v1.1M259.6 370.7v1.1M258.5 373.7v1.1M260.7 362.4v1.1M259.9 358.0v1.1M257.4 360.3v1.1M260.8 366.2v1.1M259.9 371.6v1.1M259.5 367.9v1.1M259.0 387.0v1.1M258.5 374.3v1.1M259.6 384.1v1.1M257.9 368.6v1.1M260.8 365.4v1.1M264.1 371.5v1.1M260.8 355.7v1.1M260.8 359.6v1.1M261.1 372.4v1.1M259.8 364.8v1.1M258.5 364.2v1.1M263.0 362.8v1.1M259.5 372.7v1.1M257.5 366.0v1.1M262.2 371.4v1.1M261.1 375.2v1.1M261.5 374.0v1.1M255.5 367.6v1.1M262.7 359.9v1.1M261.8 381.2v1.1M259.8 367.1v1.1M258.1 374.6v1.1M260.5 373.9v1.1M259.9 369.7v1.1M258.9 378.1v1.1M259.8 379.5v1.1M261.7 363.4v1.1M257.9 377.8v1.1M260.8 366.4v1.1M262.0 352.9v1.1M261.1 366.5v1.1M261.4 364.6v1.1M259.1 374.9v1.1M260.7 357.7v1.1M261.0 375.1v1.1M256.9 361.6v1.1M257.9 361.4v1.1M258.7 384.8v1.1M258.1 361.6v1.1M259.5 380.1v1.1M259.3 377.1v1.1M262.0 366.0v1.1M260.8 377.4v1.1M260.5 382.5v1.1M260.8 382.3v1.1M258.1 371.3v1.1M255.5 357.8v1.1M259.0 366.1v1.1M259.6 373.6v1.1M257.3 355.4v1.1M261.4 371.8v1.1M261.8 376.2v1.1M260.6 365.1v1.1M261.0 361.7v1.1M257.5 366.7v1.1M264.2 361.5v1.1M262.5 367.9v1.1M263.3 365.3v1.1M257.8 364.1v1.1M259.6 373.9v1.1M258.6 371.0v1.1M264.5 369.5v1.1M261.3 390.7v1.1M258.6 369.2v1.1M259.4 371.5v1.1M258.5 366.9v1.1M261.4 369.4v1.1M256.4 378.6v1.1M260.7 385.0v1.1M258.4 372.2v1.1M258.3 375.7v1.1M258.9 379.8v1.1M257.9 374.8v1.1M261.4 377.6v1.1M261.0 365.6v1.1M260.2 369.8v1.1M260.0 377.6v1.1M258.2 366.8v1.1M262.5 368.2v1.1M261.0 365.0v1.1M260.1 379.9v1.1M263.0 369.7v1.1M258.8 381.5v1.1M256.4 367.8v1.1M261.4 388.6v1.1M262.0 368.2v1.1M259.9 368.9v1.1M258.2 366.0v1.1M260.6 355.5v1.1M261.8 370.3v1.1M256.9 357.2v1.1M258.7 382.7v1.1M260.9 360.2v1.1M259.0 355.9v1.1M258.2 355.2v1.1M263.4 375.0v1.1M262.4 373.0v1.1M258.6 377.3v1.1M260.9 363.5v1.1M256.9 369.0v1.1M257.7 366.9v1.1M256.1 354.3v1.1M261.8 373.7v1.1M260.3 367.1v1.1M260.4 361.4v1.1M261.5 382.2v1.1M258.8 356.6v1.1M260.0 355.2v1.1M263.7 368.4v1.1M260.8 370.7v1.1M259.0 363.1v1.1M257.9 385.5v1.1M260.1 378.1v1.1M262.8 366.8v1.1M259.0 379.4v1.1M260.5 377.4v1.1M261.5 379.9v1.1M258.6 383.1v1.1M262.3 377.8v1.1M259.6 380.2v1.1M260.8 383.4v1.1M259.7 377.6v1.1M258.9 383.7v1.1M263.0 381.4v1.1M258.5 389.3v1.1M261.9 378.3v1.1M257.7 377.6v1.1M265.0 385.0v1.1M258.2 378.1v1.1M259.3 376.4v1.1M260.9 377.0v1.1M259.5 382.7v1.1M259.5 384.1v1.1M259.0 384.7v1.1M258.8 378.8v1.1M257.4 381.9v1.1M261.1 380.8v1.1M262.4 382.9v1.1M260.5 375.1v1.1M259.6 382.0v1.1M257.9 385.7v1.1M260.5 385.9v1.1M257.8 386.9v1.1M262.2 381.2v1.1M259.3 386.3v1.1M258.2 380.0v1.1M261.8 380.5v1.1M258.5 376.8v1.1M259.1 385.1v1.1M264.6 377.4v1.1M257.8 382.9v1.1M259.6 379.3v1.1M259.6 385.3v1.1M261.2 378.2v1.1M260.8 376.6v1.1M261.8 373.8v1.1M259.2 383.9v1.1M262.8 382.5v1.1M256.5 380.1v1.1M261.5 382.9v1.1M260.6 378.8v1.1M256.6 379.1v1.1M260.2 378.5v1.1M258.4 382.1v1.1M259.3 381.4v1.1M261.7 378.3v1.1M261.6 376.9v1.1M261.4 382.1v1.1M260.8 383.2v1.1M260.3 374.8v1.1M262.8 381.5v1.1M260.3 380.9v1.1M260.6 380.0v1.1M257.6 376.7v1.1M263.0 382.9v1.1M258.0 386.3v1.1M260.4 376.9v1.1M258.6 378.5v1.1M261.9 383.3v1.1M259.5 379.9v1.1M258.7 381.1v1.1" stroke="#000" stroke-width="0.70" stroke-opacity="0.32" fill="none" filter="url(#bl)"/>
<rect x="250.80" y="352.60" width="20.70" height="29.90" fill="none" stroke="#000" stroke-width="0.95"/>
<text x="234.10" y="369.60" font-size="8.30" textLength="13.10" lengthAdjust="spacingAndGlyphs" class="n">15.5</text>
<ellipse cx="259.6" cy="443.3" rx="2.8" ry="4.5" fill="#000" fill-opacity="0.85" filter="url(#bl2)"/>
<ellipse cx="259.6" cy="443.2" rx="5.9" ry="8.6" fill="url(#cg)" fill-opacity="0.99"/>
<ellipse cx="260.0" cy="422.1" rx="4.2" ry="18.7" fill="url(#cg)" fill-opacity="0.30"/>
<path d="M256.7 446.0v1.1M259.3 446.3v1.1M263.9 443.8v1.1M262.0 430.9v1.1M257.0 443.6v1.1M257.2 446.8v1.1M258.7 441.9v1.1M253.8 445.3v1.1M258.2 447.6v1.1M261.0 442.4v1.1M262.0 441.6v1.1M257.3 442.5v1.1M258.9 446.8v1.1M257.7 438.5v1.1M263.3 446.1v1.1M258.6 443.1v1.1M255.1 449.0v1.1M258.1 434.3v1.1M259.2 444.6v1.1M261.4 443.6v1.1M260.3 442.0v1.1M259.4 441.7v1.1M266.4 442.9v1.1M260.0 434.7v1.1M259.5 444.8v1.1M261.5 436.7v1.1M259.4 448.8v1.1M259.1 441.9v1.1M261.2 442.3v1.1M258.1 440.2v1.1M254.9 443.4v1.1M261.2 445.0v1.1M257.5 444.3v1.1M256.7 436.4v1.1M261.3 437.7v1.1M255.8 441.4v1.1M258.7 448.6v1.1M262.4 450.7v1.1M260.1 436.3v1.1M256.1 443.7v1.1M255.8 444.3v1.1M262.5 444.9v1.1M255.0 447.0v1.1M264.3 446.6v1.1M266.1 439.5v1.1M259.2 445.9v1.1M262.4 448.4v1.1M259.2 440.0v1.1M259.0 439.9v1.1M259.9 441.3v1.1M261.7 439.9v1.1M262.1 439.6v1.1M263.0 447.4v1.1M259.5 441.8v1.1M260.6 444.4v1.1M256.8 445.4v1.1M254.5 438.1v1.1M256.3 443.4v1.1M257.3 433.5v1.1M262.6 440.4v1.1M258.7 443.9v1.1M260.6 444.9v1.1M256.1 443.9v1.1M262.3 445.6v1.1M263.6 437.0v1.1M262.9 437.1v1.1M256.5 443.4v1.1M266.0 447.3v1.1M259.2 443.0v1.1M262.6 437.9v1.1M258.6 440.4v1.1M262.9 444.8v1.1M260.5 447.4v1.1M258.9 439.1v1.1M262.1 435.6v1.1M260.4 442.6v1.1M255.2 443.4v1.1M257.2 448.0v1.1M261.7 446.2v1.1M262.3 442.7v1.1M262.7 445.0v1.1M261.2 446.8v1.1M265.1 436.1v1.1M258.4 437.0v1.1M256.2 445.4v1.1M257.0 441.9v1.1M258.1 446.5v1.1M264.0 443.1v1.1M257.7 440.5v1.1M259.1 436.4v1.1M256.3 443.4v1.1M260.3 443.4v1.1M260.6 439.8v1.1M259.3 438.8v1.1M260.3 434.9v1.1M261.1 443.6v1.1M258.5 443.3v1.1M262.4 442.9v1.1M264.9 447.4v1.1M260.0 441.9v1.1M256.4 438.5v1.1M260.2 443.2v1.1M260.6 449.2v1.1M260.8 444.2v1.1M259.0 438.5v1.1M258.4 442.3v1.1M261.6 445.3v1.1M256.9 442.3v1.1M261.7 437.2v1.1M259.0 437.1v1.1M257.8 447.2v1.1M260.7 451.1v1.1M256.8 446.2v1.1M259.2 436.5v1.1M260.2 443.6v1.1M258.9 447.4v1.1M258.8 445.5v1.1M259.7 440.6v1.1M260.7 446.8v1.1M263.6 447.3v1.1M255.1 437.5v1.1M258.9 447.3v1.1M254.5 443.2v1.1M256.4 445.7v1.1M262.5 441.6v1.1M263.4 445.6v1.1M259.2 448.3v1.1M265.5 442.4v1.1M260.4 444.0v1.1M261.9 441.1v1.1M259.1 447.3v1.1M259.4 447.9v1.1M260.4 449.4v1.1M263.7 438.3v1.1M261.6 441.8v1.1M258.1 446.1v1.1M262.6 444.8v1.1M262.7 449.0v1.1M260.7 445.1v1.1M261.0 448.6v1.1M257.3 442.5v1.1M256.4 440.6v1.1M260.7 441.4v1.1M257.7 441.8v1.1M262.8 450.8v1.1M260.1 439.9v1.1M260.2 440.4v1.1M260.6 445.4v1.1M265.0 439.9v1.1M259.4 439.5v1.1M262.6 439.1v1.1M263.2 449.8v1.1M255.1 447.0v1.1M265.9 443.2v1.1M259.6 450.6v1.1M259.1 442.4v1.1M257.3 445.3v1.1M263.3 439.8v1.1M262.0 444.7v1.1M264.0 442.4v1.1M257.7 443.7v1.1M261.0 441.7v1.1M257.2 445.3v1.1M255.4 438.3v1.1M259.4 437.5v1.1M261.1 436.5v1.1M259.2 444.4v1.1M263.4 439.5v1.1M260.5 447.4v1.1M257.5 444.2v1.1M262.8 447.1v1.1M259.6 444.2v1.1M257.8 444.9v1.1M260.9 440.8v1.1M266.2 445.3v1.1M257.5 442.9v1.1M261.1 438.8v1.1M257.3 445.7v1.1M259.5 442.6v1.1M262.6 441.8v1.1M255.7 438.5v1.1M259.3 442.1v1.1M258.7 439.4v1.1M255.0 441.8v1.1M260.9 443.9v1.1M261.4 454.3v1.1M256.6 440.4v1.1M260.2 433.4v1.1M261.6 442.4v1.1M268.4 442.4v1.1M259.5 442.8v1.1M259.1 440.2v1.1M262.7 444.1v1.1M260.6 441.8v1.1M254.6 441.0v1.1M253.6 440.4v1.1M260.7 441.8v1.1M259.9 449.0v1.1M261.2 446.7v1.1M258.8 441.5v1.1M255.9 448.5v1.1M262.8 442.5v1.1M261.0 443.8v1.1M263.4 444.8v1.1M259.5 438.7v1.1M253.1 433.7v1.1M259.1 447.4v1.1M257.8 441.8v1.1M261.4 449.1v1.1M253.3 442.2v1.1M258.4 446.0v1.1M258.6 436.0v1.1M253.3 436.3v1.1M258.6 438.6v1.1M256.0 450.5v1.1M255.6 441.6v1.1M263.0 442.8v1.1M254.2 442.8v1.1M259.6 448.0v1.1M257.5 436.8v1.1M258.6 438.4v1.1M260.2 445.3v1.1M259.5 442.5v1.1M256.3 437.3v1.1M260.5 448.2v1.1M261.9 452.2v1.1M257.0 434.4v1.1M259.5 443.8v1.1M257.4 435.4v1.1M263.4 435.3v1.1M261.1 446.0v1.1M263.3 442.5v1.1M262.2 441.8v1.1M261.7 447.9v1.1M259.6 435.9v1.1M260.8 431.0v1.1M263.5 440.3v1.1M258.2 446.6v1.1M262.1 444.7v1.1M258.1 445.5v1.1M260.0 441.3v1.1M257.5 444.6v1.1M257.6 447.8v1.1M254.7 438.8v1.1M260.2 436.1v1.1M264.8 437.2v1.1M258.0 441.1v1.1M260.1 448.1v1.1M258.5 440.7v1.1M263.2 442.7v1.1M261.8 442.9v1.1M258.2 440.3v1.1M256.9 439.6v1.1M260.1 442.5v1.1M261.8 443.1v1.1M260.8 439.3v1.1M255.2 446.7v1.1M264.6 441.6v1.1M262.0 439.3v1.1M257.2 444.2v1.1M262.0 445.0v1.1M262.7 443.1v1.1M259.3 443.1v1.1M257.2 441.3v1.1M255.1 438.1v1.1M261.8 440.6v1.1M253.4 438.2v1.1M261.8 442.4v1.1M259.4 445.0v1.1M262.8 441.5v1.1M260.3 450.5v1.1M261.3 440.6v1.1M257.4 440.9v1.1M262.8 434.7v1.1M261.4 441.0v1.1M261.4 443.4v1.1M255.3 440.8v1.1M254.2 442.1v1.1M257.5 446.3v1.1M254.6 443.8v1.1M257.0 440.7v1.1M255.0 449.9v1.1M259.0 443.0v1.1M265.9 435.9v1.1M259.4 439.1v1.1M258.9 441.1v1.1M261.0 445.6v1.1M259.8 447.3v1.1M258.8 437.7v1.1M255.0 446.0v1.1M258.7 444.6v1.1M261.6 439.1v1.1M263.2 445.6v1.1M264.2 445.5v1.1M256.5 445.0v1.1M260.0 437.1v1.1M262.1 441.7v1.1M260.8 449.1v1.1M263.2 441.1v1.1M261.7 446.7v1.1M260.1 446.9v1.1M261.2 441.0v1.1M263.5 441.8v1.1M258.3 441.2v1.1M254.7 446.9v1.1M256.3 435.6v1.1M260.6 434.1v1.1M258.9 445.6v1.1M260.6 444.2v1.1M258.9 439.0v1.1M260.4 445.8v1.1M259.5 446.5v1.1M253.0 439.1v1.1M252.4 441.0v1.1M260.1 437.7v1.1M258.1 442.4v1.1M257.4 441.8v1.1M262.3 442.7v1.1M262.5 444.4v1.1M258.2 443.0v1.1M262.2 440.5v1.1M257.8 447.5v1.1M262.0 445.2v1.1M258.2 442.0v1.1M260.7 444.3v1.1M262.1 438.4v1.1M262.1 438.8v1.1M257.0 440.8v1.1M258.2 446.8v1.1M263.0 451.0v1.1M257.8 443.3v1.1M263.3 436.0v1.1M261.9 450.1v1.1M262.4 439.8v1.1M259.4 443.3v1.1M257.8 438.6v1.1M262.8 439.3v1.1M262.6 438.5v1.1M257.5 433.7v1.1M252.8 450.0v1.1M257.9 441.2v1.1M262.0 437.0v1.1M259.7 447.1v1.1M261.9 448.5v1.1M259.3 436.8v1.1M259.7 444.8v1.1M256.8 441.5v1.1M259.6 451.3v1.1M257.8 439.6v1.1M259.1 440.2v1.1M259.8 440.7v1.1M256.3 440.0v1.1M254.4 449.3v1.1M263.5 442.2v1.1M260.2 445.4v1.1M260.6 439.2v1.1M257.2 445.9v1.1M258.9 444.4v1.1M258.6 446.2v1.1M259.3 443.7v1.1M261.2 434.8v1.1M262.2 447.9v1.1M258.3 436.3v1.1M260.7 439.2v1.1M256.9 448.8v1.1M259.4 438.5v1.1M256.1 444.2v1.1M260.6 444.3v1.1M256.5 440.0v1.1M259.6 441.2v1.1M259.8 441.4v1.1M259.5 443.4v1.1M261.4 447.8v1.1M259.5 434.7v1.1M263.6 436.7v1.1M260.3 447.4v1.1M261.4 447.9v1.1M259.7 451.4v1.1M261.1 436.2v1.1M261.7 441.4v1.1M262.6 439.9v1.1M262.0 437.6v1.1M258.9 442.3v1.1M262.8 439.5v1.1M260.6 447.1v1.1M254.7 448.8v1.1M259.4 443.5v1.1M265.0 442.5v1.1M261.7 447.7v1.1M263.7 447.5v1.1M258.0 444.2v1.1M255.7 437.9v1.1M258.8 441.5v1.1M258.1 439.7v1.1M264.3 437.5v1.1M261.1 437.7v1.1M260.5 439.4v1.1M255.0 434.7v1.1M262.9 447.6v1.1M258.9 442.0v1.1M260.6 436.6v1.1M261.4 454.5v1.1M258.4 436.2v1.1M258.1 442.7v1.1M258.8 449.6v1.1M261.4 440.4v1.1M260.3 440.9v1.1M257.5 448.7v1.1M259.2 440.4v1.1M263.6 441.6v1.1M262.4 432.2v1.1M261.6 438.2v1.1M258.6 446.3v1.1M264.5 433.6v1.1M263.3 441.5v1.1M258.3 446.8v1.1M259.3 440.4v1.1M259.1 441.8v1.1M258.3 447.0v1.1M264.2 439.1v1.1M257.9 442.2v1.1M257.6 443.1v1.1M260.1 442.7v1.1M257.6 443.9v1.1M256.2 441.2v1.1M259.2 442.9v1.1M261.9 441.9v1.1M256.9 444.3v1.1M259.3 445.8v1.1M264.2 448.7v1.1M259.6 438.8v1.1M260.3 441.9v1.1M257.6 436.6v1.1M262.8 438.8v1.1M262.5 446.9v1.1M257.1 444.3v1.1M259.4 436.9v1.1M257.9 443.2v1.1M262.3 439.8v1.1M259.1 446.8v1.1M258.5 438.8v1.1M254.9 444.0v1.1M257.6 437.4v1.1M258.3 438.5v1.1M269.3 439.3v1.1M262.3 436.0v1.1M262.6 443.6v1.1M258.6 452.4v1.1M256.8 436.9v1.1M250.5 431.1v1.1M257.5 441.6v1.1M262.3 441.6v1.1M257.3 437.4v1.1M265.1 439.8v1.1M265.5 441.5v1.1M258.6 440.2v1.1M261.4 445.7v1.1M258.6 444.3v1.1M255.7 434.3v1.1M254.7 439.7v1.1M257.7 445.2v1.1M258.7 439.9v1.1M258.8 435.1v1.1M255.8 450.9v1.1M261.7 435.2v1.1M255.9 443.6v1.1M252.7 431.2v1.1M258.3 439.2v1.1M262.3 436.9v1.1M255.7 444.0v1.1M256.7 442.6v1.1M253.7 440.1v1.1M265.7 435.2v1.1M259.6 441.4v1.1M260.2 441.2v1.1M262.2 438.8v1.1M256.8 442.8v1.1M260.5 433.5v1.1M262.2 440.1v1.1M263.0 442.0v1.1M255.8 440.2v1.1M262.0 446.8v1.1M259.2 444.9v1.1M264.1 443.3v1.1M264.5 445.0v1.1M256.7 436.1v1.1M257.2 450.0v1.1M263.6 437.7v1.1M259.7 451.6v1.1M257.2 442.0v1.1M258.7 446.0v1.1M253.8 443.5v1.1M260.4 447.3v1.1M261.2 443.8v1.1M256.8 443.3v1.1M258.2 450.4v1.1M260.9 442.2v1.1M260.3 442.3v1.1M258.6 445.0v1.1M259.8 437.8v1.1M262.7 445.5v1.1M263.5 440.1v1.1M262.9 449.1v1.1M262.0 443.9v1.1M259.7 434.7v1.1M256.6 441.7v1.1M263.2 444.5v1.1M258.1 443.0v1.1M259.5 438.6v1.1M259.7 446.0v1.1M256.2 440.1v1.1M259.7 437.3v1.1M256.9 444.1v1.1M266.8 442.4v1.1M258.2 449.5v1.1M260.3 433.2v1.1M258.1 433.0v1.1M258.8 448.9v1.1M263.0 440.5v1.1" stroke="#000" stroke-width="0.70" stroke-opacity="0.45" fill="none" filter="url(#bl)"/>
<path d="M258.8 418.3v1.1M258.0 413.7v1.1M260.7 422.9v1.1M260.4 420.3v1.1M257.2 426.5v1.1M260.1 428.7v1.1M260.4 413.1v1.1M261.9 428.5v1.1M259.6 427.9v1.1M260.9 417.7v1.1M260.5 415.2v1.1M262.6 417.9v1.1M261.9 437.3v1.1M260.2 427.6v1.1M262.9 405.6v1.1M264.1 427.0v1.1M257.8 423.1v1.1M264.2 422.7v1.1M262.7 431.0v1.1M258.9 425.0v1.1M263.4 415.0v1.1M260.3 417.1v1.1M259.1 420.1v1.1M256.0 416.3v1.1M256.8 413.6v1.1M259.0 430.7v1.1M258.0 429.4v1.1M259.3 415.2v1.1M256.9 423.2v1.1M259.9 428.6v1.1M261.1 433.4v1.1M260.1 422.9v1.1M261.0 424.1v1.1M265.0 421.0v1.1M261.0 429.6v1.1M261.1 407.2v1.1M260.8 419.0v1.1M258.2 429.9v1.1M258.8 425.4v1.1M258.8 427.0v1.1M262.6 414.6v1.1M258.6 429.9v1.1M258.4 431.0v1.1M260.8 414.1v1.1M259.0 433.3v1.1M261.7 423.2v1.1M260.5 431.3v1.1M258.9 424.9v1.1M260.9 433.4v1.1M259.4 420.4v1.1M260.6 420.1v1.1M259.6 426.7v1.1M259.2 419.6v1.1M260.6 423.0v1.1M259.4 421.2v1.1M257.8 415.6v1.1M258.7 412.6v1.1M262.9 440.0v1.1M259.6 421.2v1.1M259.8 418.9v1.1M259.0 429.7v1.1M261.1 410.9v1.1M260.5 414.8v1.1M261.3 415.4v1.1M260.7 415.6v1.1M259.7 425.1v1.1M261.4 410.1v1.1M259.0 414.9v1.1M256.9 424.0v1.1M259.7 419.4v1.1M258.5 437.2v1.1M259.4 424.4v1.1M258.0 420.8v1.1M255.7 419.7v1.1M260.2 413.9v1.1M258.0 412.8v1.1M259.1 430.9v1.1M260.3 416.6v1.1M259.1 428.6v1.1M258.8 414.3v1.1M261.5 421.8v1.1M262.5 419.8v1.1M259.5 425.5v1.1M260.4 422.2v1.1M258.3 416.1v1.1M258.6 417.6v1.1M262.5 414.1v1.1M260.9 425.6v1.1M257.1 430.6v1.1M260.5 425.0v1.1M260.4 430.4v1.1M260.8 416.3v1.1M258.9 414.5v1.1M258.6 414.5v1.1M260.5 430.1v1.1M259.7 430.6v1.1M262.2 427.7v1.1M262.1 426.0v1.1M257.4 415.5v1.1M260.5 421.7v1.1M257.6 421.4v1.1M257.3 419.7v1.1M261.2 424.1v1.1M259.0 427.2v1.1M263.7 419.4v1.1M260.3 409.6v1.1M261.5 408.0v1.1M259.6 429.6v1.1M259.5 409.3v1.1M264.3 431.9v1.1M258.2 419.1v1.1M260.2 430.1v1.1M262.7 427.5v1.1M257.1 411.8v1.1M261.5 410.3v1.1M262.5 428.5v1.1M260.2 428.9v1.1M258.7 430.7v1.1M260.2 416.7v1.1M258.6 425.8v1.1M259.4 435.0v1.1M259.3 431.5v1.1M262.9 443.3v1.1M257.7 437.5v1.1M259.9 433.1v1.1M258.6 432.2v1.1M260.5 434.6v1.1M259.0 431.3v1.1M261.1 438.5v1.1M259.2 435.0v1.1M261.2 434.4v1.1M258.4 433.2v1.1M260.1 429.2v1.1M260.0 433.1v1.1M258.8 439.0v1.1M260.5 430.1v1.1M262.0 432.1v1.1M258.2 428.9v1.1M261.8 429.0v1.1M260.5 434.8v1.1M259.0 435.8v1.1M261.7 432.9v1.1M260.0 435.5v1.1M260.1 437.8v1.1M261.3 433.5v1.1M260.3 431.8v1.1M261.1 430.6v1.1M259.9 428.7v1.1M264.0 434.2v1.1M260.1 434.8v1.1M257.1 438.3v1.1M257.2 435.4v1.1M259.3 435.8v1.1M261.1 434.1v1.1M261.7 432.0v1.1M260.4 432.0v1.1M258.8 429.3v1.1M260.6 439.2v1.1M258.5 431.4v1.1M258.8 434.5v1.1M256.6 433.7v1.1M258.7 429.6v1.1M260.4 433.8v1.1M260.5 437.5v1.1M257.6 437.1v1.1M260.9 441.8v1.1M262.3 435.0v1.1M256.7 434.1v1.1M262.6 436.1v1.1M259.8 428.8v1.1M260.1 427.9v1.1M258.6 431.7v1.1M260.7 430.9v1.1M259.9 433.0v1.1M260.4 435.3v1.1M260.8 432.1v1.1M260.2 430.9v1.1" stroke="#000" stroke-width="0.70" stroke-opacity="0.32" fill="none" filter="url(#bl)"/>
<rect x="250.80" y="405.20" width="20.70" height="30.60" fill="none" stroke="#000" stroke-width="0.95"/>
<text x="233.60" y="423.60" font-size="8.30" textLength="14.10" lengthAdjust="spacingAndGlyphs" class="n">12.9</text>
<rect x="171.50" y="351.30" width="106.50" height="105.50" fill="none" stroke="#000" stroke-width="1.45"/>
<line x1="225.00" y1="351.30" x2="225.00" y2="456.80" stroke="#000" stroke-width="1.45"/>
<line x1="171.50" y1="403.60" x2="278.00" y2="403.60" stroke="#000" stroke-width="1.45"/>
</svg>
</body></html>
